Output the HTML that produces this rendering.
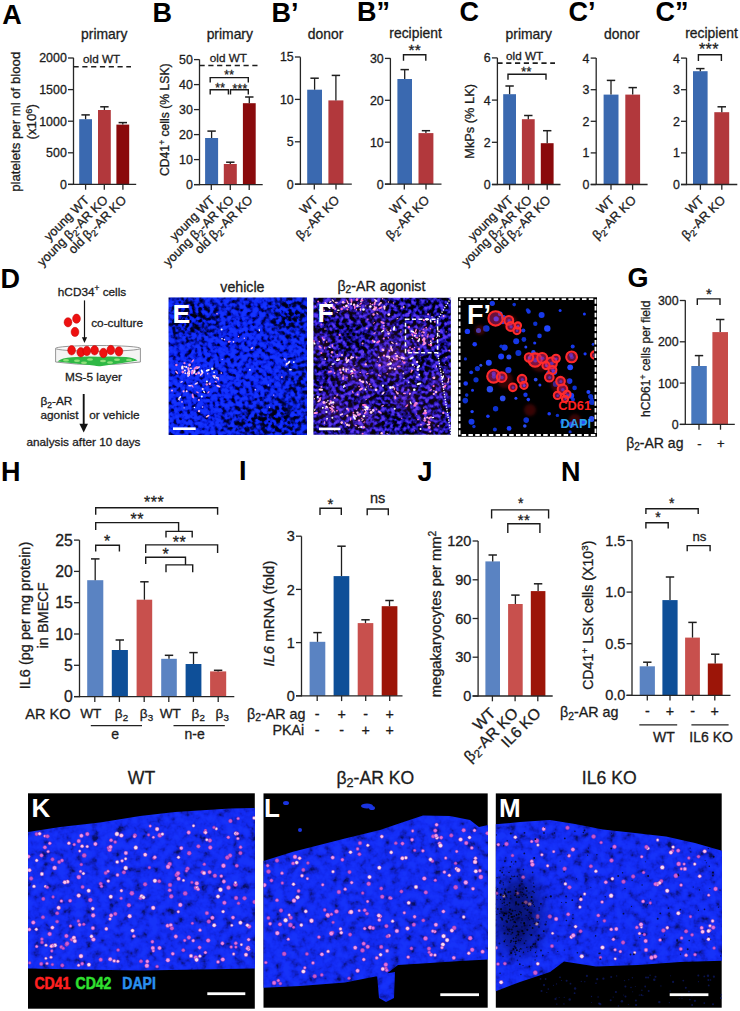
<!DOCTYPE html>
<html><head><meta charset="utf-8"><title>Figure</title>
<style>
html,body{margin:0;padding:0;background:#fff;}
body{width:740px;height:1011px;overflow:hidden;}
svg{display:block;font-family:"Liberation Sans", Arial, sans-serif;}
</style></head><body>
<svg width="740" height="1011" viewBox="0 0 740 1011">
<defs><clipPath id="cE"><rect x="168.6" y="297.4" width="138.4" height="137.7"/></clipPath><clipPath id="cF"><rect x="313.4" y="297.7" width="137.5" height="137.0"/></clipPath><filter id="glow" x="-50%" y="-50%" width="200%" height="200%"><feGaussianBlur stdDeviation="0.5"/></filter><filter id="soft" x="-50%" y="-50%" width="200%" height="200%"><feGaussianBlur stdDeviation="9"/></filter><filter id="fE" x="0" y="0" width="1" height="1" color-interpolation-filters="sRGB"><feTurbulence type="fractalNoise" baseFrequency="0.24" numOctaves="2" seed="11"/><feColorMatrix type="matrix" values="2.40 0 0 0 -0.48  2.40 0 0 0 -0.48  2.40 0 0 0 -0.48  0 0 0 0 1"/><feComponentTransfer><feFuncR type="table" tableValues="0 0 0.02 0.06 0.08"/><feFuncG type="table" tableValues="0 0.02 0.08 0.17 0.2"/><feFuncB type="table" tableValues="0.14 0.35 0.8 0.97 1"/></feComponentTransfer></filter><filter id="fE2" x="0" y="0" width="1" height="1" color-interpolation-filters="sRGB"><feTurbulence type="fractalNoise" baseFrequency="0.24" numOctaves="2" seed="11"/><feColorMatrix type="matrix" values="2.80 0 0 0 -1.02  2.80 0 0 0 -1.02  2.80 0 0 0 -1.02  0 0 0 0 1"/><feComponentTransfer><feFuncR type="table" tableValues="0 0 0.02 0.06 0.08"/><feFuncG type="table" tableValues="0 0.02 0.08 0.17 0.2"/><feFuncB type="table" tableValues="0.05 0.2 0.8 0.97 1"/></feComponentTransfer></filter><mask id="mE" maskUnits="userSpaceOnUse" x="160" y="290" width="155" height="155"><g filter="url(#soft)"><ellipse cx="190" cy="318" rx="26" ry="20" fill="#fff"/><ellipse cx="290" cy="315" rx="22" ry="18" fill="#fff"/><ellipse cx="275" cy="420" rx="32" ry="16" fill="#fff"/><ellipse cx="240" cy="425" rx="16" ry="10" fill="#fff"/><ellipse cx="300" cy="380" rx="10" ry="20" fill="#fff"/><ellipse cx="235" cy="300" rx="12" ry="6" fill="#fff"/></g></mask><filter id="fF" x="0" y="0" width="1" height="1" color-interpolation-filters="sRGB"><feTurbulence type="fractalNoise" baseFrequency="0.26" numOctaves="2" seed="23"/><feColorMatrix type="matrix" values="2.40 0 0 0 -0.72  2.40 0 0 0 -0.72  2.40 0 0 0 -0.72  0 0 0 0 1"/><feComponentTransfer><feFuncR type="table" tableValues="0 0.01 0.08 0.2 0.36"/><feFuncG type="table" tableValues="0 0 0.05 0.14 0.22"/><feFuncB type="table" tableValues="0 0.12 0.55 0.85 0.95"/></feComponentTransfer></filter><filter id="blur1" x="-50%" y="-50%" width="200%" height="200%"><feGaussianBlur stdDeviation="0.7"/></filter><filter id="blur2" x="-50%" y="-50%" width="200%" height="200%"><feGaussianBlur stdDeviation="1.6"/></filter><clipPath id="cFp"><rect x="458.1" y="297.5" width="138.9" height="138.9"/></clipPath><filter id="fT" x="0" y="0" width="1" height="1" color-interpolation-filters="sRGB"><feTurbulence type="fractalNoise" baseFrequency="0.12" numOctaves="3" seed="31"/><feColorMatrix type="matrix" values="1.80 0 0 0 -0.28  1.80 0 0 0 -0.28  1.80 0 0 0 -0.28  0 0 0 0 1"/><feComponentTransfer><feFuncR type="table" tableValues="0.03 0.06 0.07 0.08 0.09"/><feFuncG type="table" tableValues="0.06 0.12 0.16 0.18 0.2"/><feFuncB type="table" tableValues="0.4 0.76 0.92 0.97 0.98"/></feComponentTransfer></filter><clipPath id="cK"><path d="M28.0,832.0 L60.0,827.0 L100.0,822.6 L140.0,816.0 L175.0,812.0 L230.0,808.5 L255.0,808.0 L255.0,968.4 L200.0,969.5 L140.0,970.5 L80.0,969.5 L28.0,968.4 Z"/></clipPath><clipPath id="cL"><path d="M263.5,861.0 L293.0,851.7 L345.0,838.4 L380.0,830.0 L402.0,822.6 L423.0,815.5 L450.0,816.0 L470.0,820.0 L479.0,827.0 L488.0,825.0 L488.0,959.6 L460.0,961.0 L430.0,963.0 L398.0,965.0 L385.0,975.0 L373.0,977.0 L345.0,982.4 L300.0,986.0 L263.5,987.7 Z M377,975 L395,972 L394,998 L386,1002 L379,998 Z"/></clipPath><clipPath id="cM"><path d="M495.8,824.3 L520.0,822.0 L550.0,820.1 L575.0,824.0 L603.0,829.6 L635.0,833.0 L666.0,836.6 L695.0,843.0 L722.0,850.7 L722.0,960.7 L680.0,962.0 L638.0,964.9 L596.0,966.6 L580.0,964.0 L564.0,961.4 L550.0,971.9 L520.0,982.0 L495.8,991.2 Z"/></clipPath></defs>
<rect width="740" height="1011" fill="#fff"/>
<text x="2.2" y="24.0" font-size="27.00" font-weight="bold" fill="#000">A</text>
<text x="152.5" y="21.6" font-size="27.00" font-weight="bold" fill="#000">B</text>
<text x="271.5" y="21.6" font-size="27.00" font-weight="bold" fill="#000">B’</text>
<text x="357.0" y="20.5" font-size="27.00" font-weight="bold" fill="#000">B”</text>
<text x="459.6" y="21.2" font-size="27.00" font-weight="bold" fill="#000">C</text>
<text x="568.5" y="21.2" font-size="27.00" font-weight="bold" fill="#000">C’</text>
<text x="655.5" y="21.2" font-size="27.00" font-weight="bold" fill="#000">C”</text>
<text x="104.2" y="38.5" font-size="13.90" text-anchor="middle" fill="#1c1c1c" stroke="#1c1c1c" stroke-width="0.30">primary</text>
<text x="229.8" y="38.5" font-size="13.90" text-anchor="middle" fill="#1c1c1c" stroke="#1c1c1c" stroke-width="0.30">primary</text>
<text x="325.6" y="38.5" font-size="13.90" text-anchor="middle" fill="#1c1c1c" stroke="#1c1c1c" stroke-width="0.30">donor</text>
<text x="415.6" y="37.8" font-size="13.90" text-anchor="middle" fill="#1c1c1c" stroke="#1c1c1c" stroke-width="0.30">recipient</text>
<text x="528.7" y="39.0" font-size="13.90" text-anchor="middle" fill="#1c1c1c" stroke="#1c1c1c" stroke-width="0.30">primary</text>
<text x="621.8" y="38.5" font-size="13.90" text-anchor="middle" fill="#1c1c1c" stroke="#1c1c1c" stroke-width="0.30">donor</text>
<text x="711.5" y="38.1" font-size="13.90" text-anchor="middle" fill="#1c1c1c" stroke="#1c1c1c" stroke-width="0.30">recipient</text>
<line x1="73.5" y1="57.8" x2="73.5" y2="185.0" stroke="#262626" stroke-width="1.30"/>
<line x1="68.0" y1="184.4" x2="73.5" y2="184.4" stroke="#262626" stroke-width="1.30"/>
<text x="66.8" y="188.8" font-size="12.40" text-anchor="end" fill="#1c1c1c" stroke="#1c1c1c" stroke-width="0.30">0</text>
<line x1="68.0" y1="152.8" x2="73.5" y2="152.8" stroke="#262626" stroke-width="1.30"/>
<text x="66.8" y="157.2" font-size="12.40" text-anchor="end" fill="#1c1c1c" stroke="#1c1c1c" stroke-width="0.30">500</text>
<line x1="68.0" y1="121.2" x2="73.5" y2="121.2" stroke="#262626" stroke-width="1.30"/>
<text x="66.8" y="125.6" font-size="12.40" text-anchor="end" fill="#1c1c1c" stroke="#1c1c1c" stroke-width="0.30">1000</text>
<line x1="68.0" y1="89.6" x2="73.5" y2="89.6" stroke="#262626" stroke-width="1.30"/>
<text x="66.8" y="94.0" font-size="12.40" text-anchor="end" fill="#1c1c1c" stroke="#1c1c1c" stroke-width="0.30">1500</text>
<line x1="68.0" y1="58.0" x2="73.5" y2="58.0" stroke="#262626" stroke-width="1.30"/>
<text x="66.8" y="62.4" font-size="12.40" text-anchor="end" fill="#1c1c1c" stroke="#1c1c1c" stroke-width="0.30">2000</text>
<rect x="79.2" y="119.2" width="12.8" height="65.2" fill="#3a69b0"/>
<line x1="85.6" y1="119.2" x2="85.6" y2="114.9" stroke="#1e1e1e" stroke-width="1.30"/>
<line x1="81.4" y1="114.9" x2="89.8" y2="114.9" stroke="#1e1e1e" stroke-width="1.50"/>
<rect x="98.0" y="110.0" width="12.8" height="74.4" fill="#b2383c"/>
<line x1="104.4" y1="110.0" x2="104.4" y2="106.8" stroke="#1e1e1e" stroke-width="1.30"/>
<line x1="100.2" y1="106.8" x2="108.6" y2="106.8" stroke="#1e1e1e" stroke-width="1.50"/>
<rect x="116.4" y="124.6" width="12.8" height="59.8" fill="#8a0a0c"/>
<line x1="122.8" y1="124.6" x2="122.8" y2="122.6" stroke="#1e1e1e" stroke-width="1.30"/>
<line x1="118.6" y1="122.6" x2="127.0" y2="122.6" stroke="#1e1e1e" stroke-width="1.50"/>
<line x1="68.0" y1="184.4" x2="136.2" y2="184.4" stroke="#262626" stroke-width="1.30"/>
<line x1="85.6" y1="184.4" x2="85.6" y2="189.7" stroke="#262626" stroke-width="1.30"/>
<line x1="104.3" y1="184.4" x2="104.3" y2="189.7" stroke="#262626" stroke-width="1.30"/>
<line x1="122.9" y1="184.4" x2="122.9" y2="189.7" stroke="#262626" stroke-width="1.30"/>
<line x1="73.5" y1="66.8" x2="131.0" y2="66.8" stroke="#1e1e1e" stroke-width="1.60" stroke-dasharray="5.2 3.6"/>
<text x="101.6" y="62.8" font-size="11.70" text-anchor="middle" fill="#1c1c1c" stroke="#1c1c1c" stroke-width="0.30">old WT</text>
<text transform="translate(19.6 121.8) rotate(-90)" font-size="13.20" text-anchor="middle" fill="#1c1c1c" stroke="#1c1c1c" stroke-width="0.30">platelets per ml of blood</text>
<text transform="translate(36.2 121.8) rotate(-90)" font-size="13.20" text-anchor="middle" fill="#1c1c1c" stroke="#1c1c1c" stroke-width="0.30">(x10<tspan font-size="70%" dy="-4.5">6</tspan><tspan dy="4.5">)</tspan></text>
<line x1="199.5" y1="59.4" x2="199.5" y2="185.2" stroke="#262626" stroke-width="1.30"/>
<line x1="194.0" y1="184.6" x2="199.5" y2="184.6" stroke="#262626" stroke-width="1.30"/>
<text x="192.8" y="189.0" font-size="12.40" text-anchor="end" fill="#1c1c1c" stroke="#1c1c1c" stroke-width="0.30">0</text>
<line x1="194.0" y1="159.6" x2="199.5" y2="159.6" stroke="#262626" stroke-width="1.30"/>
<text x="192.8" y="164.0" font-size="12.40" text-anchor="end" fill="#1c1c1c" stroke="#1c1c1c" stroke-width="0.30">10</text>
<line x1="194.0" y1="134.6" x2="199.5" y2="134.6" stroke="#262626" stroke-width="1.30"/>
<text x="192.8" y="139.0" font-size="12.40" text-anchor="end" fill="#1c1c1c" stroke="#1c1c1c" stroke-width="0.30">20</text>
<line x1="194.0" y1="109.6" x2="199.5" y2="109.6" stroke="#262626" stroke-width="1.30"/>
<text x="192.8" y="114.0" font-size="12.40" text-anchor="end" fill="#1c1c1c" stroke="#1c1c1c" stroke-width="0.30">30</text>
<line x1="194.0" y1="84.6" x2="199.5" y2="84.6" stroke="#262626" stroke-width="1.30"/>
<text x="192.8" y="89.0" font-size="12.40" text-anchor="end" fill="#1c1c1c" stroke="#1c1c1c" stroke-width="0.30">40</text>
<line x1="194.0" y1="59.6" x2="199.5" y2="59.6" stroke="#262626" stroke-width="1.30"/>
<text x="192.8" y="64.0" font-size="12.40" text-anchor="end" fill="#1c1c1c" stroke="#1c1c1c" stroke-width="0.30">50</text>
<rect x="205.1" y="138.0" width="13.0" height="46.6" fill="#3a69b0"/>
<line x1="211.6" y1="138.0" x2="211.6" y2="131.1" stroke="#1e1e1e" stroke-width="1.30"/>
<line x1="207.4" y1="131.1" x2="215.8" y2="131.1" stroke="#1e1e1e" stroke-width="1.50"/>
<rect x="223.8" y="164.0" width="13.0" height="20.6" fill="#b2383c"/>
<line x1="230.3" y1="164.0" x2="230.3" y2="162.2" stroke="#1e1e1e" stroke-width="1.30"/>
<line x1="226.1" y1="162.2" x2="234.5" y2="162.2" stroke="#1e1e1e" stroke-width="1.50"/>
<rect x="242.9" y="103.2" width="12.8" height="81.4" fill="#8a0a0c"/>
<line x1="249.3" y1="103.2" x2="249.3" y2="97.0" stroke="#1e1e1e" stroke-width="1.30"/>
<line x1="245.1" y1="97.0" x2="253.5" y2="97.0" stroke="#1e1e1e" stroke-width="1.50"/>
<line x1="194.0" y1="184.6" x2="262.7" y2="184.6" stroke="#262626" stroke-width="1.30"/>
<line x1="211.3" y1="184.6" x2="211.3" y2="189.9" stroke="#262626" stroke-width="1.30"/>
<line x1="230.3" y1="184.6" x2="230.3" y2="189.9" stroke="#262626" stroke-width="1.30"/>
<line x1="249.2" y1="184.6" x2="249.2" y2="189.9" stroke="#262626" stroke-width="1.30"/>
<line x1="199.5" y1="65.5" x2="258.0" y2="65.5" stroke="#1e1e1e" stroke-width="1.60" stroke-dasharray="5.2 3.6"/>
<text x="228.3" y="61.9" font-size="11.70" text-anchor="middle" fill="#1c1c1c" stroke="#1c1c1c" stroke-width="0.30">old WT</text>
<polyline points="210.2,82.5 210.2,77.6 248.3,77.6 248.3,82.5" fill="none" stroke="#1a1a1a" stroke-width="1.40"/>
<text x="229.2" y="78.7" font-size="12.00" text-anchor="middle" fill="#1c1c1c" letter-spacing="0.30" stroke="#1c1c1c" stroke-width="0.30">**</text>
<polyline points="210.2,94.4 210.2,89.8 228.4,89.8 228.4,94.4" fill="none" stroke="#1a1a1a" stroke-width="1.40"/>
<polyline points="230.5,94.4 230.5,89.8 248.3,89.8 248.3,94.4" fill="none" stroke="#1a1a1a" stroke-width="1.40"/>
<text x="220.3" y="91.9" font-size="12.00" text-anchor="middle" fill="#1c1c1c" letter-spacing="0.30" stroke="#1c1c1c" stroke-width="0.30">**</text>
<text x="240.0" y="92.6" font-size="12.00" text-anchor="middle" fill="#1c1c1c" letter-spacing="0.30" stroke="#1c1c1c" stroke-width="0.30">***</text>
<text transform="translate(169.0 119.7) rotate(-90)" font-size="12.20" text-anchor="middle" fill="#1c1c1c" stroke="#1c1c1c" stroke-width="0.30">CD41<tspan font-size="70%" dy="-4.5">+</tspan><tspan dy="4.5"> cells (% LSK)</tspan></text>
<line x1="300.4" y1="57.2" x2="300.4" y2="184.8" stroke="#262626" stroke-width="1.30"/>
<line x1="294.9" y1="184.2" x2="300.4" y2="184.2" stroke="#262626" stroke-width="1.30"/>
<text x="293.7" y="188.6" font-size="12.40" text-anchor="end" fill="#1c1c1c" stroke="#1c1c1c" stroke-width="0.30">0</text>
<line x1="294.9" y1="141.8" x2="300.4" y2="141.8" stroke="#262626" stroke-width="1.30"/>
<text x="293.7" y="146.2" font-size="12.40" text-anchor="end" fill="#1c1c1c" stroke="#1c1c1c" stroke-width="0.30">5</text>
<line x1="294.9" y1="99.4" x2="300.4" y2="99.4" stroke="#262626" stroke-width="1.30"/>
<text x="293.7" y="103.8" font-size="12.40" text-anchor="end" fill="#1c1c1c" stroke="#1c1c1c" stroke-width="0.30">10</text>
<line x1="294.9" y1="57.0" x2="300.4" y2="57.0" stroke="#262626" stroke-width="1.30"/>
<text x="293.7" y="61.4" font-size="12.40" text-anchor="end" fill="#1c1c1c" stroke="#1c1c1c" stroke-width="0.30">15</text>
<rect x="307.2" y="89.7" width="14.8" height="94.5" fill="#3a69b0"/>
<line x1="314.6" y1="89.7" x2="314.6" y2="78.2" stroke="#1e1e1e" stroke-width="1.30"/>
<line x1="310.4" y1="78.2" x2="318.8" y2="78.2" stroke="#1e1e1e" stroke-width="1.50"/>
<rect x="328.4" y="100.4" width="15.0" height="83.8" fill="#b2383c"/>
<line x1="335.9" y1="100.4" x2="335.9" y2="75.4" stroke="#1e1e1e" stroke-width="1.30"/>
<line x1="331.7" y1="75.4" x2="340.1" y2="75.4" stroke="#1e1e1e" stroke-width="1.50"/>
<line x1="294.9" y1="184.2" x2="351.8" y2="184.2" stroke="#262626" stroke-width="1.30"/>
<line x1="314.3" y1="184.2" x2="314.3" y2="189.5" stroke="#262626" stroke-width="1.30"/>
<line x1="336.0" y1="184.2" x2="336.0" y2="189.5" stroke="#262626" stroke-width="1.30"/>
<line x1="390.4" y1="58.2" x2="390.4" y2="184.7" stroke="#262626" stroke-width="1.30"/>
<line x1="384.9" y1="184.1" x2="390.4" y2="184.1" stroke="#262626" stroke-width="1.30"/>
<text x="383.7" y="188.5" font-size="12.40" text-anchor="end" fill="#1c1c1c" stroke="#1c1c1c" stroke-width="0.30">0</text>
<line x1="384.9" y1="142.2" x2="390.4" y2="142.2" stroke="#262626" stroke-width="1.30"/>
<text x="383.7" y="146.6" font-size="12.40" text-anchor="end" fill="#1c1c1c" stroke="#1c1c1c" stroke-width="0.30">10</text>
<line x1="384.9" y1="100.3" x2="390.4" y2="100.3" stroke="#262626" stroke-width="1.30"/>
<text x="383.7" y="104.7" font-size="12.40" text-anchor="end" fill="#1c1c1c" stroke="#1c1c1c" stroke-width="0.30">20</text>
<line x1="384.9" y1="58.4" x2="390.4" y2="58.4" stroke="#262626" stroke-width="1.30"/>
<text x="383.7" y="62.8" font-size="12.40" text-anchor="end" fill="#1c1c1c" stroke="#1c1c1c" stroke-width="0.30">30</text>
<rect x="397.4" y="79.0" width="14.6" height="105.1" fill="#3a69b0"/>
<line x1="404.7" y1="79.0" x2="404.7" y2="69.6" stroke="#1e1e1e" stroke-width="1.30"/>
<line x1="400.5" y1="69.6" x2="408.9" y2="69.6" stroke="#1e1e1e" stroke-width="1.50"/>
<rect x="418.5" y="133.1" width="14.9" height="51.0" fill="#b2383c"/>
<line x1="425.9" y1="133.1" x2="425.9" y2="130.7" stroke="#1e1e1e" stroke-width="1.30"/>
<line x1="421.8" y1="130.7" x2="430.1" y2="130.7" stroke="#1e1e1e" stroke-width="1.50"/>
<line x1="384.9" y1="184.1" x2="441.5" y2="184.1" stroke="#262626" stroke-width="1.30"/>
<line x1="404.3" y1="184.1" x2="404.3" y2="189.4" stroke="#262626" stroke-width="1.30"/>
<line x1="426.0" y1="184.1" x2="426.0" y2="189.4" stroke="#262626" stroke-width="1.30"/>
<polyline points="403.5,60.8 403.5,54.7 425.8,54.7 425.8,60.8" fill="none" stroke="#1a1a1a" stroke-width="1.40"/>
<text x="414.8" y="54.6" font-size="15.50" text-anchor="middle" fill="#1c1c1c" letter-spacing="0.30" stroke="#1c1c1c" stroke-width="0.30">**</text>
<line x1="497.4" y1="57.9" x2="497.4" y2="185.1" stroke="#262626" stroke-width="1.30"/>
<line x1="491.9" y1="184.5" x2="497.4" y2="184.5" stroke="#262626" stroke-width="1.30"/>
<text x="490.7" y="188.9" font-size="12.40" text-anchor="end" fill="#1c1c1c" stroke="#1c1c1c" stroke-width="0.30">0</text>
<line x1="491.9" y1="142.3" x2="497.4" y2="142.3" stroke="#262626" stroke-width="1.30"/>
<text x="490.7" y="146.7" font-size="12.40" text-anchor="end" fill="#1c1c1c" stroke="#1c1c1c" stroke-width="0.30">2</text>
<line x1="491.9" y1="100.1" x2="497.4" y2="100.1" stroke="#262626" stroke-width="1.30"/>
<text x="490.7" y="104.5" font-size="12.40" text-anchor="end" fill="#1c1c1c" stroke="#1c1c1c" stroke-width="0.30">4</text>
<line x1="491.9" y1="57.9" x2="497.4" y2="57.9" stroke="#262626" stroke-width="1.30"/>
<text x="490.7" y="62.3" font-size="12.40" text-anchor="end" fill="#1c1c1c" stroke="#1c1c1c" stroke-width="0.30">6</text>
<rect x="503.2" y="94.2" width="12.8" height="90.3" fill="#3a69b0"/>
<line x1="509.6" y1="94.2" x2="509.6" y2="86.0" stroke="#1e1e1e" stroke-width="1.30"/>
<line x1="505.4" y1="86.0" x2="513.8" y2="86.0" stroke="#1e1e1e" stroke-width="1.50"/>
<rect x="521.9" y="119.2" width="12.8" height="65.3" fill="#b2383c"/>
<line x1="528.3" y1="119.2" x2="528.3" y2="115.5" stroke="#1e1e1e" stroke-width="1.30"/>
<line x1="524.1" y1="115.5" x2="532.5" y2="115.5" stroke="#1e1e1e" stroke-width="1.50"/>
<rect x="540.8" y="143.2" width="12.8" height="41.3" fill="#8a0a0c"/>
<line x1="547.2" y1="143.2" x2="547.2" y2="130.7" stroke="#1e1e1e" stroke-width="1.30"/>
<line x1="543.0" y1="130.7" x2="551.4" y2="130.7" stroke="#1e1e1e" stroke-width="1.50"/>
<line x1="491.9" y1="184.5" x2="560.5" y2="184.5" stroke="#262626" stroke-width="1.30"/>
<line x1="509.6" y1="184.5" x2="509.6" y2="189.8" stroke="#262626" stroke-width="1.30"/>
<line x1="528.5" y1="184.5" x2="528.5" y2="189.8" stroke="#262626" stroke-width="1.30"/>
<line x1="547.2" y1="184.5" x2="547.2" y2="189.8" stroke="#262626" stroke-width="1.30"/>
<line x1="497.4" y1="63.1" x2="555.0" y2="63.1" stroke="#1e1e1e" stroke-width="1.60" stroke-dasharray="5.2 3.6"/>
<text x="524.6" y="59.7" font-size="11.70" text-anchor="middle" fill="#1c1c1c" stroke="#1c1c1c" stroke-width="0.30">old WT</text>
<polyline points="508.0,79.7 508.0,74.3 546.0,74.3 546.0,79.7" fill="none" stroke="#1a1a1a" stroke-width="1.40"/>
<text x="526.4" y="76.4" font-size="12.50" text-anchor="middle" fill="#1c1c1c" letter-spacing="0.30" stroke="#1c1c1c" stroke-width="0.30">**</text>
<text transform="translate(474.0 121.4) rotate(-90)" font-size="12.80" text-anchor="middle" fill="#1c1c1c" stroke="#1c1c1c" stroke-width="0.30">MkPs (% LK)</text>
<line x1="596.2" y1="57.9" x2="596.2" y2="185.1" stroke="#262626" stroke-width="1.30"/>
<line x1="590.7" y1="184.5" x2="596.2" y2="184.5" stroke="#262626" stroke-width="1.30"/>
<text x="589.5" y="188.9" font-size="12.40" text-anchor="end" fill="#1c1c1c" stroke="#1c1c1c" stroke-width="0.30">0</text>
<line x1="590.7" y1="152.9" x2="596.2" y2="152.9" stroke="#262626" stroke-width="1.30"/>
<text x="589.5" y="157.3" font-size="12.40" text-anchor="end" fill="#1c1c1c" stroke="#1c1c1c" stroke-width="0.30">1</text>
<line x1="590.7" y1="121.3" x2="596.2" y2="121.3" stroke="#262626" stroke-width="1.30"/>
<text x="589.5" y="125.7" font-size="12.40" text-anchor="end" fill="#1c1c1c" stroke="#1c1c1c" stroke-width="0.30">2</text>
<line x1="590.7" y1="89.7" x2="596.2" y2="89.7" stroke="#262626" stroke-width="1.30"/>
<text x="589.5" y="94.1" font-size="12.40" text-anchor="end" fill="#1c1c1c" stroke="#1c1c1c" stroke-width="0.30">3</text>
<line x1="590.7" y1="58.1" x2="596.2" y2="58.1" stroke="#262626" stroke-width="1.30"/>
<text x="589.5" y="62.5" font-size="12.40" text-anchor="end" fill="#1c1c1c" stroke="#1c1c1c" stroke-width="0.30">4</text>
<rect x="603.6" y="94.6" width="14.9" height="89.9" fill="#3a69b0"/>
<line x1="611.0" y1="94.6" x2="611.0" y2="80.4" stroke="#1e1e1e" stroke-width="1.30"/>
<line x1="606.8" y1="80.4" x2="615.2" y2="80.4" stroke="#1e1e1e" stroke-width="1.50"/>
<rect x="625.3" y="94.6" width="14.8" height="89.9" fill="#b2383c"/>
<line x1="632.7" y1="94.6" x2="632.7" y2="87.6" stroke="#1e1e1e" stroke-width="1.30"/>
<line x1="628.5" y1="87.6" x2="636.9" y2="87.6" stroke="#1e1e1e" stroke-width="1.50"/>
<line x1="590.7" y1="184.5" x2="647.6" y2="184.5" stroke="#262626" stroke-width="1.30"/>
<line x1="611.0" y1="184.5" x2="611.0" y2="189.8" stroke="#262626" stroke-width="1.30"/>
<line x1="632.6" y1="184.5" x2="632.6" y2="189.8" stroke="#262626" stroke-width="1.30"/>
<line x1="686.5" y1="57.9" x2="686.5" y2="185.1" stroke="#262626" stroke-width="1.30"/>
<line x1="681.0" y1="184.5" x2="686.5" y2="184.5" stroke="#262626" stroke-width="1.30"/>
<text x="679.8" y="188.9" font-size="12.40" text-anchor="end" fill="#1c1c1c" stroke="#1c1c1c" stroke-width="0.30">0</text>
<line x1="681.0" y1="152.9" x2="686.5" y2="152.9" stroke="#262626" stroke-width="1.30"/>
<text x="679.8" y="157.3" font-size="12.40" text-anchor="end" fill="#1c1c1c" stroke="#1c1c1c" stroke-width="0.30">1</text>
<line x1="681.0" y1="121.3" x2="686.5" y2="121.3" stroke="#262626" stroke-width="1.30"/>
<text x="679.8" y="125.7" font-size="12.40" text-anchor="end" fill="#1c1c1c" stroke="#1c1c1c" stroke-width="0.30">2</text>
<line x1="681.0" y1="89.7" x2="686.5" y2="89.7" stroke="#262626" stroke-width="1.30"/>
<text x="679.8" y="94.1" font-size="12.40" text-anchor="end" fill="#1c1c1c" stroke="#1c1c1c" stroke-width="0.30">3</text>
<line x1="681.0" y1="58.1" x2="686.5" y2="58.1" stroke="#262626" stroke-width="1.30"/>
<text x="679.8" y="62.5" font-size="12.40" text-anchor="end" fill="#1c1c1c" stroke="#1c1c1c" stroke-width="0.30">4</text>
<rect x="693.0" y="71.2" width="14.6" height="113.3" fill="#3a69b0"/>
<line x1="700.3" y1="71.2" x2="700.3" y2="68.6" stroke="#1e1e1e" stroke-width="1.30"/>
<line x1="696.1" y1="68.6" x2="704.5" y2="68.6" stroke="#1e1e1e" stroke-width="1.50"/>
<rect x="714.3" y="112.2" width="14.9" height="72.3" fill="#b2383c"/>
<line x1="721.8" y1="112.2" x2="721.8" y2="106.8" stroke="#1e1e1e" stroke-width="1.30"/>
<line x1="717.5" y1="106.8" x2="726.0" y2="106.8" stroke="#1e1e1e" stroke-width="1.50"/>
<line x1="681.0" y1="184.5" x2="737.3" y2="184.5" stroke="#262626" stroke-width="1.30"/>
<line x1="700.4" y1="184.5" x2="700.4" y2="189.8" stroke="#262626" stroke-width="1.30"/>
<line x1="721.8" y1="184.5" x2="721.8" y2="189.8" stroke="#262626" stroke-width="1.30"/>
<polyline points="698.4,61.0 698.4,54.7 721.4,54.7 721.4,61.0" fill="none" stroke="#1a1a1a" stroke-width="1.40"/>
<text x="708.9" y="55.0" font-size="16.00" text-anchor="middle" fill="#1c1c1c" letter-spacing="0.30" stroke="#1c1c1c" stroke-width="0.30">***</text>
<text transform="translate(89.9 200.8) rotate(-45)" font-size="12.60" text-anchor="end" fill="#1c1c1c" stroke="#1c1c1c" stroke-width="0.30">young WT</text>
<text transform="translate(108.6 200.8) rotate(-45)" font-size="12.60" text-anchor="end" fill="#1c1c1c" stroke="#1c1c1c" stroke-width="0.30">young β<tspan font-size="72%" dy="2.6">2</tspan><tspan dy="-2.6">-AR KO</tspan></text>
<text transform="translate(127.2 200.8) rotate(-45)" font-size="12.60" text-anchor="end" fill="#1c1c1c" stroke="#1c1c1c" stroke-width="0.30">old β<tspan font-size="72%" dy="2.6">2</tspan><tspan dy="-2.6">-AR KO</tspan></text>
<text transform="translate(215.6 200.8) rotate(-45)" font-size="12.60" text-anchor="end" fill="#1c1c1c" stroke="#1c1c1c" stroke-width="0.30">young WT</text>
<text transform="translate(234.6 200.8) rotate(-45)" font-size="12.60" text-anchor="end" fill="#1c1c1c" stroke="#1c1c1c" stroke-width="0.30">young β<tspan font-size="72%" dy="2.6">2</tspan><tspan dy="-2.6">-AR KO</tspan></text>
<text transform="translate(253.5 200.8) rotate(-45)" font-size="12.60" text-anchor="end" fill="#1c1c1c" stroke="#1c1c1c" stroke-width="0.30">old β<tspan font-size="72%" dy="2.6">2</tspan><tspan dy="-2.6">-AR KO</tspan></text>
<text transform="translate(318.6 200.8) rotate(-45)" font-size="12.60" text-anchor="end" fill="#1c1c1c" stroke="#1c1c1c" stroke-width="0.30">WT</text>
<text transform="translate(340.3 200.8) rotate(-45)" font-size="12.60" text-anchor="end" fill="#1c1c1c" stroke="#1c1c1c" stroke-width="0.30">β<tspan font-size="72%" dy="2.6">2</tspan><tspan dy="-2.6">-AR KO</tspan></text>
<text transform="translate(408.6 200.8) rotate(-45)" font-size="12.60" text-anchor="end" fill="#1c1c1c" stroke="#1c1c1c" stroke-width="0.30">WT</text>
<text transform="translate(430.3 200.8) rotate(-45)" font-size="12.60" text-anchor="end" fill="#1c1c1c" stroke="#1c1c1c" stroke-width="0.30">β<tspan font-size="72%" dy="2.6">2</tspan><tspan dy="-2.6">-AR KO</tspan></text>
<text transform="translate(513.9 200.8) rotate(-45)" font-size="12.60" text-anchor="end" fill="#1c1c1c" stroke="#1c1c1c" stroke-width="0.30">young WT</text>
<text transform="translate(532.8 200.8) rotate(-45)" font-size="12.60" text-anchor="end" fill="#1c1c1c" stroke="#1c1c1c" stroke-width="0.30">young β<tspan font-size="72%" dy="2.6">2</tspan><tspan dy="-2.6">-AR KO</tspan></text>
<text transform="translate(551.5 200.8) rotate(-45)" font-size="12.60" text-anchor="end" fill="#1c1c1c" stroke="#1c1c1c" stroke-width="0.30">old β<tspan font-size="72%" dy="2.6">2</tspan><tspan dy="-2.6">-AR KO</tspan></text>
<text transform="translate(615.3 200.8) rotate(-45)" font-size="12.60" text-anchor="end" fill="#1c1c1c" stroke="#1c1c1c" stroke-width="0.30">WT</text>
<text transform="translate(636.9 200.8) rotate(-45)" font-size="12.60" text-anchor="end" fill="#1c1c1c" stroke="#1c1c1c" stroke-width="0.30">β<tspan font-size="72%" dy="2.6">2</tspan><tspan dy="-2.6">-AR KO</tspan></text>
<text transform="translate(704.7 200.8) rotate(-45)" font-size="12.60" text-anchor="end" fill="#1c1c1c" stroke="#1c1c1c" stroke-width="0.30">WT</text>
<text transform="translate(726.1 200.8) rotate(-45)" font-size="12.60" text-anchor="end" fill="#1c1c1c" stroke="#1c1c1c" stroke-width="0.30">β<tspan font-size="72%" dy="2.6">2</tspan><tspan dy="-2.6">-AR KO</tspan></text>
<text x="0.5" y="287.8" font-size="27.00" font-weight="bold" fill="#000">D</text>
<text x="627.5" y="287.0" font-size="27.00" font-weight="bold" fill="#000">G</text>
<text x="57.8" y="295.7" font-size="11.80" fill="#1c1c1c" stroke="#1c1c1c" stroke-width="0.30">hCD34<tspan font-size="70%" dy="-4.5">+</tspan><tspan dy="4.5"> cells</tspan></text>
<text x="91.2" y="327.2" font-size="11.80" fill="#1c1c1c" stroke="#1c1c1c" stroke-width="0.30">co-culture</text>
<text x="64.9" y="380.9" font-size="11.80" fill="#1c1c1c" stroke="#1c1c1c" stroke-width="0.30">MS-5 layer</text>
<text x="40.5" y="405.0" font-size="11.80" fill="#1c1c1c" stroke="#1c1c1c" stroke-width="0.30">β<tspan font-size="72%" dy="2.6">2</tspan><tspan dy="-2.6">-AR</tspan></text>
<text x="40.5" y="418.8" font-size="11.80" fill="#1c1c1c" stroke="#1c1c1c" stroke-width="0.30">agonist</text>
<text x="89.2" y="418.8" font-size="11.80" fill="#1c1c1c" stroke="#1c1c1c" stroke-width="0.30">or vehicle</text>
<text x="26.4" y="446.2" font-size="11.80" fill="#1c1c1c" stroke="#1c1c1c" stroke-width="0.30">analysis after 10 days</text>
<text x="242.4" y="291.9" font-size="14.20" text-anchor="middle" fill="#1c1c1c" stroke="#1c1c1c" stroke-width="0.30">vehicle</text>
<text x="381.4" y="290.5" font-size="14.20" text-anchor="middle" fill="#1c1c1c" stroke="#1c1c1c" stroke-width="0.30">β<tspan font-size="72%" dy="2.6">2</tspan><tspan dy="-2.6">-AR agonist</tspan></text>
<line x1="685.3" y1="300.2" x2="685.3" y2="425.0" stroke="#262626" stroke-width="1.30"/>
<line x1="679.8" y1="424.4" x2="685.3" y2="424.4" stroke="#262626" stroke-width="1.30"/>
<text x="678.6" y="428.8" font-size="12.40" text-anchor="end" fill="#1c1c1c" stroke="#1c1c1c" stroke-width="0.30">0</text>
<line x1="679.8" y1="383.1" x2="685.3" y2="383.1" stroke="#262626" stroke-width="1.30"/>
<text x="678.6" y="387.5" font-size="12.40" text-anchor="end" fill="#1c1c1c" stroke="#1c1c1c" stroke-width="0.30">100</text>
<line x1="679.8" y1="341.8" x2="685.3" y2="341.8" stroke="#262626" stroke-width="1.30"/>
<text x="678.6" y="346.2" font-size="12.40" text-anchor="end" fill="#1c1c1c" stroke="#1c1c1c" stroke-width="0.30">200</text>
<line x1="679.8" y1="300.5" x2="685.3" y2="300.5" stroke="#262626" stroke-width="1.30"/>
<text x="678.6" y="304.9" font-size="12.40" text-anchor="end" fill="#1c1c1c" stroke="#1c1c1c" stroke-width="0.30">300</text>
<rect x="691.3" y="366.0" width="15.5" height="58.4" fill="#4777bd"/>
<line x1="699.0" y1="366.0" x2="699.0" y2="355.6" stroke="#1e1e1e" stroke-width="1.30"/>
<line x1="694.8" y1="355.6" x2="703.2" y2="355.6" stroke="#1e1e1e" stroke-width="1.50"/>
<rect x="712.4" y="332.1" width="15.6" height="92.3" fill="#c64b48"/>
<line x1="720.2" y1="332.1" x2="720.2" y2="319.5" stroke="#1e1e1e" stroke-width="1.30"/>
<line x1="716.0" y1="319.5" x2="724.4" y2="319.5" stroke="#1e1e1e" stroke-width="1.50"/>
<line x1="679.8" y1="424.4" x2="734.8" y2="424.4" stroke="#262626" stroke-width="1.30"/>
<line x1="699.0" y1="424.4" x2="699.0" y2="429.7" stroke="#262626" stroke-width="1.30"/>
<line x1="720.5" y1="424.4" x2="720.5" y2="429.7" stroke="#262626" stroke-width="1.30"/>
<polyline points="697.3,304.9 697.3,298.9 720.0,298.9 720.0,304.9" fill="none" stroke="#1a1a1a" stroke-width="1.40"/>
<text x="708.8" y="299.2" font-size="15.00" text-anchor="middle" fill="#1c1c1c" stroke="#1c1c1c" stroke-width="0.30">*</text>
<text transform="translate(650.0 358.8) rotate(-90)" font-size="12.10" text-anchor="middle" fill="#1c1c1c" stroke="#1c1c1c" stroke-width="0.30">hCD61<tspan font-size="70%" dy="-4.5">+</tspan><tspan dy="4.5"> cells per field</tspan></text>
<text x="626.2" y="447.8" font-size="14.00" fill="#1c1c1c" stroke="#1c1c1c" stroke-width="0.30">β<tspan font-size="72%" dy="2.6">2</tspan><tspan dy="-2.6">-AR ag</tspan></text>
<text x="699.5" y="447.8" font-size="13.00" text-anchor="middle" fill="#1c1c1c" stroke="#1c1c1c" stroke-width="0.30">-</text>
<text x="720.9" y="447.8" font-size="13.00" text-anchor="middle" fill="#1c1c1c" stroke="#1c1c1c" stroke-width="0.30">+</text>
<text x="1.0" y="481.1" font-size="27.00" font-weight="bold" fill="#000">H</text>
<text x="239.0" y="480.3" font-size="27.00" font-weight="bold" fill="#000">I</text>
<text x="417.5" y="481.1" font-size="27.00" font-weight="bold" fill="#000">J</text>
<text x="561.0" y="480.7" font-size="27.00" font-weight="bold" fill="#000">N</text>
<line x1="79.5" y1="540.1" x2="79.5" y2="697.2" stroke="#262626" stroke-width="1.30"/>
<line x1="74.0" y1="696.6" x2="79.5" y2="696.6" stroke="#262626" stroke-width="1.30"/>
<text x="72.8" y="702.2" font-size="15.80" text-anchor="end" fill="#1c1c1c" stroke="#1c1c1c" stroke-width="0.30">0</text>
<line x1="74.0" y1="665.3" x2="79.5" y2="665.3" stroke="#262626" stroke-width="1.30"/>
<text x="72.8" y="670.9" font-size="15.80" text-anchor="end" fill="#1c1c1c" stroke="#1c1c1c" stroke-width="0.30">5</text>
<line x1="74.0" y1="634.0" x2="79.5" y2="634.0" stroke="#262626" stroke-width="1.30"/>
<text x="72.8" y="639.6" font-size="15.80" text-anchor="end" fill="#1c1c1c" stroke="#1c1c1c" stroke-width="0.30">10</text>
<line x1="74.0" y1="602.7" x2="79.5" y2="602.7" stroke="#262626" stroke-width="1.30"/>
<text x="72.8" y="608.3" font-size="15.80" text-anchor="end" fill="#1c1c1c" stroke="#1c1c1c" stroke-width="0.30">15</text>
<line x1="74.0" y1="571.4" x2="79.5" y2="571.4" stroke="#262626" stroke-width="1.30"/>
<text x="72.8" y="577.0" font-size="15.80" text-anchor="end" fill="#1c1c1c" stroke="#1c1c1c" stroke-width="0.30">20</text>
<line x1="74.0" y1="540.1" x2="79.5" y2="540.1" stroke="#262626" stroke-width="1.30"/>
<text x="72.8" y="545.7" font-size="15.80" text-anchor="end" fill="#1c1c1c" stroke="#1c1c1c" stroke-width="0.30">25</text>
<rect x="87.2" y="580.2" width="16.1" height="116.4" fill="#5a83c2"/>
<line x1="95.2" y1="580.2" x2="95.2" y2="558.9" stroke="#1e1e1e" stroke-width="1.30"/>
<line x1="91.0" y1="558.9" x2="99.5" y2="558.9" stroke="#1e1e1e" stroke-width="1.50"/>
<rect x="111.8" y="650.0" width="16.1" height="46.6" fill="#0e4f98"/>
<line x1="119.8" y1="650.0" x2="119.8" y2="640.0" stroke="#1e1e1e" stroke-width="1.30"/>
<line x1="115.6" y1="640.0" x2="124.0" y2="640.0" stroke="#1e1e1e" stroke-width="1.50"/>
<rect x="136.6" y="599.7" width="15.6" height="96.9" fill="#c8504d"/>
<line x1="144.4" y1="599.7" x2="144.4" y2="581.8" stroke="#1e1e1e" stroke-width="1.30"/>
<line x1="140.2" y1="581.8" x2="148.6" y2="581.8" stroke="#1e1e1e" stroke-width="1.50"/>
<rect x="161.2" y="658.8" width="15.6" height="37.8" fill="#5a83c2"/>
<line x1="169.0" y1="658.8" x2="169.0" y2="655.3" stroke="#1e1e1e" stroke-width="1.30"/>
<line x1="164.8" y1="655.3" x2="173.2" y2="655.3" stroke="#1e1e1e" stroke-width="1.50"/>
<rect x="185.6" y="664.0" width="15.8" height="32.6" fill="#0e4f98"/>
<line x1="193.5" y1="664.0" x2="193.5" y2="652.6" stroke="#1e1e1e" stroke-width="1.30"/>
<line x1="189.3" y1="652.6" x2="197.7" y2="652.6" stroke="#1e1e1e" stroke-width="1.50"/>
<rect x="210.1" y="671.4" width="16.1" height="25.2" fill="#c8504d"/>
<line x1="218.1" y1="671.4" x2="218.1" y2="670.3" stroke="#1e1e1e" stroke-width="1.30"/>
<line x1="213.9" y1="670.3" x2="222.3" y2="670.3" stroke="#1e1e1e" stroke-width="1.50"/>
<line x1="74.0" y1="696.6" x2="234.3" y2="696.6" stroke="#262626" stroke-width="1.30"/>
<line x1="94.8" y1="696.6" x2="94.8" y2="701.9" stroke="#262626" stroke-width="1.30"/>
<line x1="119.4" y1="696.6" x2="119.4" y2="701.9" stroke="#262626" stroke-width="1.30"/>
<line x1="144.2" y1="696.6" x2="144.2" y2="701.9" stroke="#262626" stroke-width="1.30"/>
<line x1="168.8" y1="696.6" x2="168.8" y2="701.9" stroke="#262626" stroke-width="1.30"/>
<line x1="193.4" y1="696.6" x2="193.4" y2="701.9" stroke="#262626" stroke-width="1.30"/>
<line x1="218.2" y1="696.6" x2="218.2" y2="701.9" stroke="#262626" stroke-width="1.30"/>
<polyline points="95.7,514.7 95.7,507.8 217.6,507.8 217.6,514.7" fill="none" stroke="#1a1a1a" stroke-width="1.40"/>
<text x="154.2" y="507.7" font-size="16.00" text-anchor="middle" fill="#1c1c1c" letter-spacing="0.60" stroke="#1c1c1c" stroke-width="0.30">***</text>
<polyline points="95.7,530.1 95.7,522.6 178.6,522.6 178.6,531.4" fill="none" stroke="#1a1a1a" stroke-width="1.40"/>
<polyline points="166.0,537.6 166.0,531.4 192.2,531.4 192.2,537.6" fill="none" stroke="#1a1a1a" stroke-width="1.40"/>
<text x="137.3" y="524.6" font-size="16.00" text-anchor="middle" fill="#1c1c1c" letter-spacing="0.60" stroke="#1c1c1c" stroke-width="0.30">**</text>
<polyline points="95.7,551.4 95.7,545.3 119.4,545.3 119.4,551.4" fill="none" stroke="#1a1a1a" stroke-width="1.40"/>
<text x="107.0" y="547.4" font-size="16.00" text-anchor="middle" fill="#1c1c1c" stroke="#1c1c1c" stroke-width="0.30">*</text>
<polyline points="145.7,553.1 145.7,544.9 217.6,544.9 217.6,553.1" fill="none" stroke="#1a1a1a" stroke-width="1.40"/>
<text x="179.5" y="547.7" font-size="16.00" text-anchor="middle" fill="#1c1c1c" letter-spacing="0.60" stroke="#1c1c1c" stroke-width="0.30">**</text>
<polyline points="145.7,564.0 145.7,557.3 185.5,557.3 185.5,564.9" fill="none" stroke="#1a1a1a" stroke-width="1.40"/>
<polyline points="166.0,572.2 166.0,564.9 192.7,564.9 192.7,572.2" fill="none" stroke="#1a1a1a" stroke-width="1.40"/>
<text x="165.6" y="559.7" font-size="16.00" text-anchor="middle" fill="#1c1c1c" stroke="#1c1c1c" stroke-width="0.30">*</text>
<text transform="translate(29.8 615.5) rotate(-90)" font-size="14.50" text-anchor="middle" fill="#1c1c1c" stroke="#1c1c1c" stroke-width="0.30">IL6 (pg per mg protein)</text>
<text transform="translate(48.2 615.4) rotate(-90)" font-size="14.50" text-anchor="middle" fill="#1c1c1c" stroke="#1c1c1c" stroke-width="0.30">in BMECF</text>
<text x="25.3" y="718.5" font-size="14.60" fill="#1c1c1c" stroke="#1c1c1c" stroke-width="0.30">AR KO</text>
<text x="90.8" y="718.0" font-size="13.60" text-anchor="middle" fill="#1c1c1c" stroke="#1c1c1c" stroke-width="0.30">WT</text>
<text x="121.5" y="718.0" font-size="13.60" text-anchor="middle" fill="#1c1c1c" stroke="#1c1c1c" stroke-width="0.30">β<tspan font-size="72%" dy="2.6">2</tspan></text>
<text x="146.5" y="718.0" font-size="13.60" text-anchor="middle" fill="#1c1c1c" stroke="#1c1c1c" stroke-width="0.30">β<tspan font-size="72%" dy="2.6">3</tspan></text>
<text x="170.3" y="718.0" font-size="13.60" text-anchor="middle" fill="#1c1c1c" stroke="#1c1c1c" stroke-width="0.30">WT</text>
<text x="198.2" y="718.0" font-size="13.60" text-anchor="middle" fill="#1c1c1c" stroke="#1c1c1c" stroke-width="0.30">β<tspan font-size="72%" dy="2.6">2</tspan></text>
<text x="222.2" y="718.0" font-size="13.60" text-anchor="middle" fill="#1c1c1c" stroke="#1c1c1c" stroke-width="0.30">β<tspan font-size="72%" dy="2.6">3</tspan></text>
<line x1="301.5" y1="536.3" x2="301.5" y2="696.4" stroke="#262626" stroke-width="1.30"/>
<line x1="296.0" y1="695.8" x2="301.5" y2="695.8" stroke="#262626" stroke-width="1.30"/>
<text x="294.8" y="700.9" font-size="14.50" text-anchor="end" fill="#1c1c1c" stroke="#1c1c1c" stroke-width="0.30">0</text>
<line x1="296.0" y1="642.6" x2="301.5" y2="642.6" stroke="#262626" stroke-width="1.30"/>
<text x="294.8" y="647.7" font-size="14.50" text-anchor="end" fill="#1c1c1c" stroke="#1c1c1c" stroke-width="0.30">1</text>
<line x1="296.0" y1="589.4" x2="301.5" y2="589.4" stroke="#262626" stroke-width="1.30"/>
<text x="294.8" y="594.5" font-size="14.50" text-anchor="end" fill="#1c1c1c" stroke="#1c1c1c" stroke-width="0.30">2</text>
<line x1="296.0" y1="536.2" x2="301.5" y2="536.2" stroke="#262626" stroke-width="1.30"/>
<text x="294.8" y="541.3" font-size="14.50" text-anchor="end" fill="#1c1c1c" stroke="#1c1c1c" stroke-width="0.30">3</text>
<rect x="309.6" y="641.8" width="15.7" height="54.0" fill="#5a83c2"/>
<line x1="317.5" y1="641.8" x2="317.5" y2="632.6" stroke="#1e1e1e" stroke-width="1.30"/>
<line x1="313.3" y1="632.6" x2="321.7" y2="632.6" stroke="#1e1e1e" stroke-width="1.50"/>
<rect x="333.6" y="576.1" width="15.7" height="119.7" fill="#0e4f98"/>
<line x1="341.5" y1="576.1" x2="341.5" y2="546.2" stroke="#1e1e1e" stroke-width="1.30"/>
<line x1="337.3" y1="546.2" x2="345.7" y2="546.2" stroke="#1e1e1e" stroke-width="1.50"/>
<rect x="357.7" y="623.1" width="15.6" height="72.7" fill="#c8504d"/>
<line x1="365.5" y1="623.1" x2="365.5" y2="619.8" stroke="#1e1e1e" stroke-width="1.30"/>
<line x1="361.3" y1="619.8" x2="369.7" y2="619.8" stroke="#1e1e1e" stroke-width="1.50"/>
<rect x="381.7" y="606.2" width="15.7" height="89.6" fill="#9c1508"/>
<line x1="389.5" y1="606.2" x2="389.5" y2="600.5" stroke="#1e1e1e" stroke-width="1.30"/>
<line x1="385.3" y1="600.5" x2="393.7" y2="600.5" stroke="#1e1e1e" stroke-width="1.50"/>
<line x1="296.0" y1="695.8" x2="402.5" y2="695.8" stroke="#262626" stroke-width="1.30"/>
<line x1="317.2" y1="695.8" x2="317.2" y2="701.1" stroke="#262626" stroke-width="1.30"/>
<line x1="341.6" y1="695.8" x2="341.6" y2="701.1" stroke="#262626" stroke-width="1.30"/>
<line x1="365.7" y1="695.8" x2="365.7" y2="701.1" stroke="#262626" stroke-width="1.30"/>
<line x1="389.7" y1="695.8" x2="389.7" y2="701.1" stroke="#262626" stroke-width="1.30"/>
<polyline points="320.0,515.1 320.0,508.2 341.3,508.2 341.3,515.1" fill="none" stroke="#1a1a1a" stroke-width="1.40"/>
<text x="330.4" y="508.5" font-size="15.00" text-anchor="middle" fill="#1c1c1c" stroke="#1c1c1c" stroke-width="0.30">*</text>
<polyline points="367.2,515.3 367.2,509.0 388.3,509.0 388.3,515.3" fill="none" stroke="#1a1a1a" stroke-width="1.40"/>
<text x="377.7" y="502.9" font-size="14.50" text-anchor="middle" fill="#1c1c1c" stroke="#1c1c1c" stroke-width="0.30">ns</text>
<line x1="478.1" y1="541.0" x2="478.1" y2="696.6" stroke="#262626" stroke-width="1.30"/>
<line x1="472.6" y1="696.0" x2="478.1" y2="696.0" stroke="#262626" stroke-width="1.30"/>
<text x="471.4" y="701.1" font-size="14.50" text-anchor="end" fill="#1c1c1c" stroke="#1c1c1c" stroke-width="0.30">0</text>
<line x1="472.6" y1="657.2" x2="478.1" y2="657.2" stroke="#262626" stroke-width="1.30"/>
<text x="471.4" y="662.4" font-size="14.50" text-anchor="end" fill="#1c1c1c" stroke="#1c1c1c" stroke-width="0.30">30</text>
<line x1="472.6" y1="618.5" x2="478.1" y2="618.5" stroke="#262626" stroke-width="1.30"/>
<text x="471.4" y="623.6" font-size="14.50" text-anchor="end" fill="#1c1c1c" stroke="#1c1c1c" stroke-width="0.30">60</text>
<line x1="472.6" y1="579.8" x2="478.1" y2="579.8" stroke="#262626" stroke-width="1.30"/>
<text x="471.4" y="584.9" font-size="14.50" text-anchor="end" fill="#1c1c1c" stroke="#1c1c1c" stroke-width="0.30">90</text>
<line x1="472.6" y1="541.0" x2="478.1" y2="541.0" stroke="#262626" stroke-width="1.30"/>
<text x="471.4" y="546.1" font-size="14.50" text-anchor="end" fill="#1c1c1c" stroke="#1c1c1c" stroke-width="0.30">120</text>
<rect x="485.4" y="561.4" width="14.6" height="134.6" fill="#5a83c2"/>
<line x1="492.7" y1="561.4" x2="492.7" y2="555.0" stroke="#1e1e1e" stroke-width="1.30"/>
<line x1="488.5" y1="555.0" x2="496.9" y2="555.0" stroke="#1e1e1e" stroke-width="1.50"/>
<rect x="508.1" y="604.0" width="14.6" height="92.0" fill="#c8504d"/>
<line x1="515.4" y1="604.0" x2="515.4" y2="595.1" stroke="#1e1e1e" stroke-width="1.30"/>
<line x1="511.2" y1="595.1" x2="519.6" y2="595.1" stroke="#1e1e1e" stroke-width="1.50"/>
<rect x="530.8" y="591.1" width="14.6" height="104.9" fill="#9c1508"/>
<line x1="538.1" y1="591.1" x2="538.1" y2="583.8" stroke="#1e1e1e" stroke-width="1.30"/>
<line x1="533.9" y1="583.8" x2="542.3" y2="583.8" stroke="#1e1e1e" stroke-width="1.50"/>
<line x1="472.6" y1="696.0" x2="552.7" y2="696.0" stroke="#262626" stroke-width="1.30"/>
<line x1="492.4" y1="696.0" x2="492.4" y2="701.3" stroke="#262626" stroke-width="1.30"/>
<line x1="515.1" y1="696.0" x2="515.1" y2="701.3" stroke="#262626" stroke-width="1.30"/>
<line x1="537.8" y1="696.0" x2="537.8" y2="701.3" stroke="#262626" stroke-width="1.30"/>
<polyline points="491.6,518.4 491.6,509.9 548.6,509.9 548.6,518.4" fill="none" stroke="#1a1a1a" stroke-width="1.40"/>
<text x="520.8" y="507.5" font-size="14.00" text-anchor="middle" fill="#1c1c1c" stroke="#1c1c1c" stroke-width="0.30">*</text>
<polyline points="507.8,533.0 507.8,523.8 539.9,523.8 539.9,533.0" fill="none" stroke="#1a1a1a" stroke-width="1.40"/>
<text x="524.0" y="525.4" font-size="15.00" text-anchor="middle" fill="#1c1c1c" letter-spacing="0.30" stroke="#1c1c1c" stroke-width="0.30">**</text>
<line x1="632.0" y1="540.5" x2="632.0" y2="695.9" stroke="#262626" stroke-width="1.30"/>
<line x1="626.5" y1="695.3" x2="632.0" y2="695.3" stroke="#262626" stroke-width="1.30"/>
<text x="625.3" y="700.4" font-size="14.50" text-anchor="end" fill="#1c1c1c" stroke="#1c1c1c" stroke-width="0.30">0.0</text>
<line x1="626.5" y1="643.7" x2="632.0" y2="643.7" stroke="#262626" stroke-width="1.30"/>
<text x="625.3" y="648.8" font-size="14.50" text-anchor="end" fill="#1c1c1c" stroke="#1c1c1c" stroke-width="0.30">0.5</text>
<line x1="626.5" y1="592.1" x2="632.0" y2="592.1" stroke="#262626" stroke-width="1.30"/>
<text x="625.3" y="597.2" font-size="14.50" text-anchor="end" fill="#1c1c1c" stroke="#1c1c1c" stroke-width="0.30">1.0</text>
<line x1="626.5" y1="540.5" x2="632.0" y2="540.5" stroke="#262626" stroke-width="1.30"/>
<text x="625.3" y="545.6" font-size="14.50" text-anchor="end" fill="#1c1c1c" stroke="#1c1c1c" stroke-width="0.30">1.5</text>
<rect x="639.7" y="666.3" width="15.2" height="29.0" fill="#5a83c2"/>
<line x1="647.3" y1="666.3" x2="647.3" y2="662.2" stroke="#1e1e1e" stroke-width="1.30"/>
<line x1="643.1" y1="662.2" x2="651.5" y2="662.2" stroke="#1e1e1e" stroke-width="1.50"/>
<rect x="662.4" y="600.1" width="15.2" height="95.2" fill="#0e4f98"/>
<line x1="670.0" y1="600.1" x2="670.0" y2="577.0" stroke="#1e1e1e" stroke-width="1.30"/>
<line x1="665.8" y1="577.0" x2="674.2" y2="577.0" stroke="#1e1e1e" stroke-width="1.50"/>
<rect x="685.1" y="637.6" width="14.8" height="57.7" fill="#c8504d"/>
<line x1="692.5" y1="637.6" x2="692.5" y2="622.4" stroke="#1e1e1e" stroke-width="1.30"/>
<line x1="688.3" y1="622.4" x2="696.7" y2="622.4" stroke="#1e1e1e" stroke-width="1.50"/>
<rect x="707.8" y="663.5" width="14.8" height="31.8" fill="#9c1508"/>
<line x1="715.2" y1="663.5" x2="715.2" y2="654.2" stroke="#1e1e1e" stroke-width="1.30"/>
<line x1="711.0" y1="654.2" x2="719.4" y2="654.2" stroke="#1e1e1e" stroke-width="1.50"/>
<line x1="626.5" y1="695.3" x2="730.5" y2="695.3" stroke="#262626" stroke-width="1.30"/>
<line x1="647.3" y1="695.3" x2="647.3" y2="700.6" stroke="#262626" stroke-width="1.30"/>
<line x1="670.0" y1="695.3" x2="670.0" y2="700.6" stroke="#262626" stroke-width="1.30"/>
<line x1="692.7" y1="695.3" x2="692.7" y2="700.6" stroke="#262626" stroke-width="1.30"/>
<line x1="714.8" y1="695.3" x2="714.8" y2="700.6" stroke="#262626" stroke-width="1.30"/>
<polyline points="645.9,514.0 645.9,508.7 698.2,508.7 698.2,514.0" fill="none" stroke="#1a1a1a" stroke-width="1.40"/>
<text x="671.7" y="507.9" font-size="14.00" text-anchor="middle" fill="#1c1c1c" stroke="#1c1c1c" stroke-width="0.30">*</text>
<polyline points="645.9,528.6 645.9,522.8 668.2,522.8 668.2,528.6" fill="none" stroke="#1a1a1a" stroke-width="1.40"/>
<text x="658.0" y="521.8" font-size="14.00" text-anchor="middle" fill="#1c1c1c" stroke="#1c1c1c" stroke-width="0.30">*</text>
<polyline points="687.2,551.2 687.2,545.6 710.1,545.6 710.1,551.2" fill="none" stroke="#1a1a1a" stroke-width="1.40"/>
<text x="699.4" y="541.0" font-size="13.20" text-anchor="middle" fill="#1c1c1c" stroke="#1c1c1c" stroke-width="0.30">ns</text>
<line x1="90.8" y1="725.7" x2="142.0" y2="725.7" stroke="#222" stroke-width="1.20"/>
<line x1="173.5" y1="725.7" x2="224.8" y2="725.7" stroke="#222" stroke-width="1.20"/>
<text x="115.1" y="738.7" font-size="14.00" text-anchor="middle" fill="#1c1c1c" stroke="#1c1c1c" stroke-width="0.30">e</text>
<text x="194.6" y="738.7" font-size="14.00" text-anchor="middle" fill="#1c1c1c" stroke="#1c1c1c" stroke-width="0.30">n-e</text>
<text transform="translate(273.7 613.6) rotate(-90)" font-size="14.90" text-anchor="middle" fill="#1c1c1c" stroke="#1c1c1c" stroke-width="0.30"><tspan font-style="italic">IL6</tspan> mRNA (fold)</text>
<text x="305.5" y="718.8" font-size="14.30" text-anchor="end" fill="#1c1c1c" stroke="#1c1c1c" stroke-width="0.30">β<tspan font-size="72%" dy="2.6">2</tspan><tspan dy="-2.6">-AR ag</tspan></text>
<text x="304.3" y="734.7" font-size="14.30" text-anchor="end" fill="#1c1c1c" stroke="#1c1c1c" stroke-width="0.30">PKAi</text>
<text x="317.2" y="719.0" font-size="14.30" text-anchor="middle" fill="#1c1c1c" stroke="#1c1c1c" stroke-width="0.30">-</text>
<text x="317.2" y="734.6" font-size="14.30" text-anchor="middle" fill="#1c1c1c" stroke="#1c1c1c" stroke-width="0.30">-</text>
<text x="341.6" y="719.0" font-size="14.30" text-anchor="middle" fill="#1c1c1c" stroke="#1c1c1c" stroke-width="0.30">+</text>
<text x="341.6" y="734.6" font-size="14.30" text-anchor="middle" fill="#1c1c1c" stroke="#1c1c1c" stroke-width="0.30">-</text>
<text x="365.7" y="719.0" font-size="14.30" text-anchor="middle" fill="#1c1c1c" stroke="#1c1c1c" stroke-width="0.30">-</text>
<text x="365.7" y="734.6" font-size="14.30" text-anchor="middle" fill="#1c1c1c" stroke="#1c1c1c" stroke-width="0.30">+</text>
<text x="389.7" y="719.0" font-size="14.30" text-anchor="middle" fill="#1c1c1c" stroke="#1c1c1c" stroke-width="0.30">+</text>
<text x="389.7" y="734.6" font-size="14.30" text-anchor="middle" fill="#1c1c1c" stroke="#1c1c1c" stroke-width="0.30">+</text>
<text transform="translate(440.6 614.0) rotate(-90)" font-size="14.70" text-anchor="middle" fill="#1c1c1c" stroke="#1c1c1c" stroke-width="0.30">megakaryocytes per mm<tspan font-size="70%" dy="-5">2</tspan></text>
<text transform="translate(496.4 714.2) rotate(-45)" font-size="15.60" text-anchor="end" fill="#1c1c1c" stroke="#1c1c1c" stroke-width="0.30">WT</text>
<text transform="translate(519.1 714.2) rotate(-45)" font-size="15.60" text-anchor="end" fill="#1c1c1c" stroke="#1c1c1c" stroke-width="0.30">β<tspan font-size="72%" dy="2.6">2</tspan><tspan dy="-2.6">-AR KO</tspan></text>
<text transform="translate(541.8 714.2) rotate(-45)" font-size="15.60" text-anchor="end" fill="#1c1c1c" stroke="#1c1c1c" stroke-width="0.30">IL6 KO</text>
<text transform="translate(593.3 615.2) rotate(-90)" font-size="14.20" text-anchor="middle" fill="#1c1c1c" stroke="#1c1c1c" stroke-width="0.30">CD41<tspan font-size="70%" dy="-5">+</tspan><tspan dy="5"> LSK cells (X10</tspan><tspan font-size="70%" dy="-5">3</tspan><tspan dy="5">)</tspan></text>
<text x="618.4" y="717.2" font-size="14.30" text-anchor="end" fill="#1c1c1c" stroke="#1c1c1c" stroke-width="0.30">β<tspan font-size="72%" dy="2.6">2</tspan><tspan dy="-2.6">-AR ag</tspan></text>
<text x="647.3" y="716.0" font-size="14.30" text-anchor="middle" fill="#1c1c1c" stroke="#1c1c1c" stroke-width="0.30">-</text>
<text x="670.0" y="716.0" font-size="14.30" text-anchor="middle" fill="#1c1c1c" stroke="#1c1c1c" stroke-width="0.30">+</text>
<text x="692.7" y="716.0" font-size="14.30" text-anchor="middle" fill="#1c1c1c" stroke="#1c1c1c" stroke-width="0.30">-</text>
<text x="714.8" y="716.0" font-size="14.30" text-anchor="middle" fill="#1c1c1c" stroke="#1c1c1c" stroke-width="0.30">+</text>
<line x1="639.3" y1="724.9" x2="677.2" y2="724.9" stroke="#222" stroke-width="1.20"/>
<line x1="691.4" y1="724.9" x2="728.6" y2="724.9" stroke="#222" stroke-width="1.20"/>
<text x="664.0" y="742.3" font-size="14.00" text-anchor="middle" fill="#1c1c1c" stroke="#1c1c1c" stroke-width="0.30">WT</text>
<text x="711.1" y="742.3" font-size="14.00" text-anchor="middle" fill="#1c1c1c" stroke="#1c1c1c" stroke-width="0.30">IL6 KO</text>
<line x1="84.5" y1="300.4" x2="84.5" y2="338.5" stroke="#111" stroke-width="1.20"/>
<polygon points="81.9,337.2 87.1,337.2 84.5,343.0" fill="#111"/>
<ellipse cx="68.0" cy="322.3" rx="3.9" ry="4.6" fill="#ee1010" stroke="#c00000" stroke-width="0.5"/>
<ellipse cx="76.5" cy="318.7" rx="3.9" ry="4.6" fill="#ee1010" stroke="#c00000" stroke-width="0.5"/>
<ellipse cx="75.0" cy="331.9" rx="3.9" ry="4.6" fill="#ee1010" stroke="#c00000" stroke-width="0.5"/>
<path d="M55.6,348.4 L55.6,362.0 Q97.5,367.5 140.4,362.0 L140.4,348.4" fill="#f4f4f4" stroke="#8a8a8a" stroke-width="0.9"/>
<ellipse cx="98" cy="348.4" rx="42.4" ry="2.9" fill="#fafafa" stroke="#8a8a8a" stroke-width="0.9"/>
<path d="M57.5,361.5 Q62,357.5 72,357.2 Q85,356.3 98,356.8 Q112,356.0 126,357.0 Q134,357.8 137.5,360.5 Q120,363.6 102,366.0 Q98,366.8 94,365.5 Q75,363.5 57.5,361.5 Z" fill="#2fb845"/>
<ellipse cx="66.0" cy="360.3" rx="3.0" ry="1.2" fill="#8ee07a"/>
<ellipse cx="77.0" cy="360.8" rx="3.0" ry="1.2" fill="#8ee07a"/>
<ellipse cx="90.0" cy="359.5" rx="3.0" ry="1.2" fill="#8ee07a"/>
<ellipse cx="103.0" cy="361.0" rx="3.0" ry="1.2" fill="#8ee07a"/>
<ellipse cx="117.0" cy="359.8" rx="3.0" ry="1.2" fill="#8ee07a"/>
<ellipse cx="129.0" cy="360.0" rx="3.0" ry="1.2" fill="#8ee07a"/>
<ellipse cx="84.0" cy="362.8" rx="3.0" ry="1.2" fill="#8ee07a"/>
<ellipse cx="110.0" cy="362.5" rx="3.0" ry="1.2" fill="#8ee07a"/>
<ellipse cx="71.6" cy="350.3" rx="3.9" ry="4.7" fill="#ee1010" stroke="#c40000" stroke-width="0.5"/>
<ellipse cx="80.8" cy="352.3" rx="3.9" ry="4.7" fill="#ee1010" stroke="#c40000" stroke-width="0.5"/>
<ellipse cx="86.8" cy="351.0" rx="3.9" ry="4.7" fill="#ee1010" stroke="#c40000" stroke-width="0.5"/>
<ellipse cx="94.6" cy="350.3" rx="3.9" ry="4.7" fill="#ee1010" stroke="#c40000" stroke-width="0.5"/>
<ellipse cx="103.4" cy="353.0" rx="3.9" ry="4.7" fill="#ee1010" stroke="#c40000" stroke-width="0.5"/>
<ellipse cx="110.8" cy="350.0" rx="3.9" ry="4.7" fill="#ee1010" stroke="#c40000" stroke-width="0.5"/>
<ellipse cx="118.9" cy="351.4" rx="3.9" ry="4.7" fill="#ee1010" stroke="#c40000" stroke-width="0.5"/>
<line x1="83.7" y1="394.0" x2="83.7" y2="426.0" stroke="#111" stroke-width="1.90"/>
<polygon points="79.4,423.8 88.0,423.8 83.7,432.6" fill="#111"/>
<g clip-path="url(#cE)">
<rect x="137.8" y="266.2" width="200.0" height="200.0" fill="#000" filter="url(#fE)" transform="rotate(33 237.8 366.2)"/>
<g mask="url(#mE)">
<rect x="137.8" y="266.2" width="200.0" height="200.0" fill="#000" filter="url(#fE2)" transform="rotate(33 237.8 366.2)"/>
</g>
<g filter="url(#glow)">
<ellipse cx="188.5" cy="372.6" rx="2.3" ry="1.0" transform="rotate(137 188.5 372.6)" fill="#ffd0f0"/>
<ellipse cx="188.6" cy="371.3" rx="2.1" ry="0.9" transform="rotate(111 188.6 371.3)" fill="#ffb8e0"/>
<circle cx="192.4" cy="370.9" r="1.1" fill="#ffd0f0"/>
<ellipse cx="198.0" cy="367.7" rx="2.2" ry="1.0" transform="rotate(149 198.0 367.7)" fill="#ffb8e0"/>
<ellipse cx="194.0" cy="371.1" rx="2.1" ry="1.0" transform="rotate(107 194.0 371.1)" fill="#ff9ee0"/>
<circle cx="182.4" cy="368.4" r="1.2" fill="#ffd0f0"/>
<circle cx="182.5" cy="366.5" r="1.1" fill="#ffd0f0"/>
<circle cx="182.3" cy="367.3" r="1.1" fill="#ffffff"/>
<ellipse cx="176.7" cy="372.4" rx="1.9" ry="0.8" transform="rotate(46 176.7 372.4)" fill="#ff9ee0"/>
<ellipse cx="194.4" cy="372.1" rx="2.1" ry="0.9" transform="rotate(114 194.4 372.1)" fill="#ffffff"/>
<ellipse cx="188.2" cy="368.8" rx="2.1" ry="0.9" transform="rotate(87 188.2 368.8)" fill="#ff9ee0"/>
<ellipse cx="195.7" cy="367.9" rx="2.7" ry="1.2" transform="rotate(142 195.7 367.9)" fill="#f080d8"/>
<ellipse cx="192.7" cy="361.0" rx="1.9" ry="0.8" transform="rotate(127 192.7 361.0)" fill="#f080d8"/>
<ellipse cx="190.7" cy="368.2" rx="1.6" ry="0.7" transform="rotate(178 190.7 368.2)" fill="#ffd0f0"/>
<circle cx="198.7" cy="372.9" r="1.3" fill="#ffb8e0"/>
<ellipse cx="188.7" cy="374.8" rx="2.3" ry="1.0" transform="rotate(118 188.7 374.8)" fill="#ffffff"/>
<circle cx="191.5" cy="372.2" r="0.8" fill="#ff9ee0"/>
<circle cx="189.6" cy="365.0" r="1.4" fill="#ff9ee0"/>
<circle cx="182.8" cy="372.0" r="1.4" fill="#f080d8"/>
<circle cx="188.9" cy="375.1" r="1.1" fill="#ff9ee0"/>
<ellipse cx="192.2" cy="372.5" rx="1.7" ry="0.8" transform="rotate(124 192.2 372.5)" fill="#f080d8"/>
<circle cx="192.0" cy="373.7" r="0.9" fill="#f080d8"/>
<circle cx="176.4" cy="365.0" r="1.3" fill="#f080d8"/>
<circle cx="184.5" cy="363.2" r="1.1" fill="#f080d8"/>
<circle cx="185.3" cy="373.2" r="0.9" fill="#ffd0f0"/>
<ellipse cx="196.3" cy="383.5" rx="2.0" ry="0.9" transform="rotate(153 196.3 383.5)" fill="#ffd0f0"/>
<circle cx="196.2" cy="373.9" r="1.2" fill="#f080d8"/>
<ellipse cx="202.1" cy="371.6" rx="2.2" ry="1.0" transform="rotate(64 202.1 371.6)" fill="#ffffff"/>
<circle cx="184.6" cy="366.6" r="0.9" fill="#ffb8e0"/>
<circle cx="184.9" cy="370.5" r="0.9" fill="#ffffff"/>
<ellipse cx="179.8" cy="397.5" rx="1.8" ry="0.8" transform="rotate(135 179.8 397.5)" fill="#ffffff"/>
<circle cx="202.6" cy="407.0" r="0.7" fill="#ffd0f0"/>
<ellipse cx="192.4" cy="386.2" rx="1.7" ry="0.7" transform="rotate(57 192.4 386.2)" fill="#f080d8"/>
<circle cx="183.6" cy="391.3" r="1.1" fill="#ff9ee0"/>
<ellipse cx="201.4" cy="374.2" rx="2.1" ry="0.9" transform="rotate(132 201.4 374.2)" fill="#ffb8e0"/>
<ellipse cx="193.5" cy="397.3" rx="1.3" ry="0.6" transform="rotate(66 193.5 397.3)" fill="#ff9ee0"/>
<circle cx="186.2" cy="366.9" r="1.0" fill="#ffffff"/>
<ellipse cx="204.1" cy="391.8" rx="1.5" ry="0.7" transform="rotate(50 204.1 391.8)" fill="#ffffff"/>
<circle cx="199.0" cy="411.1" r="1.2" fill="#ffb8e0"/>
<circle cx="202.7" cy="389.0" r="1.1" fill="#ffd0f0"/>
<circle cx="209.7" cy="383.7" r="1.2" fill="#ff9ee0"/>
<circle cx="182.0" cy="401.9" r="0.8" fill="#ffb8e0"/>
<ellipse cx="178.9" cy="399.5" rx="1.4" ry="0.6" transform="rotate(32 178.9 399.5)" fill="#ffd0f0"/>
<ellipse cx="207.6" cy="416.2" rx="2.1" ry="0.9" transform="rotate(152 207.6 416.2)" fill="#ffb8e0"/>
<ellipse cx="189.9" cy="385.7" rx="1.9" ry="0.8" transform="rotate(3 189.9 385.7)" fill="#ffd0f0"/>
<circle cx="172.0" cy="390.4" r="1.0" fill="#ff9ee0"/>
<circle cx="201.8" cy="396.5" r="1.0" fill="#ffffff"/>
<circle cx="194.4" cy="407.5" r="0.8" fill="#ffffff"/>
<circle cx="206.8" cy="384.4" r="1.2" fill="#f080d8"/>
<circle cx="198.9" cy="400.0" r="1.0" fill="#ff9ee0"/>
<ellipse cx="181.6" cy="381.9" rx="1.4" ry="0.6" transform="rotate(158 181.6 381.9)" fill="#ffd0f0"/>
<circle cx="186.7" cy="391.3" r="1.0" fill="#ffd0f0"/>
<ellipse cx="197.5" cy="392.3" rx="1.5" ry="0.7" transform="rotate(25 197.5 392.3)" fill="#f080d8"/>
<ellipse cx="192.7" cy="395.8" rx="2.2" ry="1.0" transform="rotate(83 192.7 395.8)" fill="#f080d8"/>
<ellipse cx="208.5" cy="392.3" rx="1.5" ry="0.7" transform="rotate(130 208.5 392.3)" fill="#f080d8"/>
<circle cx="214.1" cy="372.4" r="0.8" fill="#ffffff"/>
<circle cx="221.3" cy="373.1" r="0.8" fill="#ffb8e0"/>
<ellipse cx="215.9" cy="381.7" rx="1.3" ry="0.6" transform="rotate(18 215.9 381.7)" fill="#ff9ee0"/>
<ellipse cx="207.8" cy="370.3" rx="2.2" ry="1.0" transform="rotate(164 207.8 370.3)" fill="#ffffff"/>
<ellipse cx="218.4" cy="386.1" rx="2.3" ry="1.0" transform="rotate(24 218.4 386.1)" fill="#ffb8e0"/>
<ellipse cx="214.2" cy="376.0" rx="2.0" ry="0.9" transform="rotate(180 214.2 376.0)" fill="#ffb8e0"/>
<ellipse cx="217.1" cy="377.8" rx="1.7" ry="0.8" transform="rotate(23 217.1 377.8)" fill="#ffffff"/>
<ellipse cx="218.3" cy="378.8" rx="1.7" ry="0.8" transform="rotate(84 218.3 378.8)" fill="#f080d8"/>
<circle cx="207.7" cy="373.8" r="0.7" fill="#ff9ee0"/>
<ellipse cx="214.3" cy="377.6" rx="1.5" ry="0.7" transform="rotate(46 214.3 377.6)" fill="#ffffff"/>
<circle cx="212.3" cy="368.7" r="1.2" fill="#ffffff"/>
<circle cx="206.9" cy="381.5" r="1.0" fill="#ffffff"/>
<circle cx="233.5" cy="341.8" r="0.9" fill="#ffd0f0"/>
<ellipse cx="229.7" cy="341.8" rx="1.2" ry="0.5" transform="rotate(155 229.7 341.8)" fill="#ff9ee0"/>
<ellipse cx="251.9" cy="348.1" rx="1.5" ry="0.7" transform="rotate(141 251.9 348.1)" fill="#ffb8e0"/>
<circle cx="238.5" cy="336.5" r="0.7" fill="#ff9ee0"/>
<ellipse cx="259.3" cy="330.0" rx="1.3" ry="0.6" transform="rotate(79 259.3 330.0)" fill="#ffffff"/>
<circle cx="222.0" cy="338.7" r="0.8" fill="#ffffff"/>
<ellipse cx="228.7" cy="341.6" rx="1.3" ry="0.6" transform="rotate(129 228.7 341.6)" fill="#f080d8"/>
<circle cx="244.3" cy="338.3" r="0.7" fill="#ffb8e0"/>
<circle cx="221.6" cy="329.5" r="1.0" fill="#ffffff"/>
<circle cx="217.0" cy="313.7" r="0.8" fill="#ff9ee0"/>
<ellipse cx="286.9" cy="363.6" rx="1.3" ry="0.6" transform="rotate(18 286.9 363.6)" fill="#ffffff"/>
<ellipse cx="288.8" cy="362.4" rx="2.0" ry="0.9" transform="rotate(129 288.8 362.4)" fill="#ffffff"/>
<ellipse cx="285.0" cy="359.3" rx="1.3" ry="0.6" transform="rotate(68 285.0 359.3)" fill="#ffb8e0"/>
<circle cx="293.8" cy="362.1" r="0.9" fill="#ffffff"/>
<ellipse cx="290.4" cy="369.8" rx="1.6" ry="0.7" transform="rotate(0 290.4 369.8)" fill="#ffffff"/>
<ellipse cx="286.7" cy="364.3" rx="1.8" ry="0.8" transform="rotate(129 286.7 364.3)" fill="#ffd0f0"/>
<circle cx="184.1" cy="407.8" r="0.6" fill="#ffd0f0"/>
<circle cx="224.4" cy="339.6" r="0.8" fill="#ffd0f0"/>
<circle cx="249.9" cy="369.9" r="0.8" fill="#ffffff"/>
<circle cx="273.7" cy="395.1" r="0.7" fill="#f5b8ff"/>
<circle cx="268.3" cy="384.9" r="0.5" fill="#ffffff"/>
<circle cx="269.6" cy="407.2" r="0.6" fill="#ffd0f0"/>
<circle cx="281.9" cy="377.1" r="0.9" fill="#ff9ee0"/>
<circle cx="183.3" cy="305.5" r="0.8" fill="#ffd0f0"/>
<circle cx="222.1" cy="359.6" r="0.5" fill="#ffd0f0"/>
<circle cx="255.3" cy="389.8" r="0.7" fill="#ffd0f0"/>
</g>
</g>
<text x="172.6" y="322.6" font-size="26.50" font-weight="bold" fill="#fff">E</text>
<rect x="173.0" y="427.4" width="22.7" height="2.6" fill="#fff"/>
<g clip-path="url(#cF)">
<rect x="282.2" y="266.2" width="200.0" height="200.0" fill="#000" filter="url(#fF)" transform="rotate(-28 382.2 366.2)"/>
<g filter="url(#glow)">
<circle cx="376.1" cy="307.5" r="1.0" fill="#ff90d8"/>
<circle cx="403.7" cy="307.0" r="0.9" fill="#ffb0c8"/>
<circle cx="424.1" cy="413.1" r="0.6" fill="#e070e0"/>
<circle cx="345.4" cy="386.4" r="0.7" fill="#c060e0"/>
<circle cx="324.4" cy="421.8" r="0.6" fill="#ff90d8"/>
<circle cx="397.9" cy="385.4" r="0.5" fill="#e070e0"/>
<circle cx="359.1" cy="386.6" r="0.8" fill="#e070e0"/>
<circle cx="315.7" cy="306.2" r="0.6" fill="#ff90d8"/>
<circle cx="408.1" cy="389.9" r="0.6" fill="#ffb0c8"/>
<circle cx="377.2" cy="361.4" r="0.6" fill="#e070e0"/>
<circle cx="356.4" cy="309.7" r="0.7" fill="#ffb0c8"/>
<circle cx="376.4" cy="409.5" r="1.0" fill="#c060e0"/>
<circle cx="449.2" cy="350.6" r="1.0" fill="#e070e0"/>
<circle cx="324.1" cy="310.3" r="0.9" fill="#ffb0c8"/>
<circle cx="443.6" cy="316.0" r="0.9" fill="#ffb0c8"/>
<circle cx="434.6" cy="393.7" r="0.6" fill="#c060e0"/>
<circle cx="367.6" cy="319.6" r="1.0" fill="#c060e0"/>
<circle cx="369.1" cy="396.9" r="0.7" fill="#c060e0"/>
<circle cx="357.0" cy="412.3" r="0.5" fill="#ffb0c8"/>
<circle cx="428.1" cy="314.3" r="1.0" fill="#ff90d8"/>
<circle cx="436.6" cy="337.4" r="0.7" fill="#c060e0"/>
<circle cx="367.1" cy="416.3" r="0.5" fill="#c060e0"/>
<circle cx="416.8" cy="414.2" r="0.6" fill="#ff90d8"/>
<circle cx="427.5" cy="336.8" r="1.0" fill="#e070e0"/>
<circle cx="446.1" cy="357.3" r="0.7" fill="#ffb0c8"/>
<circle cx="420.8" cy="356.2" r="0.5" fill="#c060e0"/>
<circle cx="438.2" cy="425.9" r="0.8" fill="#ff90d8"/>
<circle cx="320.7" cy="397.6" r="0.7" fill="#e070e0"/>
<circle cx="401.7" cy="336.9" r="0.5" fill="#e070e0"/>
<circle cx="337.2" cy="354.4" r="0.6" fill="#ffb0c8"/>
<circle cx="414.5" cy="430.8" r="0.6" fill="#e070e0"/>
<circle cx="354.9" cy="373.8" r="0.7" fill="#e070e0"/>
<circle cx="401.5" cy="308.2" r="0.8" fill="#c060e0"/>
<circle cx="388.9" cy="359.6" r="0.7" fill="#c060e0"/>
<circle cx="372.1" cy="372.5" r="0.6" fill="#e070e0"/>
<circle cx="360.5" cy="310.4" r="0.6" fill="#ffb0c8"/>
<circle cx="424.1" cy="325.5" r="0.5" fill="#c060e0"/>
<circle cx="366.1" cy="399.4" r="0.6" fill="#ffb0c8"/>
<circle cx="360.0" cy="306.4" r="0.6" fill="#ffb0c8"/>
<circle cx="331.1" cy="366.5" r="0.8" fill="#e070e0"/>
<circle cx="326.6" cy="420.0" r="0.7" fill="#c060e0"/>
<circle cx="372.7" cy="340.4" r="0.9" fill="#ff90d8"/>
<circle cx="331.3" cy="355.8" r="0.9" fill="#c060e0"/>
<circle cx="445.7" cy="364.6" r="0.5" fill="#c060e0"/>
<circle cx="446.2" cy="331.8" r="0.6" fill="#e070e0"/>
<circle cx="334.7" cy="430.2" r="0.6" fill="#c060e0"/>
<circle cx="325.6" cy="403.7" r="0.5" fill="#e070e0"/>
<circle cx="345.6" cy="423.1" r="0.8" fill="#ffb0c8"/>
<circle cx="444.9" cy="383.2" r="0.8" fill="#c060e0"/>
<circle cx="409.0" cy="313.3" r="0.5" fill="#e070e0"/>
<circle cx="366.8" cy="328.4" r="0.8" fill="#ff90d8"/>
<circle cx="387.1" cy="433.5" r="0.6" fill="#ffb0c8"/>
<circle cx="401.7" cy="418.2" r="0.7" fill="#e070e0"/>
<circle cx="388.4" cy="302.0" r="0.7" fill="#ffb0c8"/>
<circle cx="321.5" cy="324.4" r="0.9" fill="#c060e0"/>
<circle cx="325.0" cy="329.0" r="0.7" fill="#ffb0c8"/>
<circle cx="344.8" cy="302.6" r="0.7" fill="#c060e0"/>
<circle cx="363.3" cy="351.9" r="0.5" fill="#ffb0c8"/>
<circle cx="414.5" cy="366.7" r="0.6" fill="#e070e0"/>
<circle cx="356.4" cy="409.5" r="0.6" fill="#e070e0"/>
</g>
<g filter="url(#soft)" opacity="0.4">
<ellipse cx="340" cy="304" rx="16" ry="4" fill="#c040c0"/>
<ellipse cx="372" cy="306" rx="12" ry="6" fill="#c040c0"/>
<ellipse cx="392" cy="360" rx="16" ry="14" fill="#c040c0"/>
<ellipse cx="348" cy="370" rx="12" ry="9" fill="#c040c0"/>
<ellipse cx="330" cy="408" rx="10" ry="12" fill="#c040c0"/>
<ellipse cx="362" cy="418" rx="14" ry="8" fill="#c040c0"/>
<ellipse cx="421" cy="336" rx="9" ry="9" fill="#c040c0"/>
<ellipse cx="405" cy="398" rx="12" ry="9" fill="#c040c0"/>
<ellipse cx="440" cy="385" rx="7" ry="14" fill="#c040c0"/>
<ellipse cx="385" cy="330" rx="9" ry="7" fill="#c040c0"/>
<ellipse cx="320" cy="345" rx="7" ry="9" fill="#c040c0"/>
<ellipse cx="430" cy="420" rx="9" ry="7" fill="#c040c0"/>
<ellipse cx="365" cy="385" rx="9" ry="7" fill="#c040c0"/>
</g>
<g filter="url(#glow)">
<circle cx="337.2" cy="312.4" r="0.7" fill="#f080d8"/>
<circle cx="343.8" cy="306.6" r="0.9" fill="#f080d8"/>
<circle cx="348.5" cy="307.2" r="0.8" fill="#ff90d8"/>
<circle cx="321.0" cy="307.2" r="0.7" fill="#ffffff"/>
<circle cx="356.9" cy="299.7" r="1.4" fill="#ff70c8"/>
<circle cx="347.4" cy="309.4" r="1.0" fill="#ff70c8"/>
<ellipse cx="333.0" cy="300.6" rx="1.6" ry="0.7" transform="rotate(43 333.0 300.6)" fill="#ffd0f0"/>
<circle cx="351.3" cy="304.1" r="0.9" fill="#ffd0f0"/>
<circle cx="318.1" cy="301.5" r="0.9" fill="#ff70c8"/>
<circle cx="346.5" cy="300.2" r="0.6" fill="#ff70c8"/>
<circle cx="325.3" cy="302.9" r="0.9" fill="#ffb8e0"/>
<circle cx="354.1" cy="304.8" r="1.2" fill="#ffd0f0"/>
<ellipse cx="328.9" cy="307.1" rx="2.2" ry="1.0" transform="rotate(49 328.9 307.1)" fill="#ffffff"/>
<ellipse cx="357.6" cy="306.1" rx="1.6" ry="0.7" transform="rotate(157 357.6 306.1)" fill="#ffd0f0"/>
<ellipse cx="338.3" cy="310.3" rx="1.5" ry="0.7" transform="rotate(0 338.3 310.3)" fill="#ffffff"/>
<circle cx="341.1" cy="295.1" r="1.1" fill="#ffd0f0"/>
<circle cx="343.1" cy="302.3" r="1.2" fill="#ffb8e0"/>
<ellipse cx="347.7" cy="295.4" rx="2.3" ry="1.0" transform="rotate(127 347.7 295.4)" fill="#ff90d8"/>
<circle cx="372.3" cy="304.5" r="0.8" fill="#ff90d8"/>
<ellipse cx="330.2" cy="301.8" rx="1.5" ry="0.7" transform="rotate(152 330.2 301.8)" fill="#ffd0f0"/>
<circle cx="326.1" cy="303.7" r="0.7" fill="#ffffff"/>
<circle cx="357.4" cy="305.1" r="0.9" fill="#ffd0f0"/>
<ellipse cx="351.0" cy="303.8" rx="1.2" ry="0.5" transform="rotate(127 351.0 303.8)" fill="#ffffff"/>
<circle cx="348.5" cy="303.6" r="0.7" fill="#ffffff"/>
<circle cx="341.6" cy="309.0" r="1.2" fill="#ff70c8"/>
<circle cx="335.1" cy="309.0" r="0.9" fill="#ff90d8"/>
<ellipse cx="331.7" cy="305.0" rx="1.4" ry="0.6" transform="rotate(148 331.7 305.0)" fill="#ff90d8"/>
<circle cx="333.5" cy="307.6" r="1.4" fill="#ff90d8"/>
<ellipse cx="336.2" cy="302.5" rx="1.7" ry="0.8" transform="rotate(1 336.2 302.5)" fill="#ffb8e0"/>
<ellipse cx="347.5" cy="302.1" rx="1.7" ry="0.8" transform="rotate(75 347.5 302.1)" fill="#ff90d8"/>
<circle cx="346.6" cy="305.8" r="1.4" fill="#ffd0f0"/>
<ellipse cx="320.5" cy="309.8" rx="1.7" ry="0.8" transform="rotate(170 320.5 309.8)" fill="#ffd0f0"/>
<ellipse cx="354.8" cy="307.3" rx="2.0" ry="0.9" transform="rotate(94 354.8 307.3)" fill="#ff70c8"/>
<circle cx="346.0" cy="306.1" r="0.8" fill="#ffffff"/>
<circle cx="362.0" cy="300.2" r="1.3" fill="#ff70c8"/>
<circle cx="344.8" cy="307.2" r="0.8" fill="#f080d8"/>
<circle cx="325.7" cy="304.4" r="1.2" fill="#ff90d8"/>
<circle cx="336.1" cy="302.7" r="0.7" fill="#ffb8e0"/>
<ellipse cx="360.7" cy="303.6" rx="1.7" ry="0.7" transform="rotate(145 360.7 303.6)" fill="#ff70c8"/>
<circle cx="370.4" cy="306.5" r="1.2" fill="#ffffff"/>
<ellipse cx="377.3" cy="313.6" rx="1.4" ry="0.6" transform="rotate(40 377.3 313.6)" fill="#ffb8e0"/>
<ellipse cx="375.3" cy="307.4" rx="1.9" ry="0.8" transform="rotate(41 375.3 307.4)" fill="#ff90d8"/>
<circle cx="384.6" cy="306.6" r="1.1" fill="#ffd0f0"/>
<ellipse cx="351.5" cy="300.9" rx="2.1" ry="1.0" transform="rotate(89 351.5 300.9)" fill="#ff70c8"/>
<ellipse cx="375.2" cy="308.6" rx="1.2" ry="0.5" transform="rotate(50 375.2 308.6)" fill="#ff70c8"/>
<circle cx="388.8" cy="314.6" r="1.4" fill="#ffd0f0"/>
<circle cx="360.9" cy="301.5" r="0.7" fill="#ffffff"/>
<ellipse cx="374.7" cy="303.4" rx="2.2" ry="1.0" transform="rotate(103 374.7 303.4)" fill="#f080d8"/>
<ellipse cx="382.7" cy="298.3" rx="1.3" ry="0.6" transform="rotate(102 382.7 298.3)" fill="#f080d8"/>
<circle cx="377.2" cy="309.9" r="0.7" fill="#ff90d8"/>
<ellipse cx="384.4" cy="307.6" rx="2.2" ry="1.0" transform="rotate(82 384.4 307.6)" fill="#ffd0f0"/>
<circle cx="363.5" cy="309.5" r="1.3" fill="#ffffff"/>
<circle cx="360.4" cy="309.2" r="0.9" fill="#ffb8e0"/>
<circle cx="365.7" cy="305.9" r="0.6" fill="#ffb8e0"/>
<circle cx="373.6" cy="314.5" r="1.2" fill="#ff90d8"/>
<ellipse cx="375.8" cy="301.3" rx="1.2" ry="0.5" transform="rotate(93 375.8 301.3)" fill="#ffd0f0"/>
<ellipse cx="375.8" cy="300.4" rx="2.0" ry="0.9" transform="rotate(33 375.8 300.4)" fill="#ffd0f0"/>
<ellipse cx="379.7" cy="304.0" rx="2.1" ry="0.9" transform="rotate(129 379.7 304.0)" fill="#ffb8e0"/>
<ellipse cx="362.0" cy="298.8" rx="1.1" ry="0.5" transform="rotate(157 362.0 298.8)" fill="#ffffff"/>
<circle cx="370.3" cy="303.7" r="0.7" fill="#ff70c8"/>
<circle cx="393.4" cy="303.0" r="0.7" fill="#ff90d8"/>
<ellipse cx="380.5" cy="307.9" rx="2.2" ry="1.0" transform="rotate(157 380.5 307.9)" fill="#ff70c8"/>
<circle cx="381.1" cy="302.9" r="0.8" fill="#ffb8e0"/>
<ellipse cx="374.0" cy="309.8" rx="1.8" ry="0.8" transform="rotate(9 374.0 309.8)" fill="#ff90d8"/>
<circle cx="374.5" cy="308.7" r="1.3" fill="#ffb8e0"/>
<circle cx="404.0" cy="378.4" r="0.7" fill="#ffffff"/>
<circle cx="414.9" cy="335.7" r="1.0" fill="#ffffff"/>
<circle cx="396.9" cy="356.2" r="1.4" fill="#ffb8e0"/>
<ellipse cx="391.0" cy="348.5" rx="1.6" ry="0.7" transform="rotate(37 391.0 348.5)" fill="#ff70c8"/>
<circle cx="389.2" cy="364.3" r="0.8" fill="#ffd0f0"/>
<circle cx="387.2" cy="373.8" r="0.8" fill="#f080d8"/>
<circle cx="418.8" cy="348.9" r="1.2" fill="#ff90d8"/>
<circle cx="403.4" cy="373.4" r="0.9" fill="#ffd0f0"/>
<ellipse cx="398.8" cy="366.4" rx="2.0" ry="0.9" transform="rotate(0 398.8 366.4)" fill="#f080d8"/>
<ellipse cx="387.9" cy="364.5" rx="1.6" ry="0.7" transform="rotate(149 387.9 364.5)" fill="#ff70c8"/>
<circle cx="384.0" cy="355.7" r="1.1" fill="#ff90d8"/>
<circle cx="417.1" cy="361.9" r="1.2" fill="#ffd0f0"/>
<circle cx="373.7" cy="341.5" r="1.2" fill="#ff70c8"/>
<circle cx="396.7" cy="359.2" r="1.3" fill="#f080d8"/>
<circle cx="382.8" cy="349.7" r="1.3" fill="#ff90d8"/>
<ellipse cx="392.2" cy="360.3" rx="1.2" ry="0.5" transform="rotate(47 392.2 360.3)" fill="#ff90d8"/>
<circle cx="408.7" cy="382.3" r="0.7" fill="#ffffff"/>
<circle cx="399.2" cy="357.6" r="0.8" fill="#f080d8"/>
<circle cx="383.3" cy="350.1" r="1.1" fill="#ffd0f0"/>
<circle cx="390.6" cy="363.6" r="1.3" fill="#ffffff"/>
<circle cx="378.8" cy="357.2" r="0.9" fill="#ffd0f0"/>
<ellipse cx="391.2" cy="346.8" rx="1.4" ry="0.6" transform="rotate(59 391.2 346.8)" fill="#ffffff"/>
<circle cx="404.3" cy="362.6" r="1.2" fill="#ff70c8"/>
<circle cx="389.4" cy="350.8" r="1.0" fill="#f080d8"/>
<circle cx="403.5" cy="358.2" r="1.3" fill="#ffd0f0"/>
<ellipse cx="393.8" cy="358.6" rx="1.5" ry="0.6" transform="rotate(51 393.8 358.6)" fill="#ff90d8"/>
<ellipse cx="391.7" cy="349.3" rx="2.3" ry="1.0" transform="rotate(61 391.7 349.3)" fill="#ffb8e0"/>
<circle cx="408.5" cy="350.7" r="1.2" fill="#f080d8"/>
<circle cx="365.7" cy="364.4" r="1.2" fill="#ffb8e0"/>
<circle cx="401.8" cy="357.6" r="1.3" fill="#ffb8e0"/>
<ellipse cx="388.0" cy="356.6" rx="2.4" ry="1.1" transform="rotate(6 388.0 356.6)" fill="#ffd0f0"/>
<ellipse cx="417.2" cy="377.1" rx="1.6" ry="0.7" transform="rotate(7 417.2 377.1)" fill="#ffd0f0"/>
<circle cx="412.8" cy="364.8" r="1.1" fill="#ffffff"/>
<ellipse cx="418.4" cy="366.8" rx="2.2" ry="1.0" transform="rotate(136 418.4 366.8)" fill="#ffffff"/>
<circle cx="417.8" cy="369.7" r="1.3" fill="#ffd0f0"/>
<circle cx="392.2" cy="368.1" r="0.6" fill="#ffffff"/>
<circle cx="411.9" cy="370.5" r="1.1" fill="#ff90d8"/>
<ellipse cx="411.2" cy="371.7" rx="1.4" ry="0.6" transform="rotate(108 411.2 371.7)" fill="#ff70c8"/>
<circle cx="402.7" cy="361.2" r="0.8" fill="#ff70c8"/>
<circle cx="412.3" cy="349.0" r="1.1" fill="#ff70c8"/>
<circle cx="389.4" cy="358.0" r="0.9" fill="#ffd0f0"/>
<ellipse cx="379.5" cy="375.4" rx="1.9" ry="0.8" transform="rotate(23 379.5 375.4)" fill="#f080d8"/>
<ellipse cx="395.6" cy="353.4" rx="1.1" ry="0.5" transform="rotate(13 395.6 353.4)" fill="#ffd0f0"/>
<circle cx="388.4" cy="364.4" r="1.2" fill="#ffb8e0"/>
<circle cx="362.6" cy="343.5" r="1.0" fill="#ff90d8"/>
<circle cx="390.0" cy="368.2" r="1.2" fill="#ffd0f0"/>
<circle cx="414.1" cy="352.3" r="1.0" fill="#f080d8"/>
<circle cx="396.5" cy="343.6" r="0.9" fill="#ffb8e0"/>
<circle cx="410.0" cy="347.5" r="0.9" fill="#ff70c8"/>
<circle cx="395.0" cy="369.0" r="1.3" fill="#ffb8e0"/>
<ellipse cx="411.6" cy="358.1" rx="2.4" ry="1.1" transform="rotate(152 411.6 358.1)" fill="#ffffff"/>
<ellipse cx="392.4" cy="342.7" rx="1.6" ry="0.7" transform="rotate(39 392.4 342.7)" fill="#ffb8e0"/>
<circle cx="339.4" cy="358.8" r="0.7" fill="#ff70c8"/>
<circle cx="343.4" cy="368.0" r="1.0" fill="#ff90d8"/>
<circle cx="340.1" cy="369.7" r="1.2" fill="#f080d8"/>
<ellipse cx="351.3" cy="373.8" rx="1.4" ry="0.6" transform="rotate(133 351.3 373.8)" fill="#ff70c8"/>
<circle cx="352.7" cy="376.0" r="0.8" fill="#ffffff"/>
<ellipse cx="354.0" cy="369.8" rx="2.0" ry="0.9" transform="rotate(38 354.0 369.8)" fill="#ff90d8"/>
<ellipse cx="352.5" cy="357.5" rx="1.7" ry="0.8" transform="rotate(163 352.5 357.5)" fill="#ffd0f0"/>
<ellipse cx="344.0" cy="386.3" rx="1.7" ry="0.8" transform="rotate(111 344.0 386.3)" fill="#ffffff"/>
<ellipse cx="352.8" cy="392.2" rx="1.5" ry="0.7" transform="rotate(65 352.8 392.2)" fill="#f080d8"/>
<circle cx="347.9" cy="369.2" r="0.8" fill="#ffffff"/>
<ellipse cx="333.1" cy="364.0" rx="1.7" ry="0.7" transform="rotate(167 333.1 364.0)" fill="#ffffff"/>
<circle cx="342.0" cy="355.1" r="1.1" fill="#ffb8e0"/>
<circle cx="340.9" cy="372.6" r="1.2" fill="#ff90d8"/>
<ellipse cx="351.2" cy="357.6" rx="2.0" ry="0.9" transform="rotate(108 351.2 357.6)" fill="#ffb8e0"/>
<circle cx="334.6" cy="373.1" r="0.9" fill="#ff90d8"/>
<circle cx="355.0" cy="365.6" r="0.6" fill="#ffd0f0"/>
<circle cx="360.2" cy="372.4" r="0.7" fill="#ff90d8"/>
<circle cx="343.4" cy="369.6" r="1.1" fill="#ffffff"/>
<ellipse cx="346.2" cy="370.2" rx="2.2" ry="1.0" transform="rotate(87 346.2 370.2)" fill="#ffb8e0"/>
<ellipse cx="347.5" cy="361.2" rx="2.5" ry="1.1" transform="rotate(131 347.5 361.2)" fill="#ffd0f0"/>
<ellipse cx="346.2" cy="359.1" rx="2.0" ry="0.9" transform="rotate(97 346.2 359.1)" fill="#ffb8e0"/>
<circle cx="351.7" cy="371.2" r="1.3" fill="#ffffff"/>
<circle cx="343.3" cy="375.0" r="0.8" fill="#f080d8"/>
<circle cx="379.6" cy="365.4" r="1.4" fill="#ff90d8"/>
<circle cx="359.9" cy="380.1" r="1.2" fill="#ffb8e0"/>
<ellipse cx="338.0" cy="360.0" rx="2.3" ry="1.0" transform="rotate(170 338.0 360.0)" fill="#ffffff"/>
<circle cx="356.6" cy="357.5" r="0.9" fill="#f080d8"/>
<circle cx="337.7" cy="358.8" r="1.0" fill="#ff90d8"/>
<circle cx="346.9" cy="377.7" r="0.8" fill="#ff90d8"/>
<ellipse cx="330.0" cy="371.7" rx="2.2" ry="1.0" transform="rotate(167 330.0 371.7)" fill="#ff70c8"/>
<ellipse cx="343.1" cy="378.3" rx="2.0" ry="0.9" transform="rotate(92 343.1 378.3)" fill="#ff90d8"/>
<circle cx="365.7" cy="363.2" r="0.6" fill="#ff70c8"/>
<circle cx="331.1" cy="402.6" r="1.3" fill="#ffd0f0"/>
<ellipse cx="326.6" cy="402.3" rx="1.2" ry="0.5" transform="rotate(155 326.6 402.3)" fill="#ffd0f0"/>
<circle cx="314.4" cy="398.7" r="0.7" fill="#ff90d8"/>
<circle cx="332.4" cy="417.8" r="1.0" fill="#ffffff"/>
<circle cx="317.8" cy="397.0" r="1.1" fill="#ffffff"/>
<circle cx="333.2" cy="402.4" r="1.2" fill="#ffffff"/>
<ellipse cx="337.1" cy="395.4" rx="1.2" ry="0.6" transform="rotate(107 337.1 395.4)" fill="#ff90d8"/>
<circle cx="334.7" cy="398.0" r="1.0" fill="#ff90d8"/>
<circle cx="327.9" cy="400.8" r="0.7" fill="#ffffff"/>
<circle cx="347.2" cy="408.8" r="1.0" fill="#ffffff"/>
<circle cx="327.1" cy="418.7" r="0.9" fill="#ffffff"/>
<ellipse cx="341.4" cy="414.5" rx="2.0" ry="0.9" transform="rotate(156 341.4 414.5)" fill="#ffd0f0"/>
<circle cx="321.4" cy="386.9" r="0.9" fill="#f080d8"/>
<ellipse cx="314.9" cy="409.7" rx="1.3" ry="0.6" transform="rotate(106 314.9 409.7)" fill="#ffffff"/>
<ellipse cx="332.8" cy="411.2" rx="2.0" ry="0.9" transform="rotate(134 332.8 411.2)" fill="#f080d8"/>
<circle cx="330.8" cy="401.2" r="0.9" fill="#f080d8"/>
<circle cx="337.0" cy="410.7" r="0.9" fill="#ff70c8"/>
<circle cx="322.8" cy="407.8" r="1.0" fill="#ffffff"/>
<circle cx="325.5" cy="408.2" r="0.8" fill="#ff90d8"/>
<ellipse cx="319.1" cy="400.7" rx="2.2" ry="1.0" transform="rotate(141 319.1 400.7)" fill="#ffb8e0"/>
<ellipse cx="327.2" cy="407.1" rx="1.5" ry="0.7" transform="rotate(48 327.2 407.1)" fill="#ffb8e0"/>
<circle cx="319.8" cy="398.8" r="1.2" fill="#f080d8"/>
<circle cx="326.4" cy="412.0" r="1.1" fill="#ffffff"/>
<circle cx="332.2" cy="409.4" r="1.1" fill="#ff90d8"/>
<circle cx="334.6" cy="411.8" r="0.6" fill="#ffffff"/>
<ellipse cx="348.2" cy="409.7" rx="1.3" ry="0.6" transform="rotate(66 348.2 409.7)" fill="#ff70c8"/>
<circle cx="330.9" cy="410.4" r="0.6" fill="#f080d8"/>
<ellipse cx="332.8" cy="406.6" rx="1.9" ry="0.8" transform="rotate(30 332.8 406.6)" fill="#ffb8e0"/>
<ellipse cx="312.1" cy="397.8" rx="1.7" ry="0.8" transform="rotate(99 312.1 397.8)" fill="#f080d8"/>
<circle cx="312.2" cy="395.1" r="1.4" fill="#ffb8e0"/>
<circle cx="326.4" cy="406.7" r="1.0" fill="#ffffff"/>
<ellipse cx="330.9" cy="408.1" rx="2.1" ry="0.9" transform="rotate(22 330.9 408.1)" fill="#ff90d8"/>
<circle cx="333.2" cy="404.2" r="0.6" fill="#ff90d8"/>
<ellipse cx="315.8" cy="413.0" rx="2.4" ry="1.1" transform="rotate(177 315.8 413.0)" fill="#ff90d8"/>
<circle cx="329.5" cy="403.8" r="1.1" fill="#ffb8e0"/>
<ellipse cx="320.8" cy="389.6" rx="2.4" ry="1.1" transform="rotate(8 320.8 389.6)" fill="#ffd0f0"/>
<circle cx="347.3" cy="415.7" r="1.1" fill="#ffb8e0"/>
<circle cx="324.6" cy="423.0" r="0.7" fill="#ffb8e0"/>
<circle cx="323.9" cy="402.5" r="1.4" fill="#ffb8e0"/>
<ellipse cx="359.0" cy="414.5" rx="2.2" ry="1.0" transform="rotate(165 359.0 414.5)" fill="#ff90d8"/>
<circle cx="353.4" cy="412.7" r="0.9" fill="#ff70c8"/>
<ellipse cx="365.4" cy="409.2" rx="1.5" ry="0.7" transform="rotate(166 365.4 409.2)" fill="#ffffff"/>
<circle cx="367.2" cy="409.0" r="1.3" fill="#ffd0f0"/>
<circle cx="370.0" cy="409.7" r="0.8" fill="#ff90d8"/>
<circle cx="349.0" cy="425.4" r="1.1" fill="#ffb8e0"/>
<circle cx="361.9" cy="418.4" r="0.8" fill="#f080d8"/>
<ellipse cx="379.9" cy="412.3" rx="2.2" ry="1.0" transform="rotate(36 379.9 412.3)" fill="#f080d8"/>
<circle cx="381.7" cy="433.2" r="1.2" fill="#ffb8e0"/>
<circle cx="359.1" cy="420.4" r="1.0" fill="#ff90d8"/>
<ellipse cx="366.5" cy="407.1" rx="2.5" ry="1.1" transform="rotate(14 366.5 407.1)" fill="#ffffff"/>
<circle cx="347.1" cy="424.7" r="1.3" fill="#ffd0f0"/>
<circle cx="365.4" cy="410.5" r="0.7" fill="#ffd0f0"/>
<circle cx="363.7" cy="427.2" r="1.3" fill="#f080d8"/>
<ellipse cx="355.9" cy="425.5" rx="1.4" ry="0.6" transform="rotate(23 355.9 425.5)" fill="#ff90d8"/>
<ellipse cx="365.4" cy="412.6" rx="1.9" ry="0.8" transform="rotate(132 365.4 412.6)" fill="#ff90d8"/>
<circle cx="362.6" cy="433.8" r="1.0" fill="#ff70c8"/>
<circle cx="347.8" cy="408.9" r="0.7" fill="#ff70c8"/>
<ellipse cx="358.9" cy="427.4" rx="1.2" ry="0.5" transform="rotate(144 358.9 427.4)" fill="#ffb8e0"/>
<ellipse cx="354.9" cy="415.5" rx="2.4" ry="1.1" transform="rotate(24 354.9 415.5)" fill="#ffb8e0"/>
<ellipse cx="364.4" cy="405.1" rx="2.5" ry="1.1" transform="rotate(9 364.4 405.1)" fill="#ff70c8"/>
<ellipse cx="364.3" cy="422.2" rx="1.2" ry="0.5" transform="rotate(142 364.3 422.2)" fill="#ff70c8"/>
<circle cx="371.1" cy="412.4" r="1.4" fill="#ffd0f0"/>
<circle cx="373.2" cy="410.4" r="1.3" fill="#ffd0f0"/>
<circle cx="361.3" cy="427.0" r="1.1" fill="#ffffff"/>
<ellipse cx="354.4" cy="417.8" rx="2.3" ry="1.0" transform="rotate(60 354.4 417.8)" fill="#ffffff"/>
<ellipse cx="362.6" cy="419.9" rx="1.4" ry="0.6" transform="rotate(141 362.6 419.9)" fill="#ffd0f0"/>
<circle cx="363.9" cy="416.1" r="1.2" fill="#ffffff"/>
<ellipse cx="363.0" cy="410.0" rx="1.2" ry="0.5" transform="rotate(1 363.0 410.0)" fill="#ff90d8"/>
<circle cx="357.5" cy="412.7" r="1.1" fill="#ffd0f0"/>
<ellipse cx="350.6" cy="419.2" rx="1.6" ry="0.7" transform="rotate(97 350.6 419.2)" fill="#ff90d8"/>
<circle cx="341.7" cy="422.6" r="1.3" fill="#ffb8e0"/>
<circle cx="419.9" cy="330.8" r="0.6" fill="#ff90d8"/>
<circle cx="430.8" cy="341.2" r="0.9" fill="#ffb8e0"/>
<ellipse cx="438.6" cy="331.2" rx="1.6" ry="0.7" transform="rotate(19 438.6 331.2)" fill="#ffb8e0"/>
<ellipse cx="428.0" cy="334.8" rx="1.4" ry="0.6" transform="rotate(93 428.0 334.8)" fill="#ff90d8"/>
<circle cx="414.6" cy="347.4" r="0.7" fill="#ff90d8"/>
<ellipse cx="416.8" cy="337.7" rx="1.7" ry="0.7" transform="rotate(6 416.8 337.7)" fill="#ff70c8"/>
<ellipse cx="414.9" cy="333.1" rx="2.2" ry="1.0" transform="rotate(27 414.9 333.1)" fill="#ff70c8"/>
<circle cx="412.2" cy="338.5" r="0.7" fill="#ffffff"/>
<circle cx="430.4" cy="328.7" r="0.8" fill="#ff70c8"/>
<circle cx="430.8" cy="345.1" r="1.4" fill="#ff70c8"/>
<ellipse cx="439.2" cy="335.8" rx="1.2" ry="0.5" transform="rotate(41 439.2 335.8)" fill="#ffd0f0"/>
<circle cx="432.0" cy="316.7" r="0.7" fill="#ffb8e0"/>
<ellipse cx="423.6" cy="329.2" rx="1.3" ry="0.6" transform="rotate(134 423.6 329.2)" fill="#ff70c8"/>
<ellipse cx="424.4" cy="343.9" rx="2.4" ry="1.1" transform="rotate(146 424.4 343.9)" fill="#ff90d8"/>
<circle cx="424.3" cy="339.8" r="1.2" fill="#ff90d8"/>
<circle cx="408.9" cy="327.1" r="1.3" fill="#ff70c8"/>
<circle cx="423.0" cy="339.9" r="1.1" fill="#ff90d8"/>
<circle cx="416.3" cy="333.3" r="0.7" fill="#ffb8e0"/>
<ellipse cx="430.6" cy="321.0" rx="1.8" ry="0.8" transform="rotate(72 430.6 321.0)" fill="#ffffff"/>
<circle cx="427.1" cy="329.0" r="0.6" fill="#ffb8e0"/>
<circle cx="428.9" cy="344.8" r="0.8" fill="#ff70c8"/>
<circle cx="433.1" cy="338.8" r="1.1" fill="#ff70c8"/>
<ellipse cx="412.4" cy="334.9" rx="1.8" ry="0.8" transform="rotate(62 412.4 334.9)" fill="#ff70c8"/>
<circle cx="423.9" cy="320.2" r="1.1" fill="#ff70c8"/>
<circle cx="434.8" cy="321.8" r="1.0" fill="#f080d8"/>
<ellipse cx="422.4" cy="332.0" rx="1.4" ry="0.6" transform="rotate(158 422.4 332.0)" fill="#ff90d8"/>
<circle cx="424.4" cy="342.0" r="1.0" fill="#ffd0f0"/>
<ellipse cx="431.2" cy="343.1" rx="1.4" ry="0.6" transform="rotate(153 431.2 343.1)" fill="#ffffff"/>
<ellipse cx="412.4" cy="331.5" rx="2.1" ry="0.9" transform="rotate(24 412.4 331.5)" fill="#ffffff"/>
<circle cx="423.8" cy="341.8" r="1.0" fill="#ff70c8"/>
<circle cx="424.1" cy="338.6" r="1.3" fill="#ff90d8"/>
<circle cx="423.9" cy="332.5" r="1.1" fill="#ff90d8"/>
<circle cx="422.5" cy="335.5" r="1.1" fill="#f080d8"/>
<circle cx="426.2" cy="327.7" r="0.9" fill="#ff70c8"/>
<circle cx="417.9" cy="341.0" r="0.9" fill="#f080d8"/>
<circle cx="426.9" cy="319.4" r="1.3" fill="#ffd0f0"/>
<ellipse cx="419.0" cy="340.0" rx="2.1" ry="0.9" transform="rotate(108 419.0 340.0)" fill="#ffffff"/>
<ellipse cx="415.9" cy="330.4" rx="1.8" ry="0.8" transform="rotate(110 415.9 330.4)" fill="#ff90d8"/>
<circle cx="419.4" cy="336.0" r="0.7" fill="#ffb8e0"/>
<circle cx="392.8" cy="387.2" r="1.3" fill="#ffd0f0"/>
<circle cx="414.3" cy="389.7" r="1.3" fill="#ffffff"/>
<ellipse cx="383.1" cy="393.2" rx="2.0" ry="0.9" transform="rotate(133 383.1 393.2)" fill="#ffd0f0"/>
<ellipse cx="382.6" cy="405.9" rx="1.5" ry="0.7" transform="rotate(165 382.6 405.9)" fill="#ff90d8"/>
<circle cx="414.8" cy="405.4" r="1.4" fill="#ff70c8"/>
<circle cx="416.5" cy="403.4" r="1.3" fill="#f080d8"/>
<ellipse cx="410.7" cy="402.9" rx="1.7" ry="0.7" transform="rotate(62 410.7 402.9)" fill="#ffffff"/>
<circle cx="415.7" cy="403.3" r="1.3" fill="#f080d8"/>
<ellipse cx="406.8" cy="405.8" rx="1.9" ry="0.8" transform="rotate(140 406.8 405.8)" fill="#ff70c8"/>
<ellipse cx="396.5" cy="392.1" rx="1.5" ry="0.7" transform="rotate(56 396.5 392.1)" fill="#ff90d8"/>
<ellipse cx="395.2" cy="397.4" rx="1.9" ry="0.9" transform="rotate(90 395.2 397.4)" fill="#ff90d8"/>
<circle cx="409.8" cy="393.5" r="1.0" fill="#ff70c8"/>
<ellipse cx="410.0" cy="394.1" rx="1.2" ry="0.5" transform="rotate(141 410.0 394.1)" fill="#ffd0f0"/>
<circle cx="397.7" cy="393.4" r="1.1" fill="#ffb8e0"/>
<circle cx="394.7" cy="408.8" r="1.0" fill="#ffffff"/>
<ellipse cx="404.6" cy="393.4" rx="1.6" ry="0.7" transform="rotate(172 404.6 393.4)" fill="#ff90d8"/>
<circle cx="390.5" cy="387.6" r="1.3" fill="#ffffff"/>
<ellipse cx="419.0" cy="383.8" rx="2.5" ry="1.1" transform="rotate(161 419.0 383.8)" fill="#ffffff"/>
<ellipse cx="394.5" cy="388.8" rx="1.7" ry="0.7" transform="rotate(105 394.5 388.8)" fill="#f080d8"/>
<circle cx="434.0" cy="377.8" r="1.4" fill="#ffb8e0"/>
<ellipse cx="442.9" cy="377.1" rx="2.0" ry="0.9" transform="rotate(115 442.9 377.1)" fill="#ffffff"/>
<ellipse cx="430.7" cy="390.0" rx="1.5" ry="0.7" transform="rotate(142 430.7 390.0)" fill="#f080d8"/>
<circle cx="436.0" cy="392.0" r="1.2" fill="#ffb8e0"/>
<circle cx="436.3" cy="391.9" r="1.0" fill="#ffb8e0"/>
<circle cx="433.0" cy="377.8" r="0.7" fill="#ff70c8"/>
<ellipse cx="448.1" cy="381.8" rx="1.4" ry="0.6" transform="rotate(109 448.1 381.8)" fill="#ffd0f0"/>
<ellipse cx="444.6" cy="386.5" rx="2.4" ry="1.1" transform="rotate(137 444.6 386.5)" fill="#ff70c8"/>
<circle cx="419.2" cy="374.7" r="1.0" fill="#ffffff"/>
<circle cx="433.9" cy="390.7" r="0.6" fill="#ffb8e0"/>
<ellipse cx="448.5" cy="379.2" rx="1.8" ry="0.8" transform="rotate(95 448.5 379.2)" fill="#f080d8"/>
<circle cx="433.7" cy="394.0" r="1.1" fill="#ffb8e0"/>
<circle cx="433.6" cy="386.1" r="1.1" fill="#ff70c8"/>
<ellipse cx="436.4" cy="366.4" rx="1.2" ry="0.5" transform="rotate(93 436.4 366.4)" fill="#ffd0f0"/>
<circle cx="443.3" cy="372.2" r="0.7" fill="#ffffff"/>
<circle cx="374.6" cy="341.7" r="1.0" fill="#ffffff"/>
<circle cx="388.7" cy="334.1" r="1.0" fill="#ff90d8"/>
<ellipse cx="382.6" cy="331.1" rx="1.9" ry="0.8" transform="rotate(145 382.6 331.1)" fill="#ffffff"/>
<circle cx="383.5" cy="328.7" r="0.9" fill="#ff70c8"/>
<ellipse cx="382.5" cy="322.6" rx="2.4" ry="1.1" transform="rotate(25 382.5 322.6)" fill="#f080d8"/>
<circle cx="386.9" cy="330.1" r="0.7" fill="#f080d8"/>
<circle cx="383.8" cy="338.6" r="1.0" fill="#f080d8"/>
<circle cx="388.4" cy="337.7" r="0.7" fill="#f080d8"/>
<circle cx="387.9" cy="331.7" r="0.7" fill="#ffb8e0"/>
<ellipse cx="374.0" cy="322.9" rx="1.2" ry="0.5" transform="rotate(148 374.0 322.9)" fill="#ff70c8"/>
<ellipse cx="388.6" cy="333.5" rx="1.5" ry="0.7" transform="rotate(160 388.6 333.5)" fill="#ffd0f0"/>
<ellipse cx="397.3" cy="318.7" rx="1.2" ry="0.5" transform="rotate(159 397.3 318.7)" fill="#ffb8e0"/>
<circle cx="390.6" cy="330.5" r="0.9" fill="#ffd0f0"/>
<ellipse cx="374.7" cy="333.1" rx="1.4" ry="0.6" transform="rotate(150 374.7 333.1)" fill="#ff90d8"/>
<ellipse cx="378.2" cy="341.8" rx="2.3" ry="1.0" transform="rotate(154 378.2 341.8)" fill="#ff70c8"/>
<ellipse cx="394.1" cy="328.3" rx="2.4" ry="1.1" transform="rotate(99 394.1 328.3)" fill="#ffffff"/>
<circle cx="383.9" cy="325.8" r="0.8" fill="#ffb8e0"/>
<ellipse cx="400.9" cy="331.7" rx="1.2" ry="0.5" transform="rotate(97 400.9 331.7)" fill="#ff90d8"/>
<ellipse cx="332.4" cy="345.8" rx="1.7" ry="0.7" transform="rotate(85 332.4 345.8)" fill="#f080d8"/>
<circle cx="323.8" cy="339.8" r="1.1" fill="#ffb8e0"/>
<ellipse cx="322.6" cy="338.4" rx="1.4" ry="0.6" transform="rotate(72 322.6 338.4)" fill="#ff70c8"/>
<ellipse cx="320.1" cy="347.1" rx="2.0" ry="0.9" transform="rotate(39 320.1 347.1)" fill="#ff90d8"/>
<circle cx="319.3" cy="341.6" r="0.8" fill="#ff90d8"/>
<ellipse cx="313.7" cy="342.0" rx="2.2" ry="1.0" transform="rotate(94 313.7 342.0)" fill="#ff70c8"/>
<circle cx="321.3" cy="353.0" r="1.1" fill="#ff70c8"/>
<circle cx="326.8" cy="342.1" r="0.8" fill="#ff90d8"/>
<circle cx="339.7" cy="335.0" r="1.1" fill="#ff70c8"/>
<ellipse cx="314.0" cy="343.2" rx="1.8" ry="0.8" transform="rotate(31 314.0 343.2)" fill="#ffffff"/>
<circle cx="312.5" cy="344.2" r="0.8" fill="#ffb8e0"/>
<ellipse cx="329.4" cy="347.3" rx="1.3" ry="0.6" transform="rotate(22 329.4 347.3)" fill="#ffffff"/>
<circle cx="325.2" cy="359.0" r="0.9" fill="#ffd0f0"/>
<circle cx="332.1" cy="352.3" r="1.2" fill="#ff90d8"/>
<ellipse cx="324.7" cy="347.8" rx="1.4" ry="0.6" transform="rotate(102 324.7 347.8)" fill="#ff70c8"/>
<circle cx="420.5" cy="429.1" r="1.0" fill="#ffffff"/>
<ellipse cx="432.7" cy="417.6" rx="1.5" ry="0.7" transform="rotate(173 432.7 417.6)" fill="#ffffff"/>
<circle cx="423.8" cy="408.1" r="0.6" fill="#ffb8e0"/>
<circle cx="430.2" cy="431.6" r="0.9" fill="#ff90d8"/>
<ellipse cx="428.4" cy="424.6" rx="2.0" ry="0.9" transform="rotate(173 428.4 424.6)" fill="#ffd0f0"/>
<circle cx="421.0" cy="424.6" r="0.9" fill="#ff90d8"/>
<circle cx="428.3" cy="421.2" r="0.8" fill="#ff90d8"/>
<circle cx="424.7" cy="418.3" r="1.0" fill="#ffb8e0"/>
<ellipse cx="425.0" cy="413.1" rx="2.4" ry="1.1" transform="rotate(167 425.0 413.1)" fill="#ff70c8"/>
<circle cx="443.3" cy="412.9" r="1.1" fill="#ff90d8"/>
<circle cx="429.1" cy="418.5" r="0.9" fill="#ff70c8"/>
<ellipse cx="430.0" cy="417.5" rx="2.1" ry="0.9" transform="rotate(157 430.0 417.5)" fill="#ff90d8"/>
<circle cx="429.3" cy="422.6" r="1.4" fill="#ff70c8"/>
<circle cx="425.3" cy="410.8" r="1.3" fill="#ffb8e0"/>
<circle cx="418.0" cy="419.5" r="0.8" fill="#ff90d8"/>
<circle cx="424.8" cy="420.3" r="1.4" fill="#f080d8"/>
<circle cx="429.3" cy="427.5" r="1.4" fill="#f080d8"/>
<ellipse cx="428.7" cy="435.4" rx="1.3" ry="0.6" transform="rotate(23 428.7 435.4)" fill="#ff90d8"/>
<circle cx="427.2" cy="417.5" r="1.1" fill="#ffb8e0"/>
<circle cx="365.5" cy="389.5" r="1.0" fill="#ffffff"/>
<ellipse cx="361.0" cy="389.1" rx="2.4" ry="1.0" transform="rotate(144 361.0 389.1)" fill="#ff90d8"/>
<circle cx="357.6" cy="394.5" r="1.0" fill="#ff90d8"/>
<circle cx="362.9" cy="381.9" r="1.4" fill="#ffb8e0"/>
<ellipse cx="366.9" cy="382.4" rx="1.5" ry="0.7" transform="rotate(52 366.9 382.4)" fill="#ffd0f0"/>
<circle cx="371.0" cy="386.8" r="0.8" fill="#ffb8e0"/>
<circle cx="369.6" cy="384.2" r="1.0" fill="#ff70c8"/>
<circle cx="366.5" cy="387.0" r="0.6" fill="#ffb8e0"/>
<circle cx="376.0" cy="389.8" r="1.4" fill="#ffd0f0"/>
<circle cx="352.7" cy="373.1" r="1.0" fill="#ff70c8"/>
<circle cx="382.9" cy="385.7" r="1.1" fill="#ffffff"/>
<ellipse cx="361.5" cy="381.3" rx="1.4" ry="0.6" transform="rotate(7 361.5 381.3)" fill="#ffd0f0"/>
<ellipse cx="367.3" cy="373.7" rx="1.5" ry="0.7" transform="rotate(163 367.3 373.7)" fill="#f080d8"/>
</g>
</g>
<text x="317.6" y="322.0" font-size="26.50" font-weight="bold" fill="#fff">F</text>
<rect x="319.0" y="427.6" width="21.5" height="2.6" fill="#fff"/>
<rect x="405.5" y="319.3" width="32.1" height="33.4" fill="none" stroke="#fff" stroke-width="1.5" stroke-dasharray="4 2.5"/>
<line x1="437.6" y1="319.3" x2="451.0" y2="297.8" stroke="#fff" stroke-width="1.30" stroke-dasharray="1.3 1.3"/>
<line x1="437.6" y1="352.7" x2="451.0" y2="434.6" stroke="#fff" stroke-width="1.30" stroke-dasharray="1.3 1.3"/>
<rect x="458.1" y="297.5" width="138.9" height="138.9" fill="#000"/>
<g clip-path="url(#cFp)">
<g filter="url(#blur1)">
<circle cx="473.9" cy="426.5" r="1.7" fill="#1030d0"/>
<circle cx="573.0" cy="399.6" r="2.0" fill="#1030d0"/>
<circle cx="582.9" cy="422.7" r="3.0" fill="#2a4cf0"/>
<circle cx="533.4" cy="352.2" r="2.2" fill="#2a4cf0"/>
<circle cx="592.6" cy="403.0" r="1.5" fill="#1030d0"/>
<circle cx="467.4" cy="331.4" r="2.7" fill="#1a3af8"/>
<circle cx="523.3" cy="330.5" r="2.1" fill="#1838e8"/>
<circle cx="528.3" cy="399.6" r="1.8" fill="#2244ff"/>
<circle cx="516.2" cy="341.3" r="3.0" fill="#1838e8"/>
<circle cx="571.0" cy="355.1" r="2.0" fill="#1a3af8"/>
<circle cx="488.8" cy="362.8" r="3.0" fill="#2244ff"/>
<circle cx="502.8" cy="322.4" r="1.8" fill="#2244ff"/>
<circle cx="571.2" cy="395.8" r="3.0" fill="#1a3af8"/>
<circle cx="541.6" cy="315.1" r="3.0" fill="#1838e8"/>
<circle cx="495.6" cy="408.7" r="2.7" fill="#1030d0"/>
<circle cx="503.5" cy="317.6" r="2.5" fill="#2a4cf0"/>
<circle cx="527.6" cy="310.1" r="1.9" fill="#1030d0"/>
<circle cx="478.5" cy="330.6" r="2.5" fill="#2a4cf0"/>
<circle cx="539.9" cy="384.9" r="1.5" fill="#2244ff"/>
<circle cx="567.5" cy="397.0" r="2.1" fill="#2a4cf0"/>
<circle cx="504.6" cy="347.6" r="3.1" fill="#1838e8"/>
<circle cx="466.7" cy="395.1" r="1.8" fill="#1030d0"/>
<circle cx="523.9" cy="339.5" r="2.4" fill="#1030d0"/>
<circle cx="547.3" cy="328.5" r="3.2" fill="#2244ff"/>
<circle cx="486.3" cy="328.5" r="3.3" fill="#1030d0"/>
<circle cx="520.8" cy="386.4" r="1.4" fill="#1838e8"/>
<circle cx="535.7" cy="379.6" r="1.9" fill="#2a4cf0"/>
<circle cx="489.9" cy="389.3" r="3.2" fill="#2a4cf0"/>
<circle cx="487.9" cy="416.3" r="1.8" fill="#1a3af8"/>
<circle cx="465.7" cy="383.5" r="2.3" fill="#1a3af8"/>
<circle cx="524.8" cy="426.0" r="1.8" fill="#2a4cf0"/>
<circle cx="465.4" cy="358.9" r="1.6" fill="#1030d0"/>
<circle cx="518.4" cy="353.0" r="3.0" fill="#1030d0"/>
<circle cx="472.1" cy="411.6" r="1.7" fill="#2244ff"/>
<circle cx="465.3" cy="400.6" r="2.8" fill="#1030d0"/>
<circle cx="560.0" cy="393.7" r="1.5" fill="#1a3af8"/>
<circle cx="471.2" cy="372.3" r="1.9" fill="#1838e8"/>
<circle cx="528.7" cy="311.7" r="2.1" fill="#1838e8"/>
<circle cx="570.2" cy="367.3" r="2.9" fill="#2244ff"/>
<circle cx="496.4" cy="318.9" r="2.5" fill="#1a3af8"/>
<circle cx="554.4" cy="372.2" r="2.7" fill="#1a3af8"/>
<circle cx="547.8" cy="372.6" r="1.5" fill="#2a4cf0"/>
<circle cx="534.7" cy="343.0" r="1.6" fill="#1a3af8"/>
<circle cx="476.0" cy="379.8" r="2.6" fill="#1030d0"/>
<circle cx="471.5" cy="421.7" r="3.0" fill="#1838e8"/>
<circle cx="525.5" cy="394.7" r="2.2" fill="#1838e8"/>
<circle cx="472.5" cy="390.3" r="1.5" fill="#1a3af8"/>
<circle cx="480.8" cy="365.3" r="1.5" fill="#2a4cf0"/>
<circle cx="560.1" cy="310.5" r="1.5" fill="#1a3af8"/>
<circle cx="570.1" cy="431.9" r="1.6" fill="#1030d0"/>
<circle cx="591.4" cy="398.3" r="1.8" fill="#1a3af8"/>
<circle cx="514.2" cy="304.6" r="1.8" fill="#1030d0"/>
<circle cx="525.8" cy="346.9" r="1.5" fill="#2244ff"/>
<circle cx="590.6" cy="396.6" r="2.5" fill="#1030d0"/>
<circle cx="584.4" cy="314.0" r="1.5" fill="#1a3af8"/>
<circle cx="574.6" cy="387.9" r="2.3" fill="#1030d0"/>
<circle cx="539.5" cy="335.9" r="2.3" fill="#1838e8"/>
<circle cx="549.2" cy="413.8" r="1.8" fill="#1a3af8"/>
<circle cx="474.7" cy="344.2" r="2.3" fill="#1a3af8"/>
<circle cx="535.3" cy="323.7" r="2.2" fill="#1030d0"/>
<circle cx="571.5" cy="424.4" r="2.9" fill="#1a3af8"/>
<circle cx="492.3" cy="303.3" r="2.6" fill="#1838e8"/>
<circle cx="515.9" cy="398.2" r="1.5" fill="#2244ff"/>
<circle cx="493.7" cy="373.7" r="2.1" fill="#1a3af8"/>
<circle cx="593.2" cy="344.3" r="1.5" fill="#1838e8"/>
<circle cx="509.1" cy="428.4" r="2.4" fill="#1a3af8"/>
<circle cx="494.9" cy="429.5" r="2.0" fill="#1030d0"/>
<circle cx="585.1" cy="353.8" r="1.6" fill="#1a3af8"/>
<circle cx="555.7" cy="383.9" r="2.9" fill="#1030d0"/>
<circle cx="572.7" cy="346.5" r="2.0" fill="#1838e8"/>
<circle cx="500.2" cy="313.8" r="2.4" fill="#2a4cf0"/>
<circle cx="502.7" cy="398.4" r="2.8" fill="#2a4cf0"/>
<circle cx="501.1" cy="356.4" r="3.0" fill="#1a3af8"/>
<circle cx="592.0" cy="402.0" r="3.0" fill="#1030d0"/>
<circle cx="524.1" cy="385.6" r="1.5" fill="#2a4cf0"/>
<circle cx="477.4" cy="368.6" r="2.6" fill="#1030d0"/>
<circle cx="588.4" cy="391.9" r="2.0" fill="#2244ff"/>
<circle cx="557.4" cy="415.4" r="1.7" fill="#1030d0"/>
<circle cx="501.2" cy="346.3" r="1.8" fill="#1030d0"/>
<circle cx="508.4" cy="370.1" r="3.1" fill="#1838e8"/>
<circle cx="562.2" cy="421.9" r="2.2" fill="#1030d0"/>
<circle cx="526.2" cy="420.1" r="2.8" fill="#1030d0"/>
<circle cx="591.6" cy="419.0" r="2.9" fill="#2a4cf0"/>
<circle cx="508.9" cy="357.1" r="2.5" fill="#2a4cf0"/>
<circle cx="569.6" cy="381.1" r="2.8" fill="#1838e8"/>
</g>
<g filter="url(#blur2)" opacity="0.35">
<circle cx="540.0" cy="362.0" r="10.0" fill="#a01010"/>
<circle cx="560.0" cy="385.0" r="9.0" fill="#a01010"/>
<circle cx="505.0" cy="380.0" r="8.0" fill="#a01010"/>
<circle cx="510.0" cy="322.0" r="7.0" fill="#a01010"/>
<circle cx="530.0" cy="410.0" r="6.0" fill="#a01010"/>
<circle cx="480.0" cy="330.0" r="5.0" fill="#a01010"/>
<circle cx="575.0" cy="420.0" r="6.0" fill="#a01010"/>
</g>
<g filter="url(#blur1)">
<circle cx="495.6" cy="318.4" r="7.2" fill="#c02070" fill-opacity="0.55" stroke="#ff2a2a" stroke-width="2.1"/>
<circle cx="495.9" cy="318.7" r="2.5" fill="#6040f0" fill-opacity="0.6"/>
<circle cx="508.8" cy="320.4" r="4.4" fill="#c02070" fill-opacity="0.55" stroke="#ff2a2a" stroke-width="2.1"/>
<circle cx="509.1" cy="320.7" r="1.6" fill="#6040f0" fill-opacity="0.6"/>
<circle cx="510.8" cy="326.5" r="4.4" fill="#c02070" fill-opacity="0.55" stroke="#ff2a2a" stroke-width="2.1"/>
<circle cx="511.1" cy="326.8" r="1.6" fill="#6040f0" fill-opacity="0.6"/>
<circle cx="516.9" cy="330.5" r="3.6" fill="#c02070" fill-opacity="0.55" stroke="#ff2a2a" stroke-width="2.1"/>
<circle cx="517.2" cy="330.8" r="1.3" fill="#6040f0" fill-opacity="0.6"/>
<circle cx="517.9" cy="325.5" r="3.1" fill="#c02070" fill-opacity="0.55" stroke="#ff2a2a" stroke-width="2.1"/>
<circle cx="518.2" cy="325.8" r="1.1" fill="#6040f0" fill-opacity="0.6"/>
<circle cx="535.1" cy="360.0" r="6.6" fill="#c02070" fill-opacity="0.55" stroke="#ff2a2a" stroke-width="2.1"/>
<circle cx="535.4" cy="360.3" r="2.3" fill="#6040f0" fill-opacity="0.6"/>
<circle cx="542.2" cy="358.0" r="5.0" fill="#c02070" fill-opacity="0.55" stroke="#ff2a2a" stroke-width="2.1"/>
<circle cx="542.5" cy="358.3" r="1.8" fill="#6040f0" fill-opacity="0.6"/>
<circle cx="551.4" cy="363.0" r="5.5" fill="#c02070" fill-opacity="0.55" stroke="#ff2a2a" stroke-width="2.1"/>
<circle cx="551.7" cy="363.3" r="1.9" fill="#6040f0" fill-opacity="0.6"/>
<circle cx="556.0" cy="358.5" r="3.8" fill="#c02070" fill-opacity="0.55" stroke="#ff2a2a" stroke-width="2.1"/>
<circle cx="556.3" cy="358.8" r="1.3" fill="#6040f0" fill-opacity="0.6"/>
<circle cx="552.4" cy="370.0" r="4.0" fill="#c02070" fill-opacity="0.55" stroke="#ff2a2a" stroke-width="2.1"/>
<circle cx="552.7" cy="370.3" r="1.4" fill="#6040f0" fill-opacity="0.6"/>
<circle cx="546.0" cy="365.5" r="3.6" fill="#c02070" fill-opacity="0.55" stroke="#ff2a2a" stroke-width="2.1"/>
<circle cx="546.3" cy="365.8" r="1.3" fill="#6040f0" fill-opacity="0.6"/>
<circle cx="571.6" cy="356.9" r="5.4" fill="#c02070" fill-opacity="0.55" stroke="#ff2a2a" stroke-width="2.1"/>
<circle cx="571.9" cy="357.2" r="1.9" fill="#6040f0" fill-opacity="0.6"/>
<circle cx="594.5" cy="355.0" r="3.6" fill="#c02070" fill-opacity="0.55" stroke="#ff2a2a" stroke-width="2.1"/>
<circle cx="594.8" cy="355.3" r="1.3" fill="#6040f0" fill-opacity="0.6"/>
<circle cx="529.0" cy="357.5" r="4.2" fill="#c02070" fill-opacity="0.55" stroke="#ff2a2a" stroke-width="2.1"/>
<circle cx="529.3" cy="357.8" r="1.5" fill="#6040f0" fill-opacity="0.6"/>
<circle cx="493.6" cy="376.2" r="6.4" fill="#c02070" fill-opacity="0.55" stroke="#ff2a2a" stroke-width="2.1"/>
<circle cx="493.9" cy="376.5" r="2.2" fill="#6040f0" fill-opacity="0.6"/>
<circle cx="501.7" cy="377.2" r="4.8" fill="#c02070" fill-opacity="0.55" stroke="#ff2a2a" stroke-width="2.1"/>
<circle cx="502.0" cy="377.5" r="1.7" fill="#6040f0" fill-opacity="0.6"/>
<circle cx="512.8" cy="387.3" r="3.8" fill="#c02070" fill-opacity="0.55" stroke="#ff2a2a" stroke-width="2.1"/>
<circle cx="513.1" cy="387.6" r="1.3" fill="#6040f0" fill-opacity="0.6"/>
<circle cx="522.0" cy="379.2" r="4.3" fill="#c02070" fill-opacity="0.55" stroke="#ff2a2a" stroke-width="2.1"/>
<circle cx="522.3" cy="379.5" r="1.5" fill="#6040f0" fill-opacity="0.6"/>
<circle cx="524.0" cy="385.3" r="3.6" fill="#c02070" fill-opacity="0.55" stroke="#ff2a2a" stroke-width="2.1"/>
<circle cx="524.3" cy="385.6" r="1.3" fill="#6040f0" fill-opacity="0.6"/>
<circle cx="549.3" cy="377.2" r="4.3" fill="#c02070" fill-opacity="0.55" stroke="#ff2a2a" stroke-width="2.1"/>
<circle cx="549.6" cy="377.5" r="1.5" fill="#6040f0" fill-opacity="0.6"/>
<circle cx="560.5" cy="381.2" r="4.3" fill="#c02070" fill-opacity="0.55" stroke="#ff2a2a" stroke-width="2.1"/>
<circle cx="560.8" cy="381.5" r="1.5" fill="#6040f0" fill-opacity="0.6"/>
<circle cx="562.5" cy="389.3" r="4.8" fill="#c02070" fill-opacity="0.55" stroke="#ff2a2a" stroke-width="2.1"/>
<circle cx="562.8" cy="389.6" r="1.7" fill="#6040f0" fill-opacity="0.6"/>
<circle cx="567.0" cy="394.4" r="3.6" fill="#c02070" fill-opacity="0.55" stroke="#ff2a2a" stroke-width="2.1"/>
<circle cx="567.3" cy="394.7" r="1.3" fill="#6040f0" fill-opacity="0.6"/>
<circle cx="557.4" cy="395.4" r="3.6" fill="#c02070" fill-opacity="0.55" stroke="#ff2a2a" stroke-width="2.1"/>
<circle cx="557.7" cy="395.7" r="1.3" fill="#6040f0" fill-opacity="0.6"/>
<circle cx="565.0" cy="399.0" r="3.0" fill="#c02070" fill-opacity="0.55" stroke="#ff2a2a" stroke-width="2.1"/>
<circle cx="565.3" cy="399.3" r="1.0" fill="#6040f0" fill-opacity="0.6"/>
</g>
</g>
<rect x="459.6" y="299.1" width="135.9" height="135.9" fill="none" stroke="#000" stroke-width="3.0"/>
<rect x="459.6" y="299.1" width="135.9" height="135.9" fill="none" stroke="#fff" stroke-width="1.8" stroke-dasharray="4.5 2.3"/>
<text x="466.9" y="324.1" font-size="27.00" font-weight="bold" fill="#fff">F’</text>
<text x="591.0" y="409.7" font-size="12.80" text-anchor="end" font-weight="bold" fill="#ff2020">CD61</text>
<text x="591.0" y="428.0" font-size="12.80" text-anchor="end" font-weight="bold" fill="#2aa0e8">DAPI</text>
<rect x="28.0" y="793.3" width="226.8" height="215.4" fill="#000"/>
<g clip-path="url(#cK)">
<rect x="28.0" y="793.3" width="226.8" height="215.4" fill="#000" filter="url(#fT)"/>
<circle cx="159.8" cy="835.3" r="2.2" fill="#d060d8" stroke="#9030a0" stroke-width="0.7" stroke-opacity="0.7"/>
<circle cx="133.9" cy="936.2" r="1.6" fill="#f090e8" stroke="#9030a0" stroke-width="0.7" stroke-opacity="0.7"/>
<circle cx="236.1" cy="897.9" r="2.0" fill="#d060d8" stroke="#9030a0" stroke-width="0.7" stroke-opacity="0.7"/>
<circle cx="202.6" cy="872.2" r="1.8" fill="#d060d8" stroke="#9030a0" stroke-width="0.7" stroke-opacity="0.7"/>
<circle cx="82.2" cy="963.7" r="1.7" fill="#e070e0" stroke="#9030a0" stroke-width="0.7" stroke-opacity="0.7"/>
<circle cx="125.6" cy="858.8" r="1.5" fill="#f8e0f8" stroke="#9030a0" stroke-width="0.7" stroke-opacity="0.7"/>
<circle cx="169.7" cy="864.1" r="2.1" fill="#d060d8" stroke="#9030a0" stroke-width="0.7" stroke-opacity="0.7"/>
<circle cx="117.5" cy="875.0" r="1.7" fill="#f0a0f0" stroke="#9030a0" stroke-width="0.7" stroke-opacity="0.7"/>
<circle cx="196.8" cy="883.4" r="2.1" fill="#f090e8" stroke="#9030a0" stroke-width="0.7" stroke-opacity="0.7"/>
<circle cx="149.4" cy="867.7" r="1.4" fill="#c858d0" stroke="#9030a0" stroke-width="0.7" stroke-opacity="0.7"/>
<circle cx="109.6" cy="849.7" r="2.1" fill="#e070e0" stroke="#9030a0" stroke-width="0.7" stroke-opacity="0.7"/>
<circle cx="125.9" cy="853.1" r="2.0" fill="#f0a0f0" stroke="#9030a0" stroke-width="0.7" stroke-opacity="0.7"/>
<circle cx="183.3" cy="950.2" r="1.7" fill="#c858d0" stroke="#9030a0" stroke-width="0.7" stroke-opacity="0.7"/>
<circle cx="157.1" cy="829.1" r="2.1" fill="#ffc8f0" stroke="#9030a0" stroke-width="0.7" stroke-opacity="0.7"/>
<circle cx="184.7" cy="940.5" r="1.4" fill="#e070e0" stroke="#9030a0" stroke-width="0.7" stroke-opacity="0.7"/>
<circle cx="43.0" cy="917.3" r="1.8" fill="#c858d0" stroke="#9030a0" stroke-width="0.7" stroke-opacity="0.7"/>
<circle cx="55.0" cy="945.3" r="2.0" fill="#f8e0f8" stroke="#9030a0" stroke-width="0.7" stroke-opacity="0.7"/>
<circle cx="132.5" cy="930.6" r="1.9" fill="#f8e0f8" stroke="#9030a0" stroke-width="0.7" stroke-opacity="0.7"/>
<circle cx="62.0" cy="860.5" r="1.7" fill="#e070e0" stroke="#9030a0" stroke-width="0.7" stroke-opacity="0.7"/>
<circle cx="152.4" cy="941.8" r="1.7" fill="#e070e0" stroke="#9030a0" stroke-width="0.7" stroke-opacity="0.7"/>
<circle cx="71.7" cy="939.6" r="1.7" fill="#d060d8" stroke="#9030a0" stroke-width="0.7" stroke-opacity="0.7"/>
<circle cx="240.6" cy="847.2" r="1.6" fill="#e070e0" stroke="#9030a0" stroke-width="0.7" stroke-opacity="0.7"/>
<circle cx="146.9" cy="965.7" r="2.2" fill="#f090e8" stroke="#9030a0" stroke-width="0.7" stroke-opacity="0.7"/>
<circle cx="49.7" cy="934.0" r="2.1" fill="#e070e0" stroke="#9030a0" stroke-width="0.7" stroke-opacity="0.7"/>
<circle cx="31.2" cy="878.5" r="1.9" fill="#c858d0" stroke="#9030a0" stroke-width="0.7" stroke-opacity="0.7"/>
<circle cx="157.1" cy="966.5" r="1.6" fill="#d060d8" stroke="#9030a0" stroke-width="0.7" stroke-opacity="0.7"/>
<circle cx="134.9" cy="835.5" r="1.9" fill="#d060d8" stroke="#9030a0" stroke-width="0.7" stroke-opacity="0.7"/>
<circle cx="93.4" cy="939.5" r="2.1" fill="#f0a0f0" stroke="#9030a0" stroke-width="0.7" stroke-opacity="0.7"/>
<circle cx="172.8" cy="953.8" r="1.8" fill="#f090e8" stroke="#9030a0" stroke-width="0.7" stroke-opacity="0.7"/>
<circle cx="105.7" cy="873.0" r="1.8" fill="#c858d0" stroke="#9030a0" stroke-width="0.7" stroke-opacity="0.7"/>
<circle cx="73.9" cy="937.9" r="2.1" fill="#ffc8f0" stroke="#9030a0" stroke-width="0.7" stroke-opacity="0.7"/>
<circle cx="178.3" cy="911.7" r="1.5" fill="#ffc8f0" stroke="#9030a0" stroke-width="0.7" stroke-opacity="0.7"/>
<circle cx="154.1" cy="858.0" r="1.6" fill="#d060d8" stroke="#9030a0" stroke-width="0.7" stroke-opacity="0.7"/>
<circle cx="82.6" cy="887.0" r="1.8" fill="#d060d8" stroke="#9030a0" stroke-width="0.7" stroke-opacity="0.7"/>
<circle cx="198.4" cy="846.3" r="1.9" fill="#d060d8" stroke="#9030a0" stroke-width="0.7" stroke-opacity="0.7"/>
<circle cx="195.8" cy="887.8" r="1.9" fill="#d060d8" stroke="#9030a0" stroke-width="0.7" stroke-opacity="0.7"/>
<circle cx="153.4" cy="837.3" r="1.4" fill="#f0a0f0" stroke="#9030a0" stroke-width="0.7" stroke-opacity="0.7"/>
<circle cx="249.1" cy="926.5" r="2.1" fill="#e070e0" stroke="#9030a0" stroke-width="0.7" stroke-opacity="0.7"/>
<circle cx="121.4" cy="890.7" r="1.6" fill="#ffc8f0" stroke="#9030a0" stroke-width="0.7" stroke-opacity="0.7"/>
<circle cx="244.5" cy="898.3" r="2.0" fill="#c858d0" stroke="#9030a0" stroke-width="0.7" stroke-opacity="0.7"/>
<circle cx="42.0" cy="942.4" r="1.6" fill="#c858d0" stroke="#9030a0" stroke-width="0.7" stroke-opacity="0.7"/>
<circle cx="169.7" cy="890.2" r="1.8" fill="#e070e0" stroke="#9030a0" stroke-width="0.7" stroke-opacity="0.7"/>
<circle cx="61.3" cy="947.0" r="1.7" fill="#d060d8" stroke="#9030a0" stroke-width="0.7" stroke-opacity="0.7"/>
<circle cx="29.5" cy="870.2" r="1.9" fill="#ffc8f0" stroke="#9030a0" stroke-width="0.7" stroke-opacity="0.7"/>
<circle cx="49.8" cy="843.3" r="1.6" fill="#f090e8" stroke="#9030a0" stroke-width="0.7" stroke-opacity="0.7"/>
<circle cx="205.4" cy="952.5" r="1.6" fill="#f090e8" stroke="#9030a0" stroke-width="0.7" stroke-opacity="0.7"/>
<circle cx="36.6" cy="834.1" r="1.8" fill="#c858d0" stroke="#9030a0" stroke-width="0.7" stroke-opacity="0.7"/>
<circle cx="208.2" cy="940.5" r="2.1" fill="#e070e0" stroke="#9030a0" stroke-width="0.7" stroke-opacity="0.7"/>
<circle cx="233.0" cy="917.6" r="1.8" fill="#f090e8" stroke="#9030a0" stroke-width="0.7" stroke-opacity="0.7"/>
<circle cx="129.7" cy="916.2" r="2.1" fill="#ffc8f0" stroke="#9030a0" stroke-width="0.7" stroke-opacity="0.7"/>
<circle cx="41.5" cy="855.4" r="1.8" fill="#e070e0" stroke="#9030a0" stroke-width="0.7" stroke-opacity="0.7"/>
<circle cx="95.4" cy="844.0" r="2.0" fill="#f0a0f0" stroke="#9030a0" stroke-width="0.7" stroke-opacity="0.7"/>
<circle cx="176.7" cy="874.9" r="2.0" fill="#c858d0" stroke="#9030a0" stroke-width="0.7" stroke-opacity="0.7"/>
<circle cx="134.5" cy="836.5" r="1.5" fill="#f090e8" stroke="#9030a0" stroke-width="0.7" stroke-opacity="0.7"/>
<circle cx="140.4" cy="898.2" r="1.6" fill="#d060d8" stroke="#9030a0" stroke-width="0.7" stroke-opacity="0.7"/>
<circle cx="199.9" cy="956.2" r="1.6" fill="#f8e0f8" stroke="#9030a0" stroke-width="0.7" stroke-opacity="0.7"/>
<circle cx="36.7" cy="860.4" r="1.6" fill="#f8e0f8" stroke="#9030a0" stroke-width="0.7" stroke-opacity="0.7"/>
<circle cx="230.4" cy="821.0" r="1.9" fill="#c858d0" stroke="#9030a0" stroke-width="0.7" stroke-opacity="0.7"/>
<circle cx="167.9" cy="960.2" r="2.1" fill="#f0a0f0" stroke="#9030a0" stroke-width="0.7" stroke-opacity="0.7"/>
<circle cx="178.0" cy="873.3" r="2.1" fill="#e070e0" stroke="#9030a0" stroke-width="0.7" stroke-opacity="0.7"/>
<circle cx="221.3" cy="876.1" r="1.7" fill="#f090e8" stroke="#9030a0" stroke-width="0.7" stroke-opacity="0.7"/>
<circle cx="235.9" cy="833.4" r="2.0" fill="#f8e0f8" stroke="#9030a0" stroke-width="0.7" stroke-opacity="0.7"/>
<circle cx="197.1" cy="887.7" r="1.7" fill="#f8e0f8" stroke="#9030a0" stroke-width="0.7" stroke-opacity="0.7"/>
<circle cx="193.2" cy="940.7" r="1.6" fill="#f0a0f0" stroke="#9030a0" stroke-width="0.7" stroke-opacity="0.7"/>
<circle cx="178.5" cy="857.3" r="1.6" fill="#f8e0f8" stroke="#9030a0" stroke-width="0.7" stroke-opacity="0.7"/>
<circle cx="52.3" cy="945.8" r="2.0" fill="#f0a0f0" stroke="#9030a0" stroke-width="0.7" stroke-opacity="0.7"/>
<circle cx="92.9" cy="928.1" r="1.9" fill="#f090e8" stroke="#9030a0" stroke-width="0.7" stroke-opacity="0.7"/>
<circle cx="110.8" cy="896.7" r="2.0" fill="#f8e0f8" stroke="#9030a0" stroke-width="0.7" stroke-opacity="0.7"/>
<circle cx="51.0" cy="957.3" r="1.5" fill="#ffc8f0" stroke="#9030a0" stroke-width="0.7" stroke-opacity="0.7"/>
<circle cx="41.9" cy="939.1" r="1.6" fill="#d060d8" stroke="#9030a0" stroke-width="0.7" stroke-opacity="0.7"/>
<circle cx="216.3" cy="828.7" r="1.5" fill="#f8e0f8" stroke="#9030a0" stroke-width="0.7" stroke-opacity="0.7"/>
<circle cx="81.0" cy="956.1" r="2.2" fill="#ffc8f0" stroke="#9030a0" stroke-width="0.7" stroke-opacity="0.7"/>
<circle cx="195.8" cy="957.6" r="2.1" fill="#e070e0" stroke="#9030a0" stroke-width="0.7" stroke-opacity="0.7"/>
<circle cx="214.0" cy="827.4" r="1.5" fill="#c858d0" stroke="#9030a0" stroke-width="0.7" stroke-opacity="0.7"/>
<circle cx="93.2" cy="915.4" r="2.1" fill="#f090e8" stroke="#9030a0" stroke-width="0.7" stroke-opacity="0.7"/>
<circle cx="153.3" cy="950.8" r="1.5" fill="#f090e8" stroke="#9030a0" stroke-width="0.7" stroke-opacity="0.7"/>
<circle cx="39.6" cy="833.7" r="1.8" fill="#ffc8f0" stroke="#9030a0" stroke-width="0.7" stroke-opacity="0.7"/>
<circle cx="61.4" cy="901.0" r="1.6" fill="#f090e8" stroke="#9030a0" stroke-width="0.7" stroke-opacity="0.7"/>
<circle cx="70.1" cy="900.8" r="1.8" fill="#e070e0" stroke="#9030a0" stroke-width="0.7" stroke-opacity="0.7"/>
<circle cx="44.9" cy="847.3" r="1.9" fill="#e070e0" stroke="#9030a0" stroke-width="0.7" stroke-opacity="0.7"/>
<circle cx="223.9" cy="881.5" r="1.9" fill="#f090e8" stroke="#9030a0" stroke-width="0.7" stroke-opacity="0.7"/>
<circle cx="100.7" cy="959.7" r="1.9" fill="#d060d8" stroke="#9030a0" stroke-width="0.7" stroke-opacity="0.7"/>
<circle cx="115.2" cy="842.0" r="1.6" fill="#d060d8" stroke="#9030a0" stroke-width="0.7" stroke-opacity="0.7"/>
<circle cx="145.1" cy="884.3" r="2.0" fill="#c858d0" stroke="#9030a0" stroke-width="0.7" stroke-opacity="0.7"/>
<circle cx="235.9" cy="947.1" r="1.4" fill="#e070e0" stroke="#9030a0" stroke-width="0.7" stroke-opacity="0.7"/>
<circle cx="204.9" cy="832.2" r="1.6" fill="#f0a0f0" stroke="#9030a0" stroke-width="0.7" stroke-opacity="0.7"/>
<circle cx="237.9" cy="838.5" r="1.5" fill="#f0a0f0" stroke="#9030a0" stroke-width="0.7" stroke-opacity="0.7"/>
<circle cx="117.9" cy="961.3" r="1.6" fill="#ffc8f0" stroke="#9030a0" stroke-width="0.7" stroke-opacity="0.7"/>
<circle cx="57.1" cy="921.6" r="1.7" fill="#c858d0" stroke="#9030a0" stroke-width="0.7" stroke-opacity="0.7"/>
<circle cx="167.6" cy="925.7" r="1.9" fill="#f090e8" stroke="#9030a0" stroke-width="0.7" stroke-opacity="0.7"/>
<circle cx="206.9" cy="913.1" r="1.9" fill="#d060d8" stroke="#9030a0" stroke-width="0.7" stroke-opacity="0.7"/>
<circle cx="205.5" cy="830.5" r="1.4" fill="#d060d8" stroke="#9030a0" stroke-width="0.7" stroke-opacity="0.7"/>
<circle cx="254.6" cy="901.9" r="2.0" fill="#c858d0" stroke="#9030a0" stroke-width="0.7" stroke-opacity="0.7"/>
<circle cx="222.4" cy="943.4" r="1.8" fill="#f090e8" stroke="#9030a0" stroke-width="0.7" stroke-opacity="0.7"/>
<circle cx="80.5" cy="871.4" r="1.4" fill="#f0a0f0" stroke="#9030a0" stroke-width="0.7" stroke-opacity="0.7"/>
<circle cx="200.0" cy="930.2" r="1.6" fill="#f0a0f0" stroke="#9030a0" stroke-width="0.7" stroke-opacity="0.7"/>
<circle cx="100.7" cy="883.8" r="1.8" fill="#c858d0" stroke="#9030a0" stroke-width="0.7" stroke-opacity="0.7"/>
<circle cx="235.8" cy="943.2" r="1.7" fill="#e070e0" stroke="#9030a0" stroke-width="0.7" stroke-opacity="0.7"/>
<circle cx="209.6" cy="872.1" r="1.9" fill="#e070e0" stroke="#9030a0" stroke-width="0.7" stroke-opacity="0.7"/>
<circle cx="41.2" cy="963.9" r="1.8" fill="#d060d8" stroke="#9030a0" stroke-width="0.7" stroke-opacity="0.7"/>
<circle cx="78.6" cy="965.3" r="1.5" fill="#ffc8f0" stroke="#9030a0" stroke-width="0.7" stroke-opacity="0.7"/>
<circle cx="145.2" cy="854.7" r="2.0" fill="#ffc8f0" stroke="#9030a0" stroke-width="0.7" stroke-opacity="0.7"/>
<circle cx="51.3" cy="946.3" r="1.7" fill="#ffc8f0" stroke="#9030a0" stroke-width="0.7" stroke-opacity="0.7"/>
<circle cx="122.1" cy="860.8" r="1.6" fill="#ffc8f0" stroke="#9030a0" stroke-width="0.7" stroke-opacity="0.7"/>
<circle cx="180.3" cy="904.9" r="2.1" fill="#f0a0f0" stroke="#9030a0" stroke-width="0.7" stroke-opacity="0.7"/>
<circle cx="81.3" cy="864.5" r="1.5" fill="#c858d0" stroke="#9030a0" stroke-width="0.7" stroke-opacity="0.7"/>
<circle cx="150.2" cy="826.1" r="1.4" fill="#f090e8" stroke="#9030a0" stroke-width="0.7" stroke-opacity="0.7"/>
<circle cx="29.4" cy="929.5" r="1.7" fill="#f0a0f0" stroke="#9030a0" stroke-width="0.7" stroke-opacity="0.7"/>
<circle cx="214.9" cy="875.7" r="2.0" fill="#d060d8" stroke="#9030a0" stroke-width="0.7" stroke-opacity="0.7"/>
<circle cx="52.5" cy="859.4" r="1.8" fill="#c858d0" stroke="#9030a0" stroke-width="0.7" stroke-opacity="0.7"/>
<circle cx="44.8" cy="836.1" r="1.4" fill="#f0a0f0" stroke="#9030a0" stroke-width="0.7" stroke-opacity="0.7"/>
<circle cx="162.4" cy="834.1" r="1.7" fill="#f8e0f8" stroke="#9030a0" stroke-width="0.7" stroke-opacity="0.7"/>
<circle cx="223.5" cy="865.7" r="2.2" fill="#f090e8" stroke="#9030a0" stroke-width="0.7" stroke-opacity="0.7"/>
<circle cx="47.5" cy="836.3" r="1.9" fill="#c858d0" stroke="#9030a0" stroke-width="0.7" stroke-opacity="0.7"/>
<circle cx="189.2" cy="853.2" r="2.1" fill="#c858d0" stroke="#9030a0" stroke-width="0.7" stroke-opacity="0.7"/>
<circle cx="187.6" cy="868.6" r="1.9" fill="#c858d0" stroke="#9030a0" stroke-width="0.7" stroke-opacity="0.7"/>
<circle cx="66.4" cy="935.9" r="2.0" fill="#e070e0" stroke="#9030a0" stroke-width="0.7" stroke-opacity="0.7"/>
<circle cx="228.3" cy="837.3" r="1.6" fill="#e070e0" stroke="#9030a0" stroke-width="0.7" stroke-opacity="0.7"/>
<circle cx="193.5" cy="825.8" r="1.5" fill="#f8e0f8" stroke="#9030a0" stroke-width="0.7" stroke-opacity="0.7"/>
<circle cx="214.2" cy="925.3" r="2.0" fill="#f8e0f8" stroke="#9030a0" stroke-width="0.7" stroke-opacity="0.7"/>
<circle cx="175.8" cy="936.5" r="1.9" fill="#f090e8" stroke="#9030a0" stroke-width="0.7" stroke-opacity="0.7"/>
<circle cx="181.3" cy="848.1" r="1.9" fill="#f0a0f0" stroke="#9030a0" stroke-width="0.7" stroke-opacity="0.7"/>
<circle cx="188.7" cy="832.5" r="1.9" fill="#f090e8" stroke="#9030a0" stroke-width="0.7" stroke-opacity="0.7"/>
<circle cx="241.4" cy="944.7" r="1.4" fill="#f8e0f8" stroke="#9030a0" stroke-width="0.7" stroke-opacity="0.7"/>
<circle cx="192.4" cy="923.3" r="1.4" fill="#d060d8" stroke="#9030a0" stroke-width="0.7" stroke-opacity="0.7"/>
<circle cx="74.2" cy="844.5" r="1.5" fill="#e070e0" stroke="#9030a0" stroke-width="0.7" stroke-opacity="0.7"/>
<circle cx="170.8" cy="925.1" r="1.9" fill="#f0a0f0" stroke="#9030a0" stroke-width="0.7" stroke-opacity="0.7"/>
<circle cx="220.5" cy="889.7" r="2.2" fill="#f8e0f8" stroke="#9030a0" stroke-width="0.7" stroke-opacity="0.7"/>
<circle cx="186.5" cy="870.8" r="1.5" fill="#d060d8" stroke="#9030a0" stroke-width="0.7" stroke-opacity="0.7"/>
<circle cx="240.4" cy="922.7" r="2.0" fill="#f8e0f8" stroke="#9030a0" stroke-width="0.7" stroke-opacity="0.7"/>
<circle cx="36.7" cy="946.4" r="1.5" fill="#f090e8" stroke="#9030a0" stroke-width="0.7" stroke-opacity="0.7"/>
<circle cx="248.1" cy="947.6" r="1.9" fill="#f0a0f0" stroke="#9030a0" stroke-width="0.7" stroke-opacity="0.7"/>
<circle cx="171.9" cy="928.3" r="2.0" fill="#c858d0" stroke="#9030a0" stroke-width="0.7" stroke-opacity="0.7"/>
<circle cx="57.2" cy="913.2" r="1.8" fill="#c858d0" stroke="#9030a0" stroke-width="0.7" stroke-opacity="0.7"/>
<circle cx="204.3" cy="864.2" r="1.5" fill="#d060d8" stroke="#9030a0" stroke-width="0.7" stroke-opacity="0.7"/>
<circle cx="212.4" cy="917.8" r="2.0" fill="#f090e8" stroke="#9030a0" stroke-width="0.7" stroke-opacity="0.7"/>
<circle cx="170.0" cy="884.9" r="2.0" fill="#c858d0" stroke="#9030a0" stroke-width="0.7" stroke-opacity="0.7"/>
<circle cx="36.3" cy="929.3" r="1.6" fill="#f8e0f8" stroke="#9030a0" stroke-width="0.7" stroke-opacity="0.7"/>
<circle cx="205.6" cy="832.6" r="1.8" fill="#ffc8f0" stroke="#9030a0" stroke-width="0.7" stroke-opacity="0.7"/>
<circle cx="230.1" cy="855.6" r="2.0" fill="#d060d8" stroke="#9030a0" stroke-width="0.7" stroke-opacity="0.7"/>
<circle cx="108.4" cy="847.8" r="1.6" fill="#d060d8" stroke="#9030a0" stroke-width="0.7" stroke-opacity="0.7"/>
<circle cx="74.8" cy="941.0" r="2.1" fill="#ffc8f0" stroke="#9030a0" stroke-width="0.7" stroke-opacity="0.7"/>
<circle cx="68.9" cy="843.2" r="1.7" fill="#ffc8f0" stroke="#9030a0" stroke-width="0.7" stroke-opacity="0.7"/>
<circle cx="147.3" cy="961.4" r="1.8" fill="#f090e8" stroke="#9030a0" stroke-width="0.7" stroke-opacity="0.7"/>
<circle cx="210.3" cy="847.6" r="2.0" fill="#e070e0" stroke="#9030a0" stroke-width="0.7" stroke-opacity="0.7"/>
<circle cx="111.1" cy="840.2" r="1.8" fill="#e070e0" stroke="#9030a0" stroke-width="0.7" stroke-opacity="0.7"/>
<circle cx="91.5" cy="936.4" r="1.8" fill="#f8e0f8" stroke="#9030a0" stroke-width="0.7" stroke-opacity="0.7"/>
<circle cx="92.8" cy="908.6" r="1.8" fill="#f8e0f8" stroke="#9030a0" stroke-width="0.7" stroke-opacity="0.7"/>
<circle cx="153.1" cy="948.3" r="1.5" fill="#f0a0f0" stroke="#9030a0" stroke-width="0.7" stroke-opacity="0.7"/>
<circle cx="110.2" cy="959.2" r="2.0" fill="#f0a0f0" stroke="#9030a0" stroke-width="0.7" stroke-opacity="0.7"/>
<circle cx="43.3" cy="898.9" r="1.8" fill="#c858d0" stroke="#9030a0" stroke-width="0.7" stroke-opacity="0.7"/>
<circle cx="121.4" cy="835.5" r="2.1" fill="#ffc8f0" stroke="#9030a0" stroke-width="0.7" stroke-opacity="0.7"/>
<circle cx="159.2" cy="881.2" r="1.8" fill="#c858d0" stroke="#9030a0" stroke-width="0.7" stroke-opacity="0.7"/>
<circle cx="168.1" cy="866.8" r="2.2" fill="#f090e8" stroke="#9030a0" stroke-width="0.7" stroke-opacity="0.7"/>
<circle cx="121.1" cy="898.3" r="1.5" fill="#d060d8" stroke="#9030a0" stroke-width="0.7" stroke-opacity="0.7"/>
<circle cx="224.4" cy="902.8" r="2.0" fill="#e070e0" stroke="#9030a0" stroke-width="0.7" stroke-opacity="0.7"/>
<circle cx="34.0" cy="886.4" r="1.7" fill="#f8e0f8" stroke="#9030a0" stroke-width="0.7" stroke-opacity="0.7"/>
<circle cx="159.5" cy="948.0" r="2.0" fill="#f090e8" stroke="#9030a0" stroke-width="0.7" stroke-opacity="0.7"/>
<circle cx="188.9" cy="937.6" r="2.0" fill="#d060d8" stroke="#9030a0" stroke-width="0.7" stroke-opacity="0.7"/>
<circle cx="62.3" cy="965.4" r="1.8" fill="#c858d0" stroke="#9030a0" stroke-width="0.7" stroke-opacity="0.7"/>
<circle cx="223.1" cy="911.6" r="1.7" fill="#f8e0f8" stroke="#9030a0" stroke-width="0.7" stroke-opacity="0.7"/>
<circle cx="135.8" cy="847.7" r="2.1" fill="#f8e0f8" stroke="#9030a0" stroke-width="0.7" stroke-opacity="0.7"/>
<circle cx="41.9" cy="874.0" r="1.9" fill="#f8e0f8" stroke="#9030a0" stroke-width="0.7" stroke-opacity="0.7"/>
<circle cx="88.7" cy="890.7" r="2.0" fill="#f8e0f8" stroke="#9030a0" stroke-width="0.7" stroke-opacity="0.7"/>
<circle cx="111.1" cy="915.5" r="1.9" fill="#f090e8" stroke="#9030a0" stroke-width="0.7" stroke-opacity="0.7"/>
<circle cx="123.9" cy="872.3" r="1.9" fill="#c858d0" stroke="#9030a0" stroke-width="0.7" stroke-opacity="0.7"/>
<circle cx="117.2" cy="862.0" r="1.8" fill="#f8e0f8" stroke="#9030a0" stroke-width="0.7" stroke-opacity="0.7"/>
<circle cx="199.6" cy="947.6" r="1.8" fill="#e070e0" stroke="#9030a0" stroke-width="0.7" stroke-opacity="0.7"/>
<circle cx="238.1" cy="818.5" r="1.5" fill="#e070e0" stroke="#9030a0" stroke-width="0.7" stroke-opacity="0.7"/>
<circle cx="78.8" cy="841.1" r="2.0" fill="#e070e0" stroke="#9030a0" stroke-width="0.7" stroke-opacity="0.7"/>
<circle cx="29.7" cy="962.9" r="1.4" fill="#c858d0" stroke="#9030a0" stroke-width="0.7" stroke-opacity="0.7"/>
<circle cx="90.3" cy="900.1" r="2.1" fill="#d060d8" stroke="#9030a0" stroke-width="0.7" stroke-opacity="0.7"/>
<circle cx="228.5" cy="887.7" r="2.1" fill="#e070e0" stroke="#9030a0" stroke-width="0.7" stroke-opacity="0.7"/>
<circle cx="58.9" cy="908.3" r="1.4" fill="#f090e8" stroke="#9030a0" stroke-width="0.7" stroke-opacity="0.7"/>
<circle cx="218.0" cy="896.4" r="2.0" fill="#f8e0f8" stroke="#9030a0" stroke-width="0.7" stroke-opacity="0.7"/>
<circle cx="58.6" cy="907.7" r="2.0" fill="#ffc8f0" stroke="#9030a0" stroke-width="0.7" stroke-opacity="0.7"/>
<circle cx="66.6" cy="944.6" r="1.8" fill="#d060d8" stroke="#9030a0" stroke-width="0.7" stroke-opacity="0.7"/>
<circle cx="218.0" cy="961.9" r="1.7" fill="#f090e8" stroke="#9030a0" stroke-width="0.7" stroke-opacity="0.7"/>
<circle cx="67.6" cy="881.7" r="1.9" fill="#ffc8f0" stroke="#9030a0" stroke-width="0.7" stroke-opacity="0.7"/>
<circle cx="171.3" cy="896.4" r="2.1" fill="#d060d8" stroke="#9030a0" stroke-width="0.7" stroke-opacity="0.7"/>
<circle cx="227.3" cy="857.6" r="2.1" fill="#c858d0" stroke="#9030a0" stroke-width="0.7" stroke-opacity="0.7"/>
<circle cx="106.3" cy="928.9" r="1.8" fill="#ffc8f0" stroke="#9030a0" stroke-width="0.7" stroke-opacity="0.7"/>
<circle cx="148.6" cy="834.9" r="1.4" fill="#c858d0" stroke="#9030a0" stroke-width="0.7" stroke-opacity="0.7"/>
<circle cx="198.1" cy="889.3" r="1.7" fill="#f090e8" stroke="#9030a0" stroke-width="0.7" stroke-opacity="0.7"/>
<circle cx="79.6" cy="924.7" r="1.7" fill="#f090e8" stroke="#9030a0" stroke-width="0.7" stroke-opacity="0.7"/>
<circle cx="208.8" cy="921.6" r="2.0" fill="#c858d0" stroke="#9030a0" stroke-width="0.7" stroke-opacity="0.7"/>
<circle cx="78.4" cy="921.1" r="1.5" fill="#d060d8" stroke="#9030a0" stroke-width="0.7" stroke-opacity="0.7"/>
<circle cx="141.7" cy="896.2" r="2.0" fill="#f8e0f8" stroke="#9030a0" stroke-width="0.7" stroke-opacity="0.7"/>
<circle cx="70.5" cy="926.1" r="1.5" fill="#e070e0" stroke="#9030a0" stroke-width="0.7" stroke-opacity="0.7"/>
<circle cx="108.0" cy="871.2" r="1.5" fill="#f090e8" stroke="#9030a0" stroke-width="0.7" stroke-opacity="0.7"/>
<circle cx="110.0" cy="918.9" r="1.5" fill="#ffc8f0" stroke="#9030a0" stroke-width="0.7" stroke-opacity="0.7"/>
<circle cx="191.9" cy="882.4" r="1.4" fill="#c858d0" stroke="#9030a0" stroke-width="0.7" stroke-opacity="0.7"/>
<circle cx="53.1" cy="897.0" r="1.4" fill="#d060d8" stroke="#9030a0" stroke-width="0.7" stroke-opacity="0.7"/>
<circle cx="246.0" cy="954.8" r="2.0" fill="#ffc8f0" stroke="#9030a0" stroke-width="0.7" stroke-opacity="0.7"/>
<circle cx="247.4" cy="925.3" r="1.8" fill="#f8e0f8" stroke="#9030a0" stroke-width="0.7" stroke-opacity="0.7"/>
<circle cx="233.6" cy="953.9" r="1.5" fill="#ffc8f0" stroke="#9030a0" stroke-width="0.7" stroke-opacity="0.7"/>
<circle cx="67.2" cy="943.6" r="2.0" fill="#d060d8" stroke="#9030a0" stroke-width="0.7" stroke-opacity="0.7"/>
<circle cx="237.3" cy="833.6" r="1.7" fill="#f0a0f0" stroke="#9030a0" stroke-width="0.7" stroke-opacity="0.7"/>
<circle cx="51.8" cy="951.0" r="1.4" fill="#e070e0" stroke="#9030a0" stroke-width="0.7" stroke-opacity="0.7"/>
<circle cx="196.6" cy="959.8" r="2.1" fill="#f8e0f8" stroke="#9030a0" stroke-width="0.7" stroke-opacity="0.7"/>
<circle cx="178.6" cy="878.7" r="2.0" fill="#f090e8" stroke="#9030a0" stroke-width="0.7" stroke-opacity="0.7"/>
<circle cx="46.0" cy="945.2" r="1.5" fill="#f8e0f8" stroke="#9030a0" stroke-width="0.7" stroke-opacity="0.7"/>
<circle cx="83.8" cy="924.3" r="1.5" fill="#d060d8" stroke="#9030a0" stroke-width="0.7" stroke-opacity="0.7"/>
<circle cx="152.8" cy="948.0" r="2.0" fill="#f090e8" stroke="#9030a0" stroke-width="0.7" stroke-opacity="0.7"/>
<circle cx="45.9" cy="958.4" r="1.4" fill="#f8e0f8" stroke="#9030a0" stroke-width="0.7" stroke-opacity="0.7"/>
<circle cx="191.0" cy="955.9" r="1.9" fill="#ffc8f0" stroke="#9030a0" stroke-width="0.7" stroke-opacity="0.7"/>
<circle cx="84.2" cy="855.4" r="2.2" fill="#c858d0" stroke="#9030a0" stroke-width="0.7" stroke-opacity="0.7"/>
<circle cx="52.4" cy="927.6" r="1.9" fill="#ffc8f0" stroke="#9030a0" stroke-width="0.7" stroke-opacity="0.7"/>
<circle cx="87.2" cy="846.5" r="1.6" fill="#ffc8f0" stroke="#9030a0" stroke-width="0.7" stroke-opacity="0.7"/>
<circle cx="115.3" cy="913.8" r="1.9" fill="#d060d8" stroke="#9030a0" stroke-width="0.7" stroke-opacity="0.7"/>
<circle cx="78.8" cy="877.1" r="2.2" fill="#e070e0" stroke="#9030a0" stroke-width="0.7" stroke-opacity="0.7"/>
<circle cx="118.1" cy="950.0" r="1.6" fill="#c858d0" stroke="#9030a0" stroke-width="0.7" stroke-opacity="0.7"/>
<circle cx="143.5" cy="897.4" r="1.8" fill="#f8e0f8" stroke="#9030a0" stroke-width="0.7" stroke-opacity="0.7"/>
<circle cx="47.0" cy="963.4" r="1.5" fill="#f090e8" stroke="#9030a0" stroke-width="0.7" stroke-opacity="0.7"/>
<circle cx="28.5" cy="856.6" r="1.8" fill="#f090e8" stroke="#9030a0" stroke-width="0.7" stroke-opacity="0.7"/>
<circle cx="114.2" cy="960.9" r="1.7" fill="#ffc8f0" stroke="#9030a0" stroke-width="0.7" stroke-opacity="0.7"/>
<circle cx="235.5" cy="884.6" r="2.1" fill="#d060d8" stroke="#9030a0" stroke-width="0.7" stroke-opacity="0.7"/>
<circle cx="185.2" cy="893.4" r="2.2" fill="#c858d0" stroke="#9030a0" stroke-width="0.7" stroke-opacity="0.7"/>
<circle cx="59.2" cy="862.1" r="1.8" fill="#d060d8" stroke="#9030a0" stroke-width="0.7" stroke-opacity="0.7"/>
<circle cx="154.8" cy="857.3" r="1.8" fill="#f0a0f0" stroke="#9030a0" stroke-width="0.7" stroke-opacity="0.7"/>
<circle cx="110.5" cy="846.9" r="2.0" fill="#f090e8" stroke="#9030a0" stroke-width="0.7" stroke-opacity="0.7"/>
<circle cx="63.2" cy="948.3" r="1.5" fill="#c858d0" stroke="#9030a0" stroke-width="0.7" stroke-opacity="0.7"/>
<circle cx="116.9" cy="834.0" r="2.2" fill="#f8e0f8" stroke="#9030a0" stroke-width="0.7" stroke-opacity="0.7"/>
<circle cx="82.1" cy="846.2" r="1.8" fill="#ffc8f0" stroke="#9030a0" stroke-width="0.7" stroke-opacity="0.7"/>
<circle cx="231.2" cy="946.9" r="1.5" fill="#e070e0" stroke="#9030a0" stroke-width="0.7" stroke-opacity="0.7"/>
<circle cx="154.9" cy="880.8" r="2.1" fill="#f8e0f8" stroke="#9030a0" stroke-width="0.7" stroke-opacity="0.7"/>
<circle cx="64.8" cy="882.3" r="2.0" fill="#ffc8f0" stroke="#9030a0" stroke-width="0.7" stroke-opacity="0.7"/>
<circle cx="240.4" cy="853.1" r="1.9" fill="#c858d0" stroke="#9030a0" stroke-width="0.7" stroke-opacity="0.7"/>
<circle cx="238.5" cy="903.3" r="1.5" fill="#c858d0" stroke="#9030a0" stroke-width="0.7" stroke-opacity="0.7"/>
<circle cx="209.9" cy="840.5" r="2.0" fill="#d060d8" stroke="#9030a0" stroke-width="0.7" stroke-opacity="0.7"/>
<circle cx="141.0" cy="961.3" r="1.8" fill="#c858d0" stroke="#9030a0" stroke-width="0.7" stroke-opacity="0.7"/>
<circle cx="125.7" cy="868.0" r="2.2" fill="#f8e0f8" stroke="#9030a0" stroke-width="0.7" stroke-opacity="0.7"/>
<circle cx="88.9" cy="964.7" r="2.0" fill="#f8e0f8" stroke="#9030a0" stroke-width="0.7" stroke-opacity="0.7"/>
<circle cx="83.4" cy="873.5" r="1.6" fill="#f8e0f8" stroke="#9030a0" stroke-width="0.7" stroke-opacity="0.7"/>
<circle cx="101.5" cy="886.3" r="1.5" fill="#e070e0" stroke="#9030a0" stroke-width="0.7" stroke-opacity="0.7"/>
<circle cx="45.4" cy="886.5" r="1.4" fill="#f8e0f8" stroke="#9030a0" stroke-width="0.7" stroke-opacity="0.7"/>
<circle cx="183.5" cy="880.4" r="1.4" fill="#f8e0f8" stroke="#9030a0" stroke-width="0.7" stroke-opacity="0.7"/>
<circle cx="48.1" cy="851.5" r="1.5" fill="#f0a0f0" stroke="#9030a0" stroke-width="0.7" stroke-opacity="0.7"/>
<circle cx="81.4" cy="835.8" r="2.0" fill="#f0a0f0" stroke="#9030a0" stroke-width="0.7" stroke-opacity="0.7"/>
<circle cx="128.9" cy="905.3" r="2.0" fill="#d060d8" stroke="#9030a0" stroke-width="0.7" stroke-opacity="0.7"/>
<circle cx="47.2" cy="887.3" r="1.5" fill="#d060d8" stroke="#9030a0" stroke-width="0.7" stroke-opacity="0.7"/>
<circle cx="33.3" cy="922.6" r="2.0" fill="#f090e8" stroke="#9030a0" stroke-width="0.7" stroke-opacity="0.7"/>
<circle cx="131.9" cy="893.3" r="2.2" fill="#d060d8" stroke="#9030a0" stroke-width="0.7" stroke-opacity="0.7"/>
<circle cx="235.5" cy="882.7" r="1.4" fill="#f8e0f8" stroke="#9030a0" stroke-width="0.7" stroke-opacity="0.7"/>
<circle cx="108.3" cy="881.1" r="1.7" fill="#ffc8f0" stroke="#9030a0" stroke-width="0.7" stroke-opacity="0.7"/>
<circle cx="248.5" cy="949.3" r="1.7" fill="#ffc8f0" stroke="#9030a0" stroke-width="0.7" stroke-opacity="0.7"/>
<circle cx="236.8" cy="865.7" r="1.8" fill="#d060d8" stroke="#9030a0" stroke-width="0.7" stroke-opacity="0.7"/>
<circle cx="54.6" cy="867.9" r="2.2" fill="#f0a0f0" stroke="#9030a0" stroke-width="0.7" stroke-opacity="0.7"/>
<circle cx="222.8" cy="959.5" r="2.1" fill="#f090e8" stroke="#9030a0" stroke-width="0.7" stroke-opacity="0.7"/>
<circle cx="78.7" cy="895.6" r="2.1" fill="#ffc8f0" stroke="#9030a0" stroke-width="0.7" stroke-opacity="0.7"/>
<circle cx="247.3" cy="948.5" r="1.7" fill="#f0a0f0" stroke="#9030a0" stroke-width="0.7" stroke-opacity="0.7"/>
<circle cx="254.1" cy="818.0" r="1.7" fill="#f8e0f8" stroke="#9030a0" stroke-width="0.7" stroke-opacity="0.7"/>
<circle cx="204.0" cy="873.1" r="2.0" fill="#ffc8f0" stroke="#9030a0" stroke-width="0.7" stroke-opacity="0.7"/>
<circle cx="52.4" cy="964.6" r="1.4" fill="#c858d0" stroke="#9030a0" stroke-width="0.7" stroke-opacity="0.7"/>
<circle cx="79.7" cy="851.1" r="1.4" fill="#ffc8f0" stroke="#9030a0" stroke-width="0.7" stroke-opacity="0.7"/>
<circle cx="87.3" cy="834.1" r="2.0" fill="#e070e0" stroke="#9030a0" stroke-width="0.7" stroke-opacity="0.7"/>
<circle cx="153.2" cy="907.9" r="2.1" fill="#ffc8f0" stroke="#9030a0" stroke-width="0.7" stroke-opacity="0.7"/>
<circle cx="206.8" cy="839.7" r="1.5" fill="#f8e0f8" stroke="#9030a0" stroke-width="0.7" stroke-opacity="0.7"/>
<circle cx="231.8" cy="925.4" r="1.4" fill="#f8e0f8" stroke="#9030a0" stroke-width="0.7" stroke-opacity="0.7"/>
<circle cx="248.6" cy="939.6" r="1.7" fill="#f0a0f0" stroke="#9030a0" stroke-width="0.7" stroke-opacity="0.7"/>
</g>
<rect x="263.5" y="793.4" width="224.2" height="214.3" fill="#000"/>
<g clip-path="url(#cL)">
<rect x="263.5" y="793.4" width="224.2" height="214.3" fill="#000" filter="url(#fT)"/>
<circle cx="434.8" cy="931.6" r="1.7" fill="#f090e8" stroke="#9030a0" stroke-width="0.7" stroke-opacity="0.7"/>
<circle cx="307.4" cy="878.7" r="1.4" fill="#f0a0f0" stroke="#9030a0" stroke-width="0.7" stroke-opacity="0.7"/>
<circle cx="381.8" cy="836.6" r="1.8" fill="#ffc8f0" stroke="#9030a0" stroke-width="0.7" stroke-opacity="0.7"/>
<circle cx="432.7" cy="931.1" r="1.6" fill="#f0a0f0" stroke="#9030a0" stroke-width="0.7" stroke-opacity="0.7"/>
<circle cx="367.7" cy="946.7" r="2.0" fill="#e070e0" stroke="#9030a0" stroke-width="0.7" stroke-opacity="0.7"/>
<circle cx="380.6" cy="954.7" r="1.8" fill="#f8e0f8" stroke="#9030a0" stroke-width="0.7" stroke-opacity="0.7"/>
<circle cx="456.7" cy="851.5" r="1.4" fill="#f090e8" stroke="#9030a0" stroke-width="0.7" stroke-opacity="0.7"/>
<circle cx="313.0" cy="962.9" r="1.6" fill="#f090e8" stroke="#9030a0" stroke-width="0.7" stroke-opacity="0.7"/>
<circle cx="332.6" cy="932.7" r="1.6" fill="#d060d8" stroke="#9030a0" stroke-width="0.7" stroke-opacity="0.7"/>
<circle cx="338.9" cy="892.0" r="2.0" fill="#d060d8" stroke="#9030a0" stroke-width="0.7" stroke-opacity="0.7"/>
<circle cx="435.9" cy="924.8" r="2.0" fill="#f0a0f0" stroke="#9030a0" stroke-width="0.7" stroke-opacity="0.7"/>
<circle cx="380.3" cy="916.2" r="1.7" fill="#f090e8" stroke="#9030a0" stroke-width="0.7" stroke-opacity="0.7"/>
<circle cx="307.9" cy="862.9" r="1.5" fill="#c858d0" stroke="#9030a0" stroke-width="0.7" stroke-opacity="0.7"/>
<circle cx="480.9" cy="877.0" r="2.2" fill="#e070e0" stroke="#9030a0" stroke-width="0.7" stroke-opacity="0.7"/>
<circle cx="328.1" cy="951.4" r="1.6" fill="#ffc8f0" stroke="#9030a0" stroke-width="0.7" stroke-opacity="0.7"/>
<circle cx="331.3" cy="933.5" r="2.2" fill="#f090e8" stroke="#9030a0" stroke-width="0.7" stroke-opacity="0.7"/>
<circle cx="389.0" cy="935.7" r="1.8" fill="#f0a0f0" stroke="#9030a0" stroke-width="0.7" stroke-opacity="0.7"/>
<circle cx="341.3" cy="932.7" r="1.8" fill="#ffc8f0" stroke="#9030a0" stroke-width="0.7" stroke-opacity="0.7"/>
<circle cx="294.0" cy="900.5" r="1.6" fill="#f8e0f8" stroke="#9030a0" stroke-width="0.7" stroke-opacity="0.7"/>
<circle cx="277.3" cy="933.1" r="2.2" fill="#f0a0f0" stroke="#9030a0" stroke-width="0.7" stroke-opacity="0.7"/>
<circle cx="349.5" cy="872.1" r="1.8" fill="#c858d0" stroke="#9030a0" stroke-width="0.7" stroke-opacity="0.7"/>
<circle cx="441.2" cy="837.6" r="1.8" fill="#e070e0" stroke="#9030a0" stroke-width="0.7" stroke-opacity="0.7"/>
<circle cx="471.8" cy="847.9" r="1.7" fill="#f090e8" stroke="#9030a0" stroke-width="0.7" stroke-opacity="0.7"/>
<circle cx="439.6" cy="843.6" r="1.9" fill="#f0a0f0" stroke="#9030a0" stroke-width="0.7" stroke-opacity="0.7"/>
<circle cx="474.5" cy="830.4" r="1.6" fill="#f0a0f0" stroke="#9030a0" stroke-width="0.7" stroke-opacity="0.7"/>
<circle cx="402.5" cy="843.6" r="1.8" fill="#e070e0" stroke="#9030a0" stroke-width="0.7" stroke-opacity="0.7"/>
<circle cx="277.0" cy="860.5" r="1.9" fill="#c858d0" stroke="#9030a0" stroke-width="0.7" stroke-opacity="0.7"/>
<circle cx="396.9" cy="931.0" r="2.1" fill="#f0a0f0" stroke="#9030a0" stroke-width="0.7" stroke-opacity="0.7"/>
<circle cx="390.0" cy="897.9" r="1.7" fill="#f090e8" stroke="#9030a0" stroke-width="0.7" stroke-opacity="0.7"/>
<circle cx="387.1" cy="950.9" r="1.8" fill="#f0a0f0" stroke="#9030a0" stroke-width="0.7" stroke-opacity="0.7"/>
<circle cx="349.7" cy="912.4" r="1.6" fill="#f090e8" stroke="#9030a0" stroke-width="0.7" stroke-opacity="0.7"/>
<circle cx="405.9" cy="857.8" r="1.8" fill="#f8e0f8" stroke="#9030a0" stroke-width="0.7" stroke-opacity="0.7"/>
<circle cx="290.4" cy="925.0" r="2.2" fill="#d060d8" stroke="#9030a0" stroke-width="0.7" stroke-opacity="0.7"/>
<circle cx="444.4" cy="872.1" r="1.7" fill="#f0a0f0" stroke="#9030a0" stroke-width="0.7" stroke-opacity="0.7"/>
<circle cx="433.1" cy="836.4" r="1.8" fill="#d060d8" stroke="#9030a0" stroke-width="0.7" stroke-opacity="0.7"/>
<circle cx="482.6" cy="951.7" r="1.9" fill="#f090e8" stroke="#9030a0" stroke-width="0.7" stroke-opacity="0.7"/>
<circle cx="282.0" cy="873.2" r="1.6" fill="#f090e8" stroke="#9030a0" stroke-width="0.7" stroke-opacity="0.7"/>
<circle cx="445.7" cy="858.0" r="1.5" fill="#f0a0f0" stroke="#9030a0" stroke-width="0.7" stroke-opacity="0.7"/>
<circle cx="472.2" cy="949.8" r="2.1" fill="#e070e0" stroke="#9030a0" stroke-width="0.7" stroke-opacity="0.7"/>
<circle cx="435.3" cy="880.3" r="1.5" fill="#e070e0" stroke="#9030a0" stroke-width="0.7" stroke-opacity="0.7"/>
<circle cx="350.1" cy="934.6" r="1.8" fill="#c858d0" stroke="#9030a0" stroke-width="0.7" stroke-opacity="0.7"/>
<circle cx="322.7" cy="884.8" r="1.5" fill="#f090e8" stroke="#9030a0" stroke-width="0.7" stroke-opacity="0.7"/>
<circle cx="321.9" cy="954.3" r="1.9" fill="#f0a0f0" stroke="#9030a0" stroke-width="0.7" stroke-opacity="0.7"/>
<circle cx="364.7" cy="928.5" r="1.6" fill="#f090e8" stroke="#9030a0" stroke-width="0.7" stroke-opacity="0.7"/>
<circle cx="454.2" cy="927.9" r="2.1" fill="#c858d0" stroke="#9030a0" stroke-width="0.7" stroke-opacity="0.7"/>
<circle cx="267.7" cy="865.6" r="1.6" fill="#e070e0" stroke="#9030a0" stroke-width="0.7" stroke-opacity="0.7"/>
<circle cx="381.2" cy="946.9" r="1.9" fill="#d060d8" stroke="#9030a0" stroke-width="0.7" stroke-opacity="0.7"/>
<circle cx="333.0" cy="871.7" r="1.6" fill="#f8e0f8" stroke="#9030a0" stroke-width="0.7" stroke-opacity="0.7"/>
<circle cx="363.8" cy="959.5" r="1.7" fill="#f0a0f0" stroke="#9030a0" stroke-width="0.7" stroke-opacity="0.7"/>
<circle cx="449.3" cy="875.3" r="1.6" fill="#ffc8f0" stroke="#9030a0" stroke-width="0.7" stroke-opacity="0.7"/>
<circle cx="306.9" cy="953.9" r="1.7" fill="#c858d0" stroke="#9030a0" stroke-width="0.7" stroke-opacity="0.7"/>
<circle cx="442.9" cy="944.5" r="2.1" fill="#f8e0f8" stroke="#9030a0" stroke-width="0.7" stroke-opacity="0.7"/>
<circle cx="412.7" cy="831.0" r="1.4" fill="#f090e8" stroke="#9030a0" stroke-width="0.7" stroke-opacity="0.7"/>
<circle cx="357.6" cy="848.9" r="1.6" fill="#e070e0" stroke="#9030a0" stroke-width="0.7" stroke-opacity="0.7"/>
<circle cx="432.4" cy="861.1" r="1.7" fill="#d060d8" stroke="#9030a0" stroke-width="0.7" stroke-opacity="0.7"/>
<circle cx="268.5" cy="871.6" r="2.1" fill="#c858d0" stroke="#9030a0" stroke-width="0.7" stroke-opacity="0.7"/>
<circle cx="385.9" cy="968.3" r="1.6" fill="#d060d8" stroke="#9030a0" stroke-width="0.7" stroke-opacity="0.7"/>
<circle cx="451.3" cy="835.4" r="1.9" fill="#c858d0" stroke="#9030a0" stroke-width="0.7" stroke-opacity="0.7"/>
<circle cx="367.6" cy="901.5" r="1.4" fill="#f090e8" stroke="#9030a0" stroke-width="0.7" stroke-opacity="0.7"/>
<circle cx="386.4" cy="926.1" r="1.9" fill="#d060d8" stroke="#9030a0" stroke-width="0.7" stroke-opacity="0.7"/>
<circle cx="414.7" cy="850.4" r="1.4" fill="#d060d8" stroke="#9030a0" stroke-width="0.7" stroke-opacity="0.7"/>
<circle cx="463.7" cy="917.0" r="1.7" fill="#f8e0f8" stroke="#9030a0" stroke-width="0.7" stroke-opacity="0.7"/>
<circle cx="379.3" cy="920.0" r="1.8" fill="#f0a0f0" stroke="#9030a0" stroke-width="0.7" stroke-opacity="0.7"/>
<circle cx="370.2" cy="927.5" r="2.1" fill="#f090e8" stroke="#9030a0" stroke-width="0.7" stroke-opacity="0.7"/>
<circle cx="350.5" cy="852.2" r="1.8" fill="#f8e0f8" stroke="#9030a0" stroke-width="0.7" stroke-opacity="0.7"/>
<circle cx="282.3" cy="883.0" r="1.5" fill="#d060d8" stroke="#9030a0" stroke-width="0.7" stroke-opacity="0.7"/>
<circle cx="456.5" cy="868.8" r="1.8" fill="#f8e0f8" stroke="#9030a0" stroke-width="0.7" stroke-opacity="0.7"/>
<circle cx="281.0" cy="910.5" r="1.9" fill="#c858d0" stroke="#9030a0" stroke-width="0.7" stroke-opacity="0.7"/>
<circle cx="278.3" cy="980.5" r="1.6" fill="#e070e0" stroke="#9030a0" stroke-width="0.7" stroke-opacity="0.7"/>
<circle cx="436.6" cy="824.8" r="1.8" fill="#f0a0f0" stroke="#9030a0" stroke-width="0.7" stroke-opacity="0.7"/>
<circle cx="351.1" cy="912.0" r="2.2" fill="#ffc8f0" stroke="#9030a0" stroke-width="0.7" stroke-opacity="0.7"/>
<circle cx="342.4" cy="859.8" r="1.7" fill="#e070e0" stroke="#9030a0" stroke-width="0.7" stroke-opacity="0.7"/>
<circle cx="290.7" cy="917.7" r="1.9" fill="#c858d0" stroke="#9030a0" stroke-width="0.7" stroke-opacity="0.7"/>
<circle cx="473.0" cy="888.8" r="1.8" fill="#f0a0f0" stroke="#9030a0" stroke-width="0.7" stroke-opacity="0.7"/>
<circle cx="455.7" cy="887.3" r="2.2" fill="#c858d0" stroke="#9030a0" stroke-width="0.7" stroke-opacity="0.7"/>
<circle cx="318.9" cy="937.1" r="1.7" fill="#e070e0" stroke="#9030a0" stroke-width="0.7" stroke-opacity="0.7"/>
<circle cx="270.1" cy="923.8" r="1.7" fill="#f090e8" stroke="#9030a0" stroke-width="0.7" stroke-opacity="0.7"/>
<circle cx="332.7" cy="857.6" r="1.9" fill="#f0a0f0" stroke="#9030a0" stroke-width="0.7" stroke-opacity="0.7"/>
<circle cx="368.7" cy="883.8" r="2.1" fill="#d060d8" stroke="#9030a0" stroke-width="0.7" stroke-opacity="0.7"/>
<circle cx="302.0" cy="875.7" r="1.7" fill="#ffc8f0" stroke="#9030a0" stroke-width="0.7" stroke-opacity="0.7"/>
<circle cx="303.4" cy="971.5" r="2.1" fill="#f8e0f8" stroke="#9030a0" stroke-width="0.7" stroke-opacity="0.7"/>
<circle cx="340.5" cy="928.9" r="1.7" fill="#ffc8f0" stroke="#9030a0" stroke-width="0.7" stroke-opacity="0.7"/>
<circle cx="289.2" cy="915.0" r="1.5" fill="#ffc8f0" stroke="#9030a0" stroke-width="0.7" stroke-opacity="0.7"/>
<circle cx="460.6" cy="839.5" r="2.1" fill="#ffc8f0" stroke="#9030a0" stroke-width="0.7" stroke-opacity="0.7"/>
<circle cx="408.2" cy="957.1" r="1.7" fill="#f090e8" stroke="#9030a0" stroke-width="0.7" stroke-opacity="0.7"/>
<circle cx="299.6" cy="858.3" r="1.8" fill="#ffc8f0" stroke="#9030a0" stroke-width="0.7" stroke-opacity="0.7"/>
<circle cx="301.3" cy="925.1" r="1.8" fill="#f8e0f8" stroke="#9030a0" stroke-width="0.7" stroke-opacity="0.7"/>
<circle cx="293.5" cy="884.2" r="1.7" fill="#f8e0f8" stroke="#9030a0" stroke-width="0.7" stroke-opacity="0.7"/>
<circle cx="443.6" cy="936.1" r="2.2" fill="#f8e0f8" stroke="#9030a0" stroke-width="0.7" stroke-opacity="0.7"/>
<circle cx="268.4" cy="918.0" r="1.7" fill="#d060d8" stroke="#9030a0" stroke-width="0.7" stroke-opacity="0.7"/>
<circle cx="284.2" cy="953.9" r="2.1" fill="#c858d0" stroke="#9030a0" stroke-width="0.7" stroke-opacity="0.7"/>
<circle cx="451.9" cy="930.6" r="2.0" fill="#ffc8f0" stroke="#9030a0" stroke-width="0.7" stroke-opacity="0.7"/>
<circle cx="431.1" cy="954.8" r="1.8" fill="#f090e8" stroke="#9030a0" stroke-width="0.7" stroke-opacity="0.7"/>
<circle cx="363.7" cy="943.7" r="1.9" fill="#e070e0" stroke="#9030a0" stroke-width="0.7" stroke-opacity="0.7"/>
<circle cx="367.0" cy="913.6" r="1.7" fill="#d060d8" stroke="#9030a0" stroke-width="0.7" stroke-opacity="0.7"/>
<circle cx="422.9" cy="850.8" r="1.6" fill="#f090e8" stroke="#9030a0" stroke-width="0.7" stroke-opacity="0.7"/>
<circle cx="280.0" cy="924.3" r="1.9" fill="#e070e0" stroke="#9030a0" stroke-width="0.7" stroke-opacity="0.7"/>
<circle cx="475.8" cy="871.3" r="2.0" fill="#f8e0f8" stroke="#9030a0" stroke-width="0.7" stroke-opacity="0.7"/>
<circle cx="349.0" cy="978.2" r="1.5" fill="#c858d0" stroke="#9030a0" stroke-width="0.7" stroke-opacity="0.7"/>
<circle cx="436.9" cy="837.6" r="1.9" fill="#f8e0f8" stroke="#9030a0" stroke-width="0.7" stroke-opacity="0.7"/>
<circle cx="407.5" cy="928.4" r="2.0" fill="#ffc8f0" stroke="#9030a0" stroke-width="0.7" stroke-opacity="0.7"/>
<circle cx="392.6" cy="921.2" r="1.6" fill="#f8e0f8" stroke="#9030a0" stroke-width="0.7" stroke-opacity="0.7"/>
<circle cx="355.2" cy="947.7" r="2.0" fill="#f0a0f0" stroke="#9030a0" stroke-width="0.7" stroke-opacity="0.7"/>
<circle cx="385.8" cy="964.7" r="2.1" fill="#e070e0" stroke="#9030a0" stroke-width="0.7" stroke-opacity="0.7"/>
<circle cx="435.0" cy="955.1" r="1.6" fill="#ffc8f0" stroke="#9030a0" stroke-width="0.7" stroke-opacity="0.7"/>
<circle cx="298.6" cy="891.0" r="1.7" fill="#e070e0" stroke="#9030a0" stroke-width="0.7" stroke-opacity="0.7"/>
<circle cx="402.4" cy="858.3" r="2.0" fill="#ffc8f0" stroke="#9030a0" stroke-width="0.7" stroke-opacity="0.7"/>
<circle cx="412.1" cy="839.7" r="1.7" fill="#f090e8" stroke="#9030a0" stroke-width="0.7" stroke-opacity="0.7"/>
<circle cx="425.5" cy="938.4" r="2.2" fill="#e070e0" stroke="#9030a0" stroke-width="0.7" stroke-opacity="0.7"/>
<circle cx="413.9" cy="924.7" r="1.9" fill="#d060d8" stroke="#9030a0" stroke-width="0.7" stroke-opacity="0.7"/>
<circle cx="442.0" cy="947.6" r="1.6" fill="#f0a0f0" stroke="#9030a0" stroke-width="0.7" stroke-opacity="0.7"/>
<circle cx="280.3" cy="983.5" r="1.6" fill="#c858d0" stroke="#9030a0" stroke-width="0.7" stroke-opacity="0.7"/>
<circle cx="314.7" cy="976.2" r="2.0" fill="#c858d0" stroke="#9030a0" stroke-width="0.7" stroke-opacity="0.7"/>
<circle cx="305.8" cy="911.4" r="1.8" fill="#f8e0f8" stroke="#9030a0" stroke-width="0.7" stroke-opacity="0.7"/>
<circle cx="304.8" cy="967.8" r="1.5" fill="#f090e8" stroke="#9030a0" stroke-width="0.7" stroke-opacity="0.7"/>
<circle cx="395.8" cy="843.2" r="1.6" fill="#c858d0" stroke="#9030a0" stroke-width="0.7" stroke-opacity="0.7"/>
<circle cx="274.1" cy="982.9" r="2.1" fill="#e070e0" stroke="#9030a0" stroke-width="0.7" stroke-opacity="0.7"/>
<circle cx="376.7" cy="957.9" r="1.7" fill="#f090e8" stroke="#9030a0" stroke-width="0.7" stroke-opacity="0.7"/>
<circle cx="382.2" cy="896.8" r="2.0" fill="#d060d8" stroke="#9030a0" stroke-width="0.7" stroke-opacity="0.7"/>
<circle cx="277.0" cy="900.2" r="1.7" fill="#e070e0" stroke="#9030a0" stroke-width="0.7" stroke-opacity="0.7"/>
<circle cx="294.0" cy="900.7" r="2.1" fill="#f0a0f0" stroke="#9030a0" stroke-width="0.7" stroke-opacity="0.7"/>
<circle cx="430.5" cy="859.5" r="1.9" fill="#f8e0f8" stroke="#9030a0" stroke-width="0.7" stroke-opacity="0.7"/>
<circle cx="447.1" cy="940.1" r="2.1" fill="#f8e0f8" stroke="#9030a0" stroke-width="0.7" stroke-opacity="0.7"/>
<circle cx="470.2" cy="938.2" r="2.1" fill="#e070e0" stroke="#9030a0" stroke-width="0.7" stroke-opacity="0.7"/>
<circle cx="359.4" cy="854.2" r="1.8" fill="#d060d8" stroke="#9030a0" stroke-width="0.7" stroke-opacity="0.7"/>
<circle cx="468.8" cy="953.3" r="1.7" fill="#ffc8f0" stroke="#9030a0" stroke-width="0.7" stroke-opacity="0.7"/>
<circle cx="285.6" cy="920.3" r="2.2" fill="#f8e0f8" stroke="#9030a0" stroke-width="0.7" stroke-opacity="0.7"/>
<circle cx="465.8" cy="882.5" r="2.2" fill="#f0a0f0" stroke="#9030a0" stroke-width="0.7" stroke-opacity="0.7"/>
<circle cx="455.6" cy="863.3" r="1.5" fill="#c858d0" stroke="#9030a0" stroke-width="0.7" stroke-opacity="0.7"/>
<circle cx="408.7" cy="902.8" r="1.9" fill="#f8e0f8" stroke="#9030a0" stroke-width="0.7" stroke-opacity="0.7"/>
<circle cx="391.2" cy="852.4" r="1.8" fill="#f8e0f8" stroke="#9030a0" stroke-width="0.7" stroke-opacity="0.7"/>
<circle cx="311.5" cy="920.8" r="2.2" fill="#ffc8f0" stroke="#9030a0" stroke-width="0.7" stroke-opacity="0.7"/>
<circle cx="333.1" cy="922.4" r="1.4" fill="#c858d0" stroke="#9030a0" stroke-width="0.7" stroke-opacity="0.7"/>
<circle cx="404.3" cy="912.8" r="1.5" fill="#f090e8" stroke="#9030a0" stroke-width="0.7" stroke-opacity="0.7"/>
<circle cx="328.1" cy="916.0" r="1.7" fill="#f0a0f0" stroke="#9030a0" stroke-width="0.7" stroke-opacity="0.7"/>
<circle cx="362.5" cy="950.4" r="2.1" fill="#c858d0" stroke="#9030a0" stroke-width="0.7" stroke-opacity="0.7"/>
<circle cx="336.5" cy="911.5" r="2.1" fill="#e070e0" stroke="#9030a0" stroke-width="0.7" stroke-opacity="0.7"/>
<circle cx="362.7" cy="893.1" r="1.5" fill="#c858d0" stroke="#9030a0" stroke-width="0.7" stroke-opacity="0.7"/>
<circle cx="360.0" cy="843.1" r="1.9" fill="#d060d8" stroke="#9030a0" stroke-width="0.7" stroke-opacity="0.7"/>
<circle cx="327.7" cy="915.2" r="2.1" fill="#f090e8" stroke="#9030a0" stroke-width="0.7" stroke-opacity="0.7"/>
<circle cx="429.0" cy="948.7" r="1.9" fill="#c858d0" stroke="#9030a0" stroke-width="0.7" stroke-opacity="0.7"/>
<circle cx="469.5" cy="837.5" r="1.8" fill="#f8e0f8" stroke="#9030a0" stroke-width="0.7" stroke-opacity="0.7"/>
<circle cx="331.4" cy="914.3" r="1.5" fill="#e070e0" stroke="#9030a0" stroke-width="0.7" stroke-opacity="0.7"/>
<circle cx="414.6" cy="916.8" r="1.7" fill="#f090e8" stroke="#9030a0" stroke-width="0.7" stroke-opacity="0.7"/>
<circle cx="436.0" cy="835.7" r="2.0" fill="#f0a0f0" stroke="#9030a0" stroke-width="0.7" stroke-opacity="0.7"/>
<circle cx="379.3" cy="867.7" r="2.0" fill="#f8e0f8" stroke="#9030a0" stroke-width="0.7" stroke-opacity="0.7"/>
<circle cx="293.6" cy="927.3" r="1.4" fill="#d060d8" stroke="#9030a0" stroke-width="0.7" stroke-opacity="0.7"/>
<circle cx="458.3" cy="870.1" r="2.2" fill="#ffc8f0" stroke="#9030a0" stroke-width="0.7" stroke-opacity="0.7"/>
<circle cx="463.7" cy="830.2" r="2.0" fill="#e070e0" stroke="#9030a0" stroke-width="0.7" stroke-opacity="0.7"/>
<circle cx="386.8" cy="970.3" r="1.6" fill="#e070e0" stroke="#9030a0" stroke-width="0.7" stroke-opacity="0.7"/>
<circle cx="359.2" cy="910.7" r="1.4" fill="#f0a0f0" stroke="#9030a0" stroke-width="0.7" stroke-opacity="0.7"/>
<circle cx="293.1" cy="863.4" r="1.7" fill="#e070e0" stroke="#9030a0" stroke-width="0.7" stroke-opacity="0.7"/>
<circle cx="429.2" cy="952.3" r="1.5" fill="#d060d8" stroke="#9030a0" stroke-width="0.7" stroke-opacity="0.7"/>
<circle cx="369.5" cy="877.1" r="2.0" fill="#f8e0f8" stroke="#9030a0" stroke-width="0.7" stroke-opacity="0.7"/>
<circle cx="443.4" cy="911.5" r="1.8" fill="#f0a0f0" stroke="#9030a0" stroke-width="0.7" stroke-opacity="0.7"/>
<circle cx="453.8" cy="957.8" r="1.9" fill="#f090e8" stroke="#9030a0" stroke-width="0.7" stroke-opacity="0.7"/>
<circle cx="297.6" cy="897.3" r="2.1" fill="#f8e0f8" stroke="#9030a0" stroke-width="0.7" stroke-opacity="0.7"/>
<circle cx="416.0" cy="887.0" r="2.0" fill="#f8e0f8" stroke="#9030a0" stroke-width="0.7" stroke-opacity="0.7"/>
<circle cx="382.8" cy="969.0" r="2.0" fill="#ffc8f0" stroke="#9030a0" stroke-width="0.7" stroke-opacity="0.7"/>
<circle cx="479.9" cy="870.7" r="1.7" fill="#f090e8" stroke="#9030a0" stroke-width="0.7" stroke-opacity="0.7"/>
<circle cx="475.1" cy="861.9" r="2.2" fill="#ffc8f0" stroke="#9030a0" stroke-width="0.7" stroke-opacity="0.7"/>
<circle cx="423.3" cy="920.4" r="1.7" fill="#c858d0" stroke="#9030a0" stroke-width="0.7" stroke-opacity="0.7"/>
<circle cx="324.7" cy="909.9" r="1.6" fill="#d060d8" stroke="#9030a0" stroke-width="0.7" stroke-opacity="0.7"/>
<circle cx="440.5" cy="845.6" r="2.2" fill="#f8e0f8" stroke="#9030a0" stroke-width="0.7" stroke-opacity="0.7"/>
<circle cx="391.0" cy="898.3" r="1.4" fill="#e070e0" stroke="#9030a0" stroke-width="0.7" stroke-opacity="0.7"/>
<circle cx="487.4" cy="833.3" r="1.8" fill="#e070e0" stroke="#9030a0" stroke-width="0.7" stroke-opacity="0.7"/>
<circle cx="357.6" cy="970.7" r="2.0" fill="#f0a0f0" stroke="#9030a0" stroke-width="0.7" stroke-opacity="0.7"/>
<circle cx="264.4" cy="885.1" r="2.1" fill="#f090e8" stroke="#9030a0" stroke-width="0.7" stroke-opacity="0.7"/>
<circle cx="367.8" cy="845.3" r="1.6" fill="#f8e0f8" stroke="#9030a0" stroke-width="0.7" stroke-opacity="0.7"/>
<circle cx="296.7" cy="862.6" r="1.9" fill="#f8e0f8" stroke="#9030a0" stroke-width="0.7" stroke-opacity="0.7"/>
<circle cx="411.4" cy="948.4" r="1.6" fill="#c858d0" stroke="#9030a0" stroke-width="0.7" stroke-opacity="0.7"/>
<circle cx="288.3" cy="939.2" r="1.5" fill="#f0a0f0" stroke="#9030a0" stroke-width="0.7" stroke-opacity="0.7"/>
<circle cx="345.2" cy="889.2" r="1.6" fill="#f0a0f0" stroke="#9030a0" stroke-width="0.7" stroke-opacity="0.7"/>
<circle cx="265.9" cy="962.6" r="1.5" fill="#e070e0" stroke="#9030a0" stroke-width="0.7" stroke-opacity="0.7"/>
<circle cx="271.4" cy="880.5" r="1.7" fill="#d060d8" stroke="#9030a0" stroke-width="0.7" stroke-opacity="0.7"/>
<circle cx="387.3" cy="936.4" r="1.6" fill="#c858d0" stroke="#9030a0" stroke-width="0.7" stroke-opacity="0.7"/>
<circle cx="295.0" cy="856.9" r="2.1" fill="#f090e8" stroke="#9030a0" stroke-width="0.7" stroke-opacity="0.7"/>
<circle cx="466.2" cy="843.1" r="2.0" fill="#e070e0" stroke="#9030a0" stroke-width="0.7" stroke-opacity="0.7"/>
<circle cx="381.2" cy="888.5" r="1.7" fill="#c858d0" stroke="#9030a0" stroke-width="0.7" stroke-opacity="0.7"/>
<circle cx="435.3" cy="830.6" r="1.9" fill="#e070e0" stroke="#9030a0" stroke-width="0.7" stroke-opacity="0.7"/>
<circle cx="475.5" cy="858.2" r="1.7" fill="#ffc8f0" stroke="#9030a0" stroke-width="0.7" stroke-opacity="0.7"/>
<circle cx="378.8" cy="915.6" r="2.0" fill="#ffc8f0" stroke="#9030a0" stroke-width="0.7" stroke-opacity="0.7"/>
<circle cx="321.8" cy="974.9" r="1.6" fill="#d060d8" stroke="#9030a0" stroke-width="0.7" stroke-opacity="0.7"/>
<circle cx="401.4" cy="891.5" r="1.7" fill="#c858d0" stroke="#9030a0" stroke-width="0.7" stroke-opacity="0.7"/>
<circle cx="425.8" cy="892.4" r="1.9" fill="#d060d8" stroke="#9030a0" stroke-width="0.7" stroke-opacity="0.7"/>
<circle cx="351.7" cy="882.6" r="1.6" fill="#f0a0f0" stroke="#9030a0" stroke-width="0.7" stroke-opacity="0.7"/>
<circle cx="364.7" cy="910.2" r="1.7" fill="#e070e0" stroke="#9030a0" stroke-width="0.7" stroke-opacity="0.7"/>
<circle cx="373.1" cy="928.1" r="1.8" fill="#e070e0" stroke="#9030a0" stroke-width="0.7" stroke-opacity="0.7"/>
<circle cx="303.3" cy="869.9" r="1.8" fill="#c858d0" stroke="#9030a0" stroke-width="0.7" stroke-opacity="0.7"/>
<circle cx="424.3" cy="878.5" r="2.1" fill="#f090e8" stroke="#9030a0" stroke-width="0.7" stroke-opacity="0.7"/>
</g>
<rect x="495.8" y="793.4" width="225.9" height="214.3" fill="#000"/>
<g clip-path="url(#cM)">
<rect x="495.8" y="793.4" width="225.9" height="214.3" fill="#000" filter="url(#fT)"/>
<circle cx="612.4" cy="878.8" r="1.7" fill="#f8e0f8" stroke="#9030a0" stroke-width="0.7" stroke-opacity="0.7"/>
<circle cx="615.2" cy="958.8" r="1.4" fill="#f8e0f8" stroke="#9030a0" stroke-width="0.7" stroke-opacity="0.7"/>
<circle cx="523.2" cy="877.2" r="1.8" fill="#e070e0" stroke="#9030a0" stroke-width="0.7" stroke-opacity="0.7"/>
<circle cx="681.6" cy="938.0" r="1.6" fill="#e070e0" stroke="#9030a0" stroke-width="0.7" stroke-opacity="0.7"/>
<circle cx="547.6" cy="865.8" r="1.5" fill="#ffc8f0" stroke="#9030a0" stroke-width="0.7" stroke-opacity="0.7"/>
<circle cx="552.0" cy="946.1" r="1.8" fill="#d060d8" stroke="#9030a0" stroke-width="0.7" stroke-opacity="0.7"/>
<circle cx="614.5" cy="846.8" r="2.0" fill="#e070e0" stroke="#9030a0" stroke-width="0.7" stroke-opacity="0.7"/>
<circle cx="684.9" cy="868.9" r="1.9" fill="#f0a0f0" stroke="#9030a0" stroke-width="0.7" stroke-opacity="0.7"/>
<circle cx="646.0" cy="950.0" r="1.9" fill="#f090e8" stroke="#9030a0" stroke-width="0.7" stroke-opacity="0.7"/>
<circle cx="709.7" cy="930.4" r="1.6" fill="#f090e8" stroke="#9030a0" stroke-width="0.7" stroke-opacity="0.7"/>
<circle cx="713.3" cy="927.5" r="2.0" fill="#e070e0" stroke="#9030a0" stroke-width="0.7" stroke-opacity="0.7"/>
<circle cx="552.6" cy="933.3" r="1.4" fill="#f8e0f8" stroke="#9030a0" stroke-width="0.7" stroke-opacity="0.7"/>
<circle cx="580.9" cy="899.4" r="1.8" fill="#ffc8f0" stroke="#9030a0" stroke-width="0.7" stroke-opacity="0.7"/>
<circle cx="537.5" cy="917.2" r="1.5" fill="#f0a0f0" stroke="#9030a0" stroke-width="0.7" stroke-opacity="0.7"/>
<circle cx="529.7" cy="904.1" r="1.9" fill="#ffc8f0" stroke="#9030a0" stroke-width="0.7" stroke-opacity="0.7"/>
<circle cx="590.9" cy="866.3" r="1.8" fill="#c858d0" stroke="#9030a0" stroke-width="0.7" stroke-opacity="0.7"/>
<circle cx="593.6" cy="836.6" r="2.1" fill="#c858d0" stroke="#9030a0" stroke-width="0.7" stroke-opacity="0.7"/>
<circle cx="531.8" cy="861.4" r="1.8" fill="#f0a0f0" stroke="#9030a0" stroke-width="0.7" stroke-opacity="0.7"/>
<circle cx="686.1" cy="931.3" r="1.9" fill="#c858d0" stroke="#9030a0" stroke-width="0.7" stroke-opacity="0.7"/>
<circle cx="556.1" cy="919.0" r="2.0" fill="#f090e8" stroke="#9030a0" stroke-width="0.7" stroke-opacity="0.7"/>
<circle cx="571.3" cy="937.1" r="1.8" fill="#ffc8f0" stroke="#9030a0" stroke-width="0.7" stroke-opacity="0.7"/>
<circle cx="647.8" cy="848.3" r="1.8" fill="#f8e0f8" stroke="#9030a0" stroke-width="0.7" stroke-opacity="0.7"/>
<circle cx="553.7" cy="851.7" r="1.4" fill="#f0a0f0" stroke="#9030a0" stroke-width="0.7" stroke-opacity="0.7"/>
<circle cx="688.8" cy="858.0" r="1.5" fill="#d060d8" stroke="#9030a0" stroke-width="0.7" stroke-opacity="0.7"/>
<circle cx="567.5" cy="827.8" r="2.0" fill="#c858d0" stroke="#9030a0" stroke-width="0.7" stroke-opacity="0.7"/>
<circle cx="643.1" cy="901.4" r="1.7" fill="#f090e8" stroke="#9030a0" stroke-width="0.7" stroke-opacity="0.7"/>
<circle cx="657.1" cy="884.2" r="2.1" fill="#ffc8f0" stroke="#9030a0" stroke-width="0.7" stroke-opacity="0.7"/>
<circle cx="537.6" cy="916.0" r="1.7" fill="#e070e0" stroke="#9030a0" stroke-width="0.7" stroke-opacity="0.7"/>
<circle cx="506.5" cy="844.0" r="2.1" fill="#d060d8" stroke="#9030a0" stroke-width="0.7" stroke-opacity="0.7"/>
<circle cx="655.2" cy="956.6" r="2.0" fill="#f090e8" stroke="#9030a0" stroke-width="0.7" stroke-opacity="0.7"/>
<circle cx="600.5" cy="957.4" r="1.5" fill="#c858d0" stroke="#9030a0" stroke-width="0.7" stroke-opacity="0.7"/>
<circle cx="667.2" cy="890.8" r="2.1" fill="#f8e0f8" stroke="#9030a0" stroke-width="0.7" stroke-opacity="0.7"/>
<circle cx="645.7" cy="940.9" r="2.0" fill="#f090e8" stroke="#9030a0" stroke-width="0.7" stroke-opacity="0.7"/>
<circle cx="598.3" cy="915.4" r="1.7" fill="#e070e0" stroke="#9030a0" stroke-width="0.7" stroke-opacity="0.7"/>
<circle cx="667.3" cy="927.7" r="1.7" fill="#ffc8f0" stroke="#9030a0" stroke-width="0.7" stroke-opacity="0.7"/>
<circle cx="646.4" cy="847.0" r="1.9" fill="#d060d8" stroke="#9030a0" stroke-width="0.7" stroke-opacity="0.7"/>
<circle cx="641.4" cy="927.0" r="1.4" fill="#f8e0f8" stroke="#9030a0" stroke-width="0.7" stroke-opacity="0.7"/>
<circle cx="636.8" cy="927.4" r="1.6" fill="#e070e0" stroke="#9030a0" stroke-width="0.7" stroke-opacity="0.7"/>
<circle cx="704.7" cy="851.3" r="1.9" fill="#ffc8f0" stroke="#9030a0" stroke-width="0.7" stroke-opacity="0.7"/>
<circle cx="565.4" cy="883.9" r="1.7" fill="#f8e0f8" stroke="#9030a0" stroke-width="0.7" stroke-opacity="0.7"/>
<circle cx="537.8" cy="963.8" r="1.8" fill="#f8e0f8" stroke="#9030a0" stroke-width="0.7" stroke-opacity="0.7"/>
<circle cx="595.9" cy="871.3" r="1.7" fill="#f8e0f8" stroke="#9030a0" stroke-width="0.7" stroke-opacity="0.7"/>
<circle cx="569.0" cy="855.8" r="1.8" fill="#f090e8" stroke="#9030a0" stroke-width="0.7" stroke-opacity="0.7"/>
<circle cx="708.5" cy="931.0" r="1.9" fill="#f8e0f8" stroke="#9030a0" stroke-width="0.7" stroke-opacity="0.7"/>
<circle cx="690.5" cy="916.7" r="1.4" fill="#d060d8" stroke="#9030a0" stroke-width="0.7" stroke-opacity="0.7"/>
<circle cx="616.3" cy="929.0" r="1.9" fill="#f0a0f0" stroke="#9030a0" stroke-width="0.7" stroke-opacity="0.7"/>
<circle cx="501.1" cy="982.3" r="2.0" fill="#f8e0f8" stroke="#9030a0" stroke-width="0.7" stroke-opacity="0.7"/>
<circle cx="525.7" cy="902.3" r="1.9" fill="#f090e8" stroke="#9030a0" stroke-width="0.7" stroke-opacity="0.7"/>
<circle cx="503.9" cy="896.1" r="1.5" fill="#f8e0f8" stroke="#9030a0" stroke-width="0.7" stroke-opacity="0.7"/>
<circle cx="655.4" cy="884.1" r="1.9" fill="#e070e0" stroke="#9030a0" stroke-width="0.7" stroke-opacity="0.7"/>
<circle cx="650.3" cy="903.0" r="1.4" fill="#d060d8" stroke="#9030a0" stroke-width="0.7" stroke-opacity="0.7"/>
<circle cx="541.9" cy="854.7" r="1.5" fill="#ffc8f0" stroke="#9030a0" stroke-width="0.7" stroke-opacity="0.7"/>
<circle cx="604.4" cy="920.8" r="1.6" fill="#c858d0" stroke="#9030a0" stroke-width="0.7" stroke-opacity="0.7"/>
<circle cx="692.1" cy="934.8" r="1.6" fill="#d060d8" stroke="#9030a0" stroke-width="0.7" stroke-opacity="0.7"/>
<circle cx="641.7" cy="856.7" r="1.5" fill="#f090e8" stroke="#9030a0" stroke-width="0.7" stroke-opacity="0.7"/>
<circle cx="678.3" cy="913.3" r="2.0" fill="#f8e0f8" stroke="#9030a0" stroke-width="0.7" stroke-opacity="0.7"/>
<circle cx="611.2" cy="929.4" r="1.7" fill="#f0a0f0" stroke="#9030a0" stroke-width="0.7" stroke-opacity="0.7"/>
<circle cx="695.0" cy="954.6" r="1.6" fill="#e070e0" stroke="#9030a0" stroke-width="0.7" stroke-opacity="0.7"/>
<circle cx="515.3" cy="837.3" r="1.8" fill="#f8e0f8" stroke="#9030a0" stroke-width="0.7" stroke-opacity="0.7"/>
<circle cx="699.7" cy="876.3" r="1.8" fill="#ffc8f0" stroke="#9030a0" stroke-width="0.7" stroke-opacity="0.7"/>
<circle cx="673.1" cy="847.1" r="1.7" fill="#f8e0f8" stroke="#9030a0" stroke-width="0.7" stroke-opacity="0.7"/>
<circle cx="575.6" cy="926.6" r="1.7" fill="#f8e0f8" stroke="#9030a0" stroke-width="0.7" stroke-opacity="0.7"/>
<circle cx="662.3" cy="867.4" r="2.2" fill="#f8e0f8" stroke="#9030a0" stroke-width="0.7" stroke-opacity="0.7"/>
<circle cx="584.6" cy="893.9" r="1.5" fill="#f8e0f8" stroke="#9030a0" stroke-width="0.7" stroke-opacity="0.7"/>
<circle cx="579.9" cy="907.1" r="1.6" fill="#f8e0f8" stroke="#9030a0" stroke-width="0.7" stroke-opacity="0.7"/>
<circle cx="496.8" cy="893.3" r="1.5" fill="#c858d0" stroke="#9030a0" stroke-width="0.7" stroke-opacity="0.7"/>
<circle cx="661.3" cy="881.1" r="1.9" fill="#c858d0" stroke="#9030a0" stroke-width="0.7" stroke-opacity="0.7"/>
<circle cx="701.7" cy="927.9" r="1.8" fill="#f090e8" stroke="#9030a0" stroke-width="0.7" stroke-opacity="0.7"/>
<circle cx="602.5" cy="947.5" r="2.1" fill="#f8e0f8" stroke="#9030a0" stroke-width="0.7" stroke-opacity="0.7"/>
<circle cx="644.4" cy="934.6" r="1.5" fill="#d060d8" stroke="#9030a0" stroke-width="0.7" stroke-opacity="0.7"/>
<circle cx="678.2" cy="850.6" r="1.9" fill="#e070e0" stroke="#9030a0" stroke-width="0.7" stroke-opacity="0.7"/>
<circle cx="715.6" cy="888.9" r="2.1" fill="#e070e0" stroke="#9030a0" stroke-width="0.7" stroke-opacity="0.7"/>
<circle cx="678.7" cy="863.9" r="2.2" fill="#e070e0" stroke="#9030a0" stroke-width="0.7" stroke-opacity="0.7"/>
<circle cx="639.5" cy="933.4" r="1.5" fill="#ffc8f0" stroke="#9030a0" stroke-width="0.7" stroke-opacity="0.7"/>
<circle cx="714.1" cy="948.1" r="1.5" fill="#d060d8" stroke="#9030a0" stroke-width="0.7" stroke-opacity="0.7"/>
<circle cx="615.1" cy="949.8" r="1.5" fill="#f0a0f0" stroke="#9030a0" stroke-width="0.7" stroke-opacity="0.7"/>
<circle cx="623.1" cy="942.5" r="1.9" fill="#c858d0" stroke="#9030a0" stroke-width="0.7" stroke-opacity="0.7"/>
<circle cx="517.5" cy="893.2" r="1.5" fill="#f090e8" stroke="#9030a0" stroke-width="0.7" stroke-opacity="0.7"/>
<circle cx="496.0" cy="947.8" r="1.7" fill="#f0a0f0" stroke="#9030a0" stroke-width="0.7" stroke-opacity="0.7"/>
<circle cx="564.6" cy="868.7" r="2.0" fill="#c858d0" stroke="#9030a0" stroke-width="0.7" stroke-opacity="0.7"/>
<circle cx="672.6" cy="850.7" r="1.5" fill="#d060d8" stroke="#9030a0" stroke-width="0.7" stroke-opacity="0.7"/>
<circle cx="680.8" cy="949.0" r="1.8" fill="#e070e0" stroke="#9030a0" stroke-width="0.7" stroke-opacity="0.7"/>
<circle cx="498.3" cy="844.6" r="1.6" fill="#f090e8" stroke="#9030a0" stroke-width="0.7" stroke-opacity="0.7"/>
<circle cx="708.5" cy="939.3" r="1.8" fill="#f8e0f8" stroke="#9030a0" stroke-width="0.7" stroke-opacity="0.7"/>
<circle cx="512.5" cy="855.4" r="1.5" fill="#c858d0" stroke="#9030a0" stroke-width="0.7" stroke-opacity="0.7"/>
<circle cx="535.3" cy="972.7" r="2.2" fill="#d060d8" stroke="#9030a0" stroke-width="0.7" stroke-opacity="0.7"/>
<circle cx="710.0" cy="925.8" r="1.6" fill="#ffc8f0" stroke="#9030a0" stroke-width="0.7" stroke-opacity="0.7"/>
<circle cx="504.9" cy="963.6" r="1.7" fill="#d060d8" stroke="#9030a0" stroke-width="0.7" stroke-opacity="0.7"/>
<circle cx="660.1" cy="940.0" r="1.6" fill="#f090e8" stroke="#9030a0" stroke-width="0.7" stroke-opacity="0.7"/>
<circle cx="623.5" cy="881.7" r="2.0" fill="#c858d0" stroke="#9030a0" stroke-width="0.7" stroke-opacity="0.7"/>
<circle cx="613.4" cy="939.3" r="1.6" fill="#f0a0f0" stroke="#9030a0" stroke-width="0.7" stroke-opacity="0.7"/>
<circle cx="681.3" cy="868.9" r="1.4" fill="#f090e8" stroke="#9030a0" stroke-width="0.7" stroke-opacity="0.7"/>
<circle cx="601.1" cy="842.6" r="1.5" fill="#d060d8" stroke="#9030a0" stroke-width="0.7" stroke-opacity="0.7"/>
<circle cx="611.1" cy="895.7" r="2.2" fill="#f8e0f8" stroke="#9030a0" stroke-width="0.7" stroke-opacity="0.7"/>
<circle cx="531.7" cy="841.4" r="1.5" fill="#f090e8" stroke="#9030a0" stroke-width="0.7" stroke-opacity="0.7"/>
<circle cx="543.7" cy="829.0" r="1.9" fill="#f0a0f0" stroke="#9030a0" stroke-width="0.7" stroke-opacity="0.7"/>
<circle cx="611.5" cy="860.5" r="2.0" fill="#d060d8" stroke="#9030a0" stroke-width="0.7" stroke-opacity="0.7"/>
<circle cx="573.3" cy="935.4" r="2.1" fill="#f0a0f0" stroke="#9030a0" stroke-width="0.7" stroke-opacity="0.7"/>
<circle cx="536.8" cy="840.8" r="2.2" fill="#c858d0" stroke="#9030a0" stroke-width="0.7" stroke-opacity="0.7"/>
<circle cx="532.4" cy="864.6" r="2.1" fill="#f090e8" stroke="#9030a0" stroke-width="0.7" stroke-opacity="0.7"/>
<circle cx="651.5" cy="957.7" r="2.1" fill="#f090e8" stroke="#9030a0" stroke-width="0.7" stroke-opacity="0.7"/>
<circle cx="549.8" cy="916.6" r="2.0" fill="#c858d0" stroke="#9030a0" stroke-width="0.7" stroke-opacity="0.7"/>
<circle cx="605.8" cy="882.3" r="1.8" fill="#f090e8" stroke="#9030a0" stroke-width="0.7" stroke-opacity="0.7"/>
<circle cx="498.0" cy="964.0" r="1.6" fill="#e070e0" stroke="#9030a0" stroke-width="0.7" stroke-opacity="0.7"/>
<circle cx="641.0" cy="924.5" r="2.1" fill="#f0a0f0" stroke="#9030a0" stroke-width="0.7" stroke-opacity="0.7"/>
<circle cx="698.5" cy="856.6" r="1.7" fill="#c858d0" stroke="#9030a0" stroke-width="0.7" stroke-opacity="0.7"/>
<circle cx="537.9" cy="845.0" r="1.5" fill="#f8e0f8" stroke="#9030a0" stroke-width="0.7" stroke-opacity="0.7"/>
<circle cx="580.6" cy="931.3" r="1.7" fill="#c858d0" stroke="#9030a0" stroke-width="0.7" stroke-opacity="0.7"/>
<circle cx="620.3" cy="951.6" r="1.5" fill="#f090e8" stroke="#9030a0" stroke-width="0.7" stroke-opacity="0.7"/>
<circle cx="663.4" cy="930.5" r="2.0" fill="#c858d0" stroke="#9030a0" stroke-width="0.7" stroke-opacity="0.7"/>
<circle cx="657.6" cy="839.9" r="1.5" fill="#f8e0f8" stroke="#9030a0" stroke-width="0.7" stroke-opacity="0.7"/>
<circle cx="675.9" cy="875.8" r="2.2" fill="#d060d8" stroke="#9030a0" stroke-width="0.7" stroke-opacity="0.7"/>
<circle cx="536.7" cy="923.9" r="1.7" fill="#f8e0f8" stroke="#9030a0" stroke-width="0.7" stroke-opacity="0.7"/>
<circle cx="572.9" cy="849.5" r="2.0" fill="#f090e8" stroke="#9030a0" stroke-width="0.7" stroke-opacity="0.7"/>
<circle cx="712.6" cy="921.0" r="1.7" fill="#ffc8f0" stroke="#9030a0" stroke-width="0.7" stroke-opacity="0.7"/>
<circle cx="708.7" cy="895.2" r="1.4" fill="#f0a0f0" stroke="#9030a0" stroke-width="0.7" stroke-opacity="0.7"/>
<circle cx="684.1" cy="864.1" r="1.4" fill="#f090e8" stroke="#9030a0" stroke-width="0.7" stroke-opacity="0.7"/>
<circle cx="568.2" cy="914.3" r="1.8" fill="#e070e0" stroke="#9030a0" stroke-width="0.7" stroke-opacity="0.7"/>
<circle cx="670.9" cy="852.6" r="2.0" fill="#ffc8f0" stroke="#9030a0" stroke-width="0.7" stroke-opacity="0.7"/>
<circle cx="659.7" cy="882.9" r="1.8" fill="#ffc8f0" stroke="#9030a0" stroke-width="0.7" stroke-opacity="0.7"/>
<circle cx="686.1" cy="955.3" r="1.7" fill="#f0a0f0" stroke="#9030a0" stroke-width="0.7" stroke-opacity="0.7"/>
<circle cx="694.7" cy="864.1" r="1.6" fill="#f8e0f8" stroke="#9030a0" stroke-width="0.7" stroke-opacity="0.7"/>
<circle cx="702.6" cy="931.8" r="2.0" fill="#ffc8f0" stroke="#9030a0" stroke-width="0.7" stroke-opacity="0.7"/>
<circle cx="634.7" cy="952.7" r="1.4" fill="#f8e0f8" stroke="#9030a0" stroke-width="0.7" stroke-opacity="0.7"/>
<circle cx="581.8" cy="956.3" r="2.1" fill="#f8e0f8" stroke="#9030a0" stroke-width="0.7" stroke-opacity="0.7"/>
<circle cx="681.1" cy="885.1" r="1.6" fill="#f090e8" stroke="#9030a0" stroke-width="0.7" stroke-opacity="0.7"/>
<circle cx="569.5" cy="887.3" r="1.9" fill="#d060d8" stroke="#9030a0" stroke-width="0.7" stroke-opacity="0.7"/>
<circle cx="602.1" cy="902.0" r="1.6" fill="#f0a0f0" stroke="#9030a0" stroke-width="0.7" stroke-opacity="0.7"/>
<circle cx="633.2" cy="876.5" r="1.9" fill="#c858d0" stroke="#9030a0" stroke-width="0.7" stroke-opacity="0.7"/>
<circle cx="643.6" cy="872.4" r="1.5" fill="#d060d8" stroke="#9030a0" stroke-width="0.7" stroke-opacity="0.7"/>
</g>
<g clip-path="url(#cM)">
<g filter="url(#soft)" opacity="0.55"><ellipse cx="518" cy="915" rx="22" ry="38" fill="#000018"/></g>
<circle cx="518.8" cy="940.2" r="1.0" fill="#000" fill-opacity="0.59"/>
<circle cx="515.9" cy="893.6" r="0.7" fill="#000" fill-opacity="0.90"/>
<circle cx="504.7" cy="913.3" r="0.9" fill="#000" fill-opacity="0.82"/>
<circle cx="519.8" cy="911.6" r="0.9" fill="#000" fill-opacity="0.66"/>
<circle cx="517.4" cy="960.3" r="0.8" fill="#000" fill-opacity="0.52"/>
<circle cx="532.3" cy="903.5" r="0.7" fill="#000" fill-opacity="0.55"/>
<circle cx="524.2" cy="903.6" r="0.6" fill="#000" fill-opacity="0.77"/>
<circle cx="522.6" cy="931.3" r="1.0" fill="#000" fill-opacity="0.61"/>
<circle cx="531.8" cy="918.3" r="0.9" fill="#000" fill-opacity="0.56"/>
<circle cx="509.5" cy="905.9" r="0.5" fill="#000" fill-opacity="0.64"/>
<circle cx="518.3" cy="933.9" r="1.0" fill="#000" fill-opacity="0.51"/>
<circle cx="502.4" cy="903.4" r="0.7" fill="#000" fill-opacity="0.61"/>
<circle cx="505.2" cy="890.1" r="0.5" fill="#000" fill-opacity="0.70"/>
<circle cx="522.4" cy="896.3" r="0.6" fill="#000" fill-opacity="0.56"/>
<circle cx="524.3" cy="886.9" r="0.6" fill="#000" fill-opacity="0.52"/>
<circle cx="529.2" cy="912.3" r="0.7" fill="#000" fill-opacity="0.82"/>
<circle cx="500.1" cy="973.2" r="0.8" fill="#000" fill-opacity="0.62"/>
<circle cx="535.7" cy="923.1" r="0.6" fill="#000" fill-opacity="0.61"/>
<circle cx="502.3" cy="919.6" r="1.1" fill="#000" fill-opacity="0.74"/>
<circle cx="519.0" cy="897.3" r="1.0" fill="#000" fill-opacity="0.80"/>
<circle cx="529.8" cy="934.3" r="0.5" fill="#000" fill-opacity="0.51"/>
<circle cx="510.2" cy="866.8" r="0.8" fill="#000" fill-opacity="0.79"/>
<circle cx="511.2" cy="940.7" r="1.0" fill="#000" fill-opacity="0.73"/>
<circle cx="510.6" cy="878.6" r="0.9" fill="#000" fill-opacity="0.55"/>
<circle cx="504.0" cy="915.4" r="0.7" fill="#000" fill-opacity="0.61"/>
<circle cx="513.6" cy="925.7" r="0.6" fill="#000" fill-opacity="0.61"/>
<circle cx="503.8" cy="926.0" r="0.7" fill="#000" fill-opacity="0.70"/>
<circle cx="519.9" cy="949.6" r="0.6" fill="#000" fill-opacity="0.80"/>
<circle cx="525.9" cy="940.8" r="0.6" fill="#000" fill-opacity="0.76"/>
<circle cx="505.6" cy="893.9" r="0.8" fill="#000" fill-opacity="0.61"/>
<circle cx="515.7" cy="947.9" r="1.0" fill="#000" fill-opacity="0.74"/>
<circle cx="537.7" cy="922.1" r="0.5" fill="#000" fill-opacity="0.55"/>
<circle cx="529.2" cy="905.7" r="0.6" fill="#000" fill-opacity="0.68"/>
<circle cx="500.5" cy="899.3" r="0.6" fill="#000" fill-opacity="0.89"/>
<circle cx="510.7" cy="878.6" r="0.7" fill="#000" fill-opacity="0.81"/>
<circle cx="517.3" cy="876.4" r="0.8" fill="#000" fill-opacity="0.64"/>
<circle cx="514.7" cy="946.5" r="1.0" fill="#000" fill-opacity="0.63"/>
<circle cx="539.0" cy="927.0" r="0.8" fill="#000" fill-opacity="0.78"/>
<circle cx="514.9" cy="952.2" r="0.6" fill="#000" fill-opacity="0.86"/>
<circle cx="492.0" cy="933.0" r="0.6" fill="#000" fill-opacity="0.74"/>
<circle cx="519.8" cy="964.2" r="0.9" fill="#000" fill-opacity="0.74"/>
<circle cx="515.4" cy="910.7" r="0.6" fill="#000" fill-opacity="0.57"/>
<circle cx="507.7" cy="934.0" r="1.0" fill="#000" fill-opacity="0.53"/>
<circle cx="526.9" cy="947.3" r="0.7" fill="#000" fill-opacity="0.74"/>
<circle cx="512.8" cy="917.0" r="0.9" fill="#000" fill-opacity="0.50"/>
<circle cx="504.2" cy="902.5" r="0.9" fill="#000" fill-opacity="0.64"/>
<circle cx="540.9" cy="903.8" r="0.9" fill="#000" fill-opacity="0.79"/>
<circle cx="534.1" cy="892.6" r="0.7" fill="#000" fill-opacity="0.81"/>
<circle cx="521.9" cy="926.9" r="0.6" fill="#000" fill-opacity="0.66"/>
<circle cx="493.8" cy="952.6" r="1.0" fill="#000" fill-opacity="0.55"/>
<circle cx="488.9" cy="954.0" r="0.8" fill="#000" fill-opacity="0.69"/>
<circle cx="523.9" cy="906.2" r="0.7" fill="#000" fill-opacity="0.77"/>
<circle cx="507.1" cy="904.7" r="0.8" fill="#000" fill-opacity="0.85"/>
<circle cx="525.1" cy="908.9" r="0.8" fill="#000" fill-opacity="0.55"/>
<circle cx="489.5" cy="892.9" r="1.1" fill="#000" fill-opacity="0.90"/>
<circle cx="536.3" cy="950.9" r="0.5" fill="#000" fill-opacity="0.57"/>
<circle cx="524.1" cy="922.9" r="1.0" fill="#000" fill-opacity="0.89"/>
<circle cx="521.9" cy="920.5" r="0.6" fill="#000" fill-opacity="0.72"/>
<circle cx="522.1" cy="918.9" r="0.6" fill="#000" fill-opacity="0.62"/>
<circle cx="516.7" cy="926.2" r="0.9" fill="#000" fill-opacity="0.85"/>
<circle cx="520.5" cy="940.4" r="0.6" fill="#000" fill-opacity="0.63"/>
<circle cx="500.6" cy="880.9" r="1.0" fill="#000" fill-opacity="0.55"/>
<circle cx="516.3" cy="941.3" r="0.8" fill="#000" fill-opacity="0.72"/>
<circle cx="526.1" cy="915.4" r="0.7" fill="#000" fill-opacity="0.73"/>
<circle cx="507.9" cy="929.3" r="0.8" fill="#000" fill-opacity="0.80"/>
<circle cx="526.0" cy="895.2" r="1.0" fill="#000" fill-opacity="0.58"/>
<circle cx="513.1" cy="876.7" r="0.6" fill="#000" fill-opacity="0.82"/>
<circle cx="494.3" cy="933.7" r="0.9" fill="#000" fill-opacity="0.90"/>
<circle cx="513.7" cy="864.0" r="0.6" fill="#000" fill-opacity="0.61"/>
<circle cx="512.5" cy="910.8" r="1.0" fill="#000" fill-opacity="0.75"/>
<circle cx="522.4" cy="892.4" r="0.7" fill="#000" fill-opacity="0.65"/>
<circle cx="495.9" cy="920.0" r="0.7" fill="#000" fill-opacity="0.52"/>
<circle cx="523.0" cy="965.4" r="0.5" fill="#000" fill-opacity="0.78"/>
<circle cx="493.7" cy="901.1" r="0.8" fill="#000" fill-opacity="0.57"/>
<circle cx="499.4" cy="943.6" r="1.0" fill="#000" fill-opacity="0.55"/>
<circle cx="497.8" cy="909.0" r="0.9" fill="#000" fill-opacity="0.67"/>
<circle cx="510.8" cy="895.8" r="0.6" fill="#000" fill-opacity="0.74"/>
<circle cx="524.3" cy="923.8" r="1.0" fill="#000" fill-opacity="0.66"/>
<circle cx="526.0" cy="888.0" r="1.1" fill="#000" fill-opacity="0.84"/>
<circle cx="533.5" cy="883.1" r="0.7" fill="#000" fill-opacity="0.67"/>
<circle cx="523.4" cy="869.6" r="0.8" fill="#000" fill-opacity="0.69"/>
<circle cx="546.2" cy="921.8" r="0.6" fill="#000" fill-opacity="0.76"/>
<circle cx="492.8" cy="964.5" r="0.9" fill="#000" fill-opacity="0.61"/>
<circle cx="512.9" cy="927.0" r="0.7" fill="#000" fill-opacity="0.76"/>
<circle cx="531.3" cy="935.0" r="1.1" fill="#000" fill-opacity="0.88"/>
<circle cx="522.6" cy="903.2" r="1.1" fill="#000" fill-opacity="0.85"/>
<circle cx="518.4" cy="904.5" r="1.0" fill="#000" fill-opacity="0.81"/>
<circle cx="532.6" cy="872.4" r="0.8" fill="#000" fill-opacity="0.68"/>
<circle cx="495.5" cy="904.1" r="0.6" fill="#000" fill-opacity="0.79"/>
<circle cx="503.8" cy="915.3" r="1.0" fill="#000" fill-opacity="0.83"/>
<circle cx="520.4" cy="948.6" r="0.6" fill="#000" fill-opacity="0.81"/>
<circle cx="509.6" cy="902.9" r="0.9" fill="#000" fill-opacity="0.73"/>
<circle cx="499.8" cy="913.5" r="0.6" fill="#000" fill-opacity="0.86"/>
<circle cx="495.4" cy="925.8" r="0.8" fill="#000" fill-opacity="0.51"/>
<circle cx="483.6" cy="906.8" r="1.0" fill="#000" fill-opacity="0.63"/>
<circle cx="509.0" cy="872.4" r="0.7" fill="#000" fill-opacity="0.87"/>
<circle cx="520.0" cy="956.1" r="0.7" fill="#000" fill-opacity="0.84"/>
<circle cx="509.8" cy="929.3" r="0.7" fill="#000" fill-opacity="0.86"/>
<circle cx="504.3" cy="941.6" r="0.8" fill="#000" fill-opacity="0.79"/>
<circle cx="516.2" cy="903.7" r="1.1" fill="#000" fill-opacity="0.77"/>
<circle cx="529.0" cy="892.9" r="0.6" fill="#000" fill-opacity="0.54"/>
<circle cx="503.9" cy="875.0" r="0.8" fill="#000" fill-opacity="0.65"/>
<circle cx="515.4" cy="895.2" r="1.0" fill="#000" fill-opacity="0.73"/>
<circle cx="488.8" cy="952.5" r="1.0" fill="#000" fill-opacity="0.83"/>
<circle cx="495.6" cy="908.1" r="0.6" fill="#000" fill-opacity="0.68"/>
<circle cx="526.8" cy="890.9" r="1.0" fill="#000" fill-opacity="0.51"/>
<circle cx="483.2" cy="926.1" r="0.8" fill="#000" fill-opacity="0.85"/>
<circle cx="512.9" cy="919.6" r="1.0" fill="#000" fill-opacity="0.59"/>
<circle cx="516.1" cy="901.7" r="0.7" fill="#000" fill-opacity="0.61"/>
<circle cx="514.6" cy="876.4" r="0.8" fill="#000" fill-opacity="0.67"/>
<circle cx="519.3" cy="917.7" r="0.7" fill="#000" fill-opacity="0.56"/>
<circle cx="497.5" cy="895.2" r="0.5" fill="#000" fill-opacity="0.69"/>
<circle cx="509.8" cy="931.4" r="0.5" fill="#000" fill-opacity="0.77"/>
<circle cx="523.4" cy="933.6" r="0.9" fill="#000" fill-opacity="0.61"/>
<circle cx="535.1" cy="959.9" r="0.7" fill="#000" fill-opacity="0.59"/>
<circle cx="528.6" cy="918.0" r="0.7" fill="#000" fill-opacity="0.66"/>
<circle cx="538.7" cy="935.6" r="1.1" fill="#000" fill-opacity="0.80"/>
<circle cx="514.4" cy="921.9" r="1.1" fill="#000" fill-opacity="0.73"/>
<circle cx="510.3" cy="891.7" r="1.0" fill="#000" fill-opacity="0.71"/>
<circle cx="530.5" cy="950.2" r="0.7" fill="#000" fill-opacity="0.64"/>
<circle cx="534.2" cy="858.0" r="1.0" fill="#000" fill-opacity="0.84"/>
<circle cx="527.3" cy="929.8" r="1.1" fill="#000" fill-opacity="0.70"/>
<circle cx="511.1" cy="934.1" r="0.7" fill="#000" fill-opacity="0.74"/>
<circle cx="505.8" cy="857.8" r="0.6" fill="#000" fill-opacity="0.64"/>
<circle cx="508.5" cy="916.2" r="0.6" fill="#000" fill-opacity="0.66"/>
<circle cx="506.2" cy="913.8" r="1.0" fill="#000" fill-opacity="0.73"/>
<circle cx="524.6" cy="925.5" r="1.0" fill="#000" fill-opacity="0.66"/>
<circle cx="531.5" cy="900.7" r="1.1" fill="#000" fill-opacity="0.80"/>
<circle cx="472.5" cy="892.5" r="0.7" fill="#000" fill-opacity="0.71"/>
<circle cx="492.8" cy="887.5" r="0.8" fill="#000" fill-opacity="0.71"/>
<circle cx="533.1" cy="891.2" r="0.7" fill="#000" fill-opacity="0.72"/>
<circle cx="497.7" cy="888.7" r="0.6" fill="#000" fill-opacity="0.88"/>
<circle cx="510.6" cy="920.3" r="1.0" fill="#000" fill-opacity="0.55"/>
<circle cx="521.0" cy="912.7" r="1.0" fill="#000" fill-opacity="0.68"/>
<circle cx="536.8" cy="956.1" r="0.8" fill="#000" fill-opacity="0.60"/>
<circle cx="511.5" cy="861.9" r="0.7" fill="#000" fill-opacity="0.89"/>
<circle cx="511.8" cy="929.5" r="1.0" fill="#000" fill-opacity="0.62"/>
<circle cx="541.0" cy="950.5" r="1.1" fill="#000" fill-opacity="0.54"/>
<circle cx="512.2" cy="916.6" r="0.9" fill="#000" fill-opacity="0.59"/>
<circle cx="497.0" cy="899.6" r="0.6" fill="#000" fill-opacity="0.53"/>
<circle cx="507.0" cy="945.3" r="0.6" fill="#000" fill-opacity="0.68"/>
<circle cx="485.7" cy="897.1" r="0.7" fill="#000" fill-opacity="0.85"/>
<circle cx="507.1" cy="897.7" r="0.5" fill="#000" fill-opacity="0.80"/>
<circle cx="516.9" cy="842.0" r="1.1" fill="#000" fill-opacity="0.62"/>
<circle cx="513.7" cy="941.5" r="0.8" fill="#000" fill-opacity="0.53"/>
<circle cx="533.2" cy="919.0" r="0.8" fill="#000" fill-opacity="0.68"/>
<circle cx="487.8" cy="894.6" r="0.8" fill="#000" fill-opacity="0.77"/>
<circle cx="518.8" cy="914.3" r="1.0" fill="#000" fill-opacity="0.81"/>
<circle cx="508.5" cy="892.2" r="1.1" fill="#000" fill-opacity="0.78"/>
<circle cx="539.1" cy="907.9" r="0.8" fill="#000" fill-opacity="0.55"/>
<circle cx="496.4" cy="834.9" r="0.7" fill="#000" fill-opacity="0.83"/>
<circle cx="517.6" cy="931.4" r="1.0" fill="#000" fill-opacity="0.75"/>
<circle cx="514.1" cy="916.3" r="0.7" fill="#000" fill-opacity="0.88"/>
<circle cx="513.4" cy="938.4" r="0.8" fill="#000" fill-opacity="0.80"/>
<circle cx="481.6" cy="935.5" r="1.0" fill="#000" fill-opacity="0.53"/>
<circle cx="521.6" cy="914.8" r="0.6" fill="#000" fill-opacity="0.64"/>
<circle cx="515.3" cy="926.4" r="0.8" fill="#000" fill-opacity="0.53"/>
<circle cx="518.2" cy="917.9" r="0.7" fill="#000" fill-opacity="0.61"/>
<circle cx="509.7" cy="912.6" r="0.6" fill="#000" fill-opacity="0.81"/>
<circle cx="508.5" cy="918.3" r="0.9" fill="#000" fill-opacity="0.84"/>
<circle cx="497.0" cy="877.7" r="0.8" fill="#000" fill-opacity="0.62"/>
<circle cx="529.4" cy="966.5" r="0.9" fill="#000" fill-opacity="0.67"/>
<circle cx="534.0" cy="886.8" r="0.8" fill="#000" fill-opacity="0.85"/>
<circle cx="508.6" cy="930.5" r="1.0" fill="#000" fill-opacity="0.50"/>
<circle cx="506.2" cy="895.6" r="1.1" fill="#000" fill-opacity="0.67"/>
<circle cx="500.1" cy="870.8" r="0.8" fill="#000" fill-opacity="0.86"/>
<circle cx="507.1" cy="922.0" r="0.9" fill="#000" fill-opacity="0.79"/>
<circle cx="520.8" cy="892.0" r="1.0" fill="#000" fill-opacity="0.51"/>
<circle cx="500.7" cy="894.8" r="1.1" fill="#000" fill-opacity="0.87"/>
<circle cx="521.6" cy="949.0" r="0.8" fill="#000" fill-opacity="0.51"/>
<circle cx="522.1" cy="930.8" r="0.9" fill="#000" fill-opacity="0.74"/>
<circle cx="515.4" cy="904.9" r="0.6" fill="#000" fill-opacity="0.53"/>
<circle cx="492.0" cy="956.4" r="0.6" fill="#000" fill-opacity="0.52"/>
<circle cx="532.2" cy="891.2" r="0.6" fill="#000" fill-opacity="0.63"/>
<circle cx="521.0" cy="922.8" r="0.6" fill="#000" fill-opacity="0.86"/>
<circle cx="527.9" cy="951.6" r="0.6" fill="#000" fill-opacity="0.57"/>
<circle cx="506.4" cy="927.0" r="0.6" fill="#000" fill-opacity="0.59"/>
<circle cx="545.5" cy="924.5" r="1.1" fill="#000" fill-opacity="0.66"/>
<circle cx="476.4" cy="928.9" r="1.0" fill="#000" fill-opacity="0.64"/>
<circle cx="510.0" cy="909.5" r="1.1" fill="#000" fill-opacity="0.84"/>
<circle cx="528.5" cy="906.4" r="0.5" fill="#000" fill-opacity="0.87"/>
<circle cx="495.0" cy="911.6" r="0.5" fill="#000" fill-opacity="0.90"/>
<circle cx="531.0" cy="913.1" r="1.0" fill="#000" fill-opacity="0.84"/>
<circle cx="535.5" cy="952.5" r="0.7" fill="#000" fill-opacity="0.72"/>
<circle cx="532.6" cy="928.0" r="0.9" fill="#000" fill-opacity="0.74"/>
<circle cx="515.8" cy="891.1" r="1.1" fill="#000" fill-opacity="0.84"/>
<circle cx="503.0" cy="956.5" r="0.7" fill="#000" fill-opacity="0.57"/>
<circle cx="538.2" cy="939.7" r="1.0" fill="#000" fill-opacity="0.75"/>
<circle cx="515.4" cy="922.5" r="0.7" fill="#000" fill-opacity="0.82"/>
<circle cx="503.1" cy="895.4" r="0.7" fill="#000" fill-opacity="0.80"/>
<circle cx="534.4" cy="980.5" r="0.7" fill="#000" fill-opacity="0.57"/>
<circle cx="496.9" cy="914.4" r="0.6" fill="#000" fill-opacity="0.71"/>
<circle cx="509.7" cy="882.1" r="0.9" fill="#000" fill-opacity="0.54"/>
<circle cx="533.2" cy="921.0" r="0.6" fill="#000" fill-opacity="0.71"/>
<circle cx="523.1" cy="889.0" r="0.7" fill="#000" fill-opacity="0.70"/>
<circle cx="529.6" cy="919.6" r="0.7" fill="#000" fill-opacity="0.76"/>
<circle cx="533.5" cy="944.2" r="1.0" fill="#000" fill-opacity="0.79"/>
<circle cx="530.7" cy="947.1" r="0.8" fill="#000" fill-opacity="0.85"/>
<circle cx="508.9" cy="915.5" r="0.9" fill="#000" fill-opacity="0.51"/>
<circle cx="535.9" cy="935.8" r="0.6" fill="#000" fill-opacity="0.58"/>
<circle cx="527.5" cy="905.3" r="0.7" fill="#000" fill-opacity="0.64"/>
<circle cx="516.8" cy="897.1" r="0.9" fill="#000" fill-opacity="0.69"/>
<circle cx="501.1" cy="909.2" r="1.1" fill="#000" fill-opacity="0.69"/>
<circle cx="548.1" cy="952.4" r="0.5" fill="#000" fill-opacity="0.68"/>
<circle cx="504.4" cy="941.0" r="0.8" fill="#000" fill-opacity="0.75"/>
<circle cx="516.6" cy="935.7" r="0.9" fill="#000" fill-opacity="0.52"/>
<circle cx="505.3" cy="939.8" r="0.5" fill="#000" fill-opacity="0.60"/>
<circle cx="515.5" cy="941.6" r="0.8" fill="#000" fill-opacity="0.89"/>
<circle cx="501.9" cy="888.9" r="0.6" fill="#000" fill-opacity="0.87"/>
<circle cx="514.3" cy="915.9" r="0.5" fill="#000" fill-opacity="0.63"/>
<circle cx="518.9" cy="932.0" r="0.9" fill="#000" fill-opacity="0.69"/>
<circle cx="510.6" cy="898.6" r="1.0" fill="#000" fill-opacity="0.64"/>
<circle cx="495.7" cy="924.0" r="0.6" fill="#000" fill-opacity="0.70"/>
<circle cx="550.8" cy="896.4" r="1.1" fill="#000" fill-opacity="0.86"/>
<circle cx="511.5" cy="916.9" r="1.0" fill="#000" fill-opacity="0.81"/>
<circle cx="503.4" cy="884.8" r="0.7" fill="#000" fill-opacity="0.55"/>
<circle cx="495.1" cy="887.7" r="0.9" fill="#000" fill-opacity="0.54"/>
<circle cx="514.7" cy="895.6" r="0.6" fill="#000" fill-opacity="0.68"/>
<circle cx="514.3" cy="886.8" r="0.6" fill="#000" fill-opacity="0.56"/>
<circle cx="504.7" cy="893.2" r="1.0" fill="#000" fill-opacity="0.65"/>
<circle cx="515.7" cy="943.3" r="0.9" fill="#000" fill-opacity="0.69"/>
<circle cx="516.9" cy="950.3" r="1.0" fill="#000" fill-opacity="0.83"/>
<circle cx="524.4" cy="943.3" r="0.8" fill="#000" fill-opacity="0.82"/>
<circle cx="532.3" cy="946.3" r="0.8" fill="#000" fill-opacity="0.71"/>
<circle cx="513.5" cy="948.9" r="1.0" fill="#000" fill-opacity="0.83"/>
<circle cx="523.8" cy="894.3" r="0.9" fill="#000" fill-opacity="0.68"/>
<circle cx="527.2" cy="897.4" r="0.9" fill="#000" fill-opacity="0.68"/>
<circle cx="543.7" cy="931.1" r="0.9" fill="#000" fill-opacity="0.82"/>
<circle cx="512.4" cy="932.7" r="0.9" fill="#000" fill-opacity="0.81"/>
<circle cx="504.5" cy="933.4" r="1.1" fill="#000" fill-opacity="0.67"/>
<circle cx="501.9" cy="918.2" r="0.8" fill="#000" fill-opacity="0.90"/>
<circle cx="504.2" cy="899.3" r="1.1" fill="#000" fill-opacity="0.75"/>
<circle cx="518.3" cy="934.7" r="0.9" fill="#000" fill-opacity="0.78"/>
<circle cx="546.0" cy="897.3" r="0.8" fill="#000" fill-opacity="0.64"/>
<circle cx="533.0" cy="902.2" r="0.9" fill="#000" fill-opacity="0.50"/>
<circle cx="531.7" cy="897.0" r="1.0" fill="#000" fill-opacity="0.82"/>
<circle cx="515.9" cy="937.7" r="0.8" fill="#000" fill-opacity="0.82"/>
<circle cx="511.1" cy="953.0" r="1.1" fill="#000" fill-opacity="0.88"/>
<circle cx="505.3" cy="889.3" r="1.1" fill="#000" fill-opacity="0.54"/>
<circle cx="511.2" cy="913.9" r="1.1" fill="#000" fill-opacity="0.79"/>
<circle cx="520.9" cy="974.5" r="0.7" fill="#000" fill-opacity="0.72"/>
<circle cx="519.7" cy="885.7" r="1.1" fill="#000" fill-opacity="0.69"/>
<circle cx="533.5" cy="904.3" r="0.5" fill="#000" fill-opacity="0.79"/>
<circle cx="491.8" cy="929.5" r="0.8" fill="#000" fill-opacity="0.81"/>
<circle cx="527.4" cy="910.1" r="1.1" fill="#000" fill-opacity="0.65"/>
<circle cx="519.2" cy="951.3" r="0.7" fill="#000" fill-opacity="0.83"/>
<circle cx="529.9" cy="925.3" r="0.9" fill="#000" fill-opacity="0.65"/>
<circle cx="521.3" cy="938.8" r="0.8" fill="#000" fill-opacity="0.58"/>
<circle cx="504.5" cy="892.0" r="0.7" fill="#000" fill-opacity="0.83"/>
<circle cx="501.0" cy="893.6" r="0.6" fill="#000" fill-opacity="0.52"/>
<circle cx="474.9" cy="989.4" r="0.9" fill="#000" fill-opacity="0.56"/>
<circle cx="506.4" cy="920.9" r="1.1" fill="#000" fill-opacity="0.55"/>
<circle cx="492.5" cy="904.5" r="0.7" fill="#000" fill-opacity="0.66"/>
<circle cx="535.3" cy="943.5" r="0.9" fill="#000" fill-opacity="0.63"/>
<circle cx="503.2" cy="867.4" r="0.7" fill="#000" fill-opacity="0.55"/>
<circle cx="516.5" cy="915.0" r="0.9" fill="#000" fill-opacity="0.85"/>
<circle cx="523.5" cy="952.2" r="0.7" fill="#000" fill-opacity="0.74"/>
<circle cx="506.6" cy="896.8" r="0.6" fill="#000" fill-opacity="0.64"/>
<circle cx="509.1" cy="912.4" r="0.6" fill="#000" fill-opacity="0.63"/>
<circle cx="493.6" cy="912.6" r="0.6" fill="#000" fill-opacity="0.59"/>
<circle cx="564.1" cy="871.8" r="0.8" fill="#000" fill-opacity="0.7"/>
<circle cx="566.4" cy="920.5" r="0.8" fill="#000" fill-opacity="0.7"/>
<circle cx="500.0" cy="882.9" r="0.9" fill="#000" fill-opacity="0.7"/>
<circle cx="564.3" cy="950.0" r="0.6" fill="#000" fill-opacity="0.7"/>
<circle cx="664.7" cy="935.1" r="0.6" fill="#000" fill-opacity="0.7"/>
<circle cx="511.6" cy="876.1" r="0.6" fill="#000" fill-opacity="0.7"/>
<circle cx="524.5" cy="832.8" r="0.9" fill="#000" fill-opacity="0.7"/>
<circle cx="587.6" cy="855.2" r="0.6" fill="#000" fill-opacity="0.7"/>
<circle cx="639.8" cy="937.6" r="0.6" fill="#000" fill-opacity="0.7"/>
<circle cx="718.4" cy="907.2" r="0.6" fill="#000" fill-opacity="0.7"/>
<circle cx="633.9" cy="954.2" r="1.0" fill="#000" fill-opacity="0.7"/>
<circle cx="524.3" cy="853.4" r="0.9" fill="#000" fill-opacity="0.7"/>
<circle cx="605.2" cy="896.8" r="0.7" fill="#000" fill-opacity="0.7"/>
<circle cx="709.9" cy="888.5" r="0.6" fill="#000" fill-opacity="0.7"/>
<circle cx="622.6" cy="872.8" r="0.7" fill="#000" fill-opacity="0.7"/>
<circle cx="508.6" cy="822.4" r="0.7" fill="#000" fill-opacity="0.7"/>
<circle cx="514.9" cy="910.4" r="0.5" fill="#000" fill-opacity="0.7"/>
<circle cx="544.0" cy="833.0" r="0.9" fill="#000" fill-opacity="0.7"/>
<circle cx="560.1" cy="861.0" r="0.5" fill="#000" fill-opacity="0.7"/>
<circle cx="630.5" cy="954.5" r="0.9" fill="#000" fill-opacity="0.7"/>
<circle cx="678.5" cy="875.4" r="0.8" fill="#000" fill-opacity="0.7"/>
<circle cx="564.3" cy="881.1" r="0.7" fill="#000" fill-opacity="0.7"/>
<circle cx="577.4" cy="952.7" r="0.8" fill="#000" fill-opacity="0.7"/>
<circle cx="572.3" cy="900.2" r="0.9" fill="#000" fill-opacity="0.7"/>
<circle cx="660.3" cy="913.3" r="0.9" fill="#000" fill-opacity="0.7"/>
<circle cx="583.4" cy="832.5" r="0.8" fill="#000" fill-opacity="0.7"/>
<circle cx="693.3" cy="887.0" r="0.6" fill="#000" fill-opacity="0.7"/>
<circle cx="554.5" cy="833.0" r="0.8" fill="#000" fill-opacity="0.7"/>
<circle cx="538.3" cy="922.2" r="0.8" fill="#000" fill-opacity="0.7"/>
<circle cx="656.0" cy="833.4" r="0.6" fill="#000" fill-opacity="0.7"/>
<circle cx="572.9" cy="918.5" r="0.8" fill="#000" fill-opacity="0.7"/>
<circle cx="515.9" cy="902.4" r="0.8" fill="#000" fill-opacity="0.7"/>
<circle cx="510.6" cy="942.2" r="0.8" fill="#000" fill-opacity="0.7"/>
<circle cx="535.5" cy="839.1" r="0.9" fill="#000" fill-opacity="0.7"/>
<circle cx="677.1" cy="939.4" r="0.6" fill="#000" fill-opacity="0.7"/>
<circle cx="720.6" cy="955.9" r="0.6" fill="#000" fill-opacity="0.7"/>
<circle cx="557.7" cy="951.5" r="0.6" fill="#000" fill-opacity="0.7"/>
<circle cx="699.5" cy="889.9" r="0.7" fill="#000" fill-opacity="0.7"/>
<circle cx="564.8" cy="838.4" r="0.9" fill="#000" fill-opacity="0.7"/>
<circle cx="705.1" cy="860.4" r="0.5" fill="#000" fill-opacity="0.7"/>
<circle cx="698.4" cy="910.2" r="0.7" fill="#000" fill-opacity="0.7"/>
<circle cx="690.8" cy="851.9" r="0.7" fill="#000" fill-opacity="0.7"/>
<circle cx="708.3" cy="848.6" r="0.7" fill="#000" fill-opacity="0.7"/>
<circle cx="642.2" cy="933.2" r="0.8" fill="#000" fill-opacity="0.7"/>
<circle cx="631.5" cy="906.4" r="0.6" fill="#000" fill-opacity="0.7"/>
<circle cx="503.7" cy="845.7" r="0.7" fill="#000" fill-opacity="0.7"/>
<circle cx="595.6" cy="935.9" r="0.8" fill="#000" fill-opacity="0.7"/>
<circle cx="690.1" cy="848.1" r="0.6" fill="#000" fill-opacity="0.7"/>
<circle cx="721.8" cy="846.1" r="0.6" fill="#000" fill-opacity="0.7"/>
<circle cx="524.1" cy="933.5" r="0.8" fill="#000" fill-opacity="0.7"/>
<circle cx="516.2" cy="888.8" r="0.6" fill="#000" fill-opacity="0.7"/>
<circle cx="662.4" cy="939.8" r="0.6" fill="#000" fill-opacity="0.7"/>
<circle cx="611.2" cy="848.5" r="0.9" fill="#000" fill-opacity="0.7"/>
<circle cx="539.1" cy="910.0" r="0.8" fill="#000" fill-opacity="0.7"/>
<circle cx="502.2" cy="872.4" r="0.9" fill="#000" fill-opacity="0.7"/>
<circle cx="706.5" cy="862.8" r="0.5" fill="#000" fill-opacity="0.7"/>
<circle cx="573.0" cy="914.7" r="0.6" fill="#000" fill-opacity="0.7"/>
<circle cx="539.3" cy="919.2" r="0.6" fill="#000" fill-opacity="0.7"/>
<circle cx="522.0" cy="881.3" r="0.8" fill="#000" fill-opacity="0.7"/>
<circle cx="597.3" cy="921.7" r="0.6" fill="#000" fill-opacity="0.7"/>
<circle cx="645.4" cy="861.7" r="0.5" fill="#000" fill-opacity="0.7"/>
<circle cx="704.5" cy="909.4" r="0.8" fill="#000" fill-opacity="0.7"/>
<circle cx="648.1" cy="876.0" r="1.0" fill="#000" fill-opacity="0.7"/>
<circle cx="515.6" cy="954.5" r="0.9" fill="#000" fill-opacity="0.7"/>
<circle cx="515.6" cy="861.7" r="0.9" fill="#000" fill-opacity="0.7"/>
<circle cx="542.8" cy="955.5" r="0.9" fill="#000" fill-opacity="0.7"/>
<circle cx="677.1" cy="940.7" r="0.9" fill="#000" fill-opacity="0.7"/>
<circle cx="713.6" cy="856.7" r="1.0" fill="#000" fill-opacity="0.7"/>
<circle cx="535.3" cy="839.3" r="0.8" fill="#000" fill-opacity="0.7"/>
<circle cx="596.9" cy="854.8" r="0.7" fill="#000" fill-opacity="0.7"/>
<circle cx="590.8" cy="887.3" r="0.5" fill="#000" fill-opacity="0.7"/>
<circle cx="504.9" cy="861.1" r="0.9" fill="#000" fill-opacity="0.7"/>
<circle cx="557.3" cy="941.0" r="0.5" fill="#000" fill-opacity="0.7"/>
<circle cx="663.9" cy="827.8" r="0.6" fill="#000" fill-opacity="0.7"/>
<circle cx="632.1" cy="880.3" r="0.6" fill="#000" fill-opacity="0.7"/>
<circle cx="600.3" cy="953.1" r="0.7" fill="#000" fill-opacity="0.7"/>
<circle cx="503.3" cy="882.8" r="0.6" fill="#000" fill-opacity="0.7"/>
<circle cx="650.7" cy="899.2" r="0.5" fill="#000" fill-opacity="0.7"/>
<circle cx="668.4" cy="908.1" r="0.9" fill="#000" fill-opacity="0.7"/>
<circle cx="647.4" cy="904.8" r="0.7" fill="#000" fill-opacity="0.7"/>
<circle cx="600.4" cy="959.1" r="0.9" fill="#000" fill-opacity="0.7"/>
<circle cx="595.3" cy="821.4" r="0.9" fill="#000" fill-opacity="0.7"/>
<circle cx="567.7" cy="854.8" r="0.6" fill="#000" fill-opacity="0.7"/>
<circle cx="534.4" cy="906.2" r="0.7" fill="#000" fill-opacity="0.7"/>
<circle cx="669.1" cy="913.2" r="0.7" fill="#000" fill-opacity="0.7"/>
<circle cx="507.2" cy="840.7" r="0.6" fill="#000" fill-opacity="0.7"/>
<circle cx="576.5" cy="878.9" r="0.7" fill="#000" fill-opacity="0.7"/>
<circle cx="544.5" cy="827.2" r="0.5" fill="#000" fill-opacity="0.7"/>
<circle cx="678.1" cy="874.3" r="0.8" fill="#000" fill-opacity="0.7"/>
<circle cx="588.5" cy="848.0" r="0.6" fill="#000" fill-opacity="0.7"/>
<circle cx="510.8" cy="833.6" r="1.0" fill="#000" fill-opacity="0.7"/>
<circle cx="611.6" cy="833.2" r="0.5" fill="#000" fill-opacity="0.7"/>
<circle cx="599.2" cy="953.4" r="0.9" fill="#000" fill-opacity="0.7"/>
<circle cx="561.6" cy="902.5" r="0.6" fill="#000" fill-opacity="0.7"/>
<circle cx="687.7" cy="949.2" r="1.0" fill="#000" fill-opacity="0.7"/>
<circle cx="581.0" cy="896.4" r="1.0" fill="#000" fill-opacity="0.7"/>
<circle cx="574.9" cy="831.2" r="0.8" fill="#000" fill-opacity="0.7"/>
<circle cx="708.9" cy="936.7" r="0.6" fill="#000" fill-opacity="0.7"/>
<circle cx="710.7" cy="939.3" r="0.6" fill="#000" fill-opacity="0.7"/>
<circle cx="712.9" cy="875.5" r="0.9" fill="#000" fill-opacity="0.7"/>
<circle cx="625.0" cy="888.6" r="0.7" fill="#000" fill-opacity="0.7"/>
<circle cx="623.5" cy="913.7" r="0.9" fill="#000" fill-opacity="0.7"/>
<circle cx="689.2" cy="940.6" r="0.8" fill="#000" fill-opacity="0.7"/>
<circle cx="642.1" cy="885.0" r="0.7" fill="#000" fill-opacity="0.7"/>
<circle cx="720.0" cy="890.1" r="0.6" fill="#000" fill-opacity="0.7"/>
<circle cx="680.3" cy="909.6" r="0.9" fill="#000" fill-opacity="0.7"/>
<circle cx="667.9" cy="832.2" r="0.9" fill="#000" fill-opacity="0.7"/>
<circle cx="708.0" cy="828.2" r="0.6" fill="#000" fill-opacity="0.7"/>
<circle cx="657.7" cy="918.8" r="1.0" fill="#000" fill-opacity="0.7"/>
<circle cx="566.1" cy="896.5" r="0.9" fill="#000" fill-opacity="0.7"/>
<circle cx="709.3" cy="866.3" r="0.8" fill="#000" fill-opacity="0.7"/>
<circle cx="713.0" cy="872.4" r="1.0" fill="#000" fill-opacity="0.7"/>
<circle cx="505.0" cy="905.5" r="0.6" fill="#000" fill-opacity="0.7"/>
<circle cx="500.9" cy="917.5" r="0.8" fill="#000" fill-opacity="0.7"/>
<circle cx="583.6" cy="824.1" r="0.8" fill="#000" fill-opacity="0.7"/>
<circle cx="618.2" cy="875.9" r="1.0" fill="#000" fill-opacity="0.7"/>
<circle cx="534.3" cy="923.4" r="0.7" fill="#000" fill-opacity="0.7"/>
<circle cx="584.5" cy="830.5" r="0.9" fill="#000" fill-opacity="0.7"/>
<circle cx="680.5" cy="954.1" r="0.7" fill="#000" fill-opacity="0.7"/>
<circle cx="566.0" cy="902.5" r="0.8" fill="#000" fill-opacity="0.7"/>
</g>
<ellipse cx="286.0" cy="803.0" rx="3.0" ry="2.0" fill="#1a34e0"/>
<ellipse cx="367.0" cy="806.0" rx="6.0" ry="2.5" fill="#1a34e0"/>
<ellipse cx="372.0" cy="808.0" rx="3.0" ry="2.0" fill="#1a34e0"/>
<ellipse cx="300.0" cy="830.0" rx="2.0" ry="2.0" fill="#1a34e0"/>
<circle cx="545.6" cy="979.0" r="0.9" fill="#102080" fill-opacity="0.6"/>
<circle cx="689.9" cy="999.6" r="0.8" fill="#102080" fill-opacity="0.6"/>
<circle cx="598.1" cy="997.0" r="0.7" fill="#102080" fill-opacity="0.6"/>
<circle cx="563.9" cy="1003.9" r="0.7" fill="#102080" fill-opacity="0.6"/>
<circle cx="555.5" cy="999.0" r="1.1" fill="#102080" fill-opacity="0.6"/>
<circle cx="721.0" cy="998.1" r="1.0" fill="#102080" fill-opacity="0.6"/>
<circle cx="625.4" cy="986.4" r="1.0" fill="#102080" fill-opacity="0.6"/>
<circle cx="540.5" cy="978.9" r="0.9" fill="#102080" fill-opacity="0.6"/>
<circle cx="698.3" cy="975.6" r="1.0" fill="#102080" fill-opacity="0.6"/>
<circle cx="694.9" cy="1000.8" r="1.1" fill="#102080" fill-opacity="0.6"/>
<circle cx="600.3" cy="1004.2" r="1.1" fill="#102080" fill-opacity="0.6"/>
<circle cx="544.0" cy="985.1" r="1.1" fill="#102080" fill-opacity="0.6"/>
<circle cx="586.9" cy="975.9" r="1.1" fill="#102080" fill-opacity="0.6"/>
<circle cx="623.7" cy="995.1" r="0.5" fill="#102080" fill-opacity="0.6"/>
<circle cx="641.9" cy="990.3" r="0.7" fill="#102080" fill-opacity="0.6"/>
<circle cx="569.7" cy="999.5" r="1.2" fill="#102080" fill-opacity="0.6"/>
<circle cx="541.5" cy="990.9" r="1.0" fill="#102080" fill-opacity="0.6"/>
<circle cx="632.4" cy="977.8" r="0.7" fill="#102080" fill-opacity="0.6"/>
<circle cx="628.8" cy="979.7" r="0.6" fill="#102080" fill-opacity="0.6"/>
<circle cx="635.9" cy="1000.5" r="1.0" fill="#102080" fill-opacity="0.6"/>
<circle cx="570.5" cy="983.7" r="0.9" fill="#102080" fill-opacity="0.6"/>
<circle cx="613.2" cy="997.1" r="0.6" fill="#102080" fill-opacity="0.6"/>
<circle cx="575.1" cy="988.5" r="1.2" fill="#102080" fill-opacity="0.6"/>
<circle cx="688.9" cy="991.6" r="0.8" fill="#102080" fill-opacity="0.6"/>
<circle cx="642.9" cy="995.6" r="0.6" fill="#102080" fill-opacity="0.6"/>
<circle cx="660.9" cy="985.9" r="0.6" fill="#102080" fill-opacity="0.6"/>
<circle cx="670.1" cy="991.1" r="0.6" fill="#102080" fill-opacity="0.6"/>
<circle cx="603.4" cy="978.7" r="1.1" fill="#102080" fill-opacity="0.6"/>
<circle cx="708.4" cy="980.0" r="1.0" fill="#102080" fill-opacity="0.6"/>
<circle cx="584.8" cy="981.7" r="0.6" fill="#102080" fill-opacity="0.6"/>
<circle cx="559.2" cy="997.6" r="0.5" fill="#102080" fill-opacity="0.6"/>
<circle cx="704.3" cy="976.4" r="0.9" fill="#102080" fill-opacity="0.6"/>
<circle cx="636.1" cy="1005.0" r="1.1" fill="#102080" fill-opacity="0.6"/>
<circle cx="669.3" cy="1002.6" r="0.6" fill="#102080" fill-opacity="0.6"/>
<circle cx="698.5" cy="981.7" r="0.6" fill="#102080" fill-opacity="0.6"/>
<circle cx="681.9" cy="996.1" r="0.6" fill="#102080" fill-opacity="0.6"/>
<circle cx="708.7" cy="985.4" r="0.9" fill="#102080" fill-opacity="0.6"/>
<circle cx="632.7" cy="991.8" r="0.5" fill="#102080" fill-opacity="0.6"/>
<circle cx="553.4" cy="985.3" r="0.6" fill="#102080" fill-opacity="0.6"/>
<circle cx="682.0" cy="998.4" r="0.5" fill="#102080" fill-opacity="0.6"/>
<circle cx="683.3" cy="980.6" r="0.9" fill="#102080" fill-opacity="0.6"/>
<circle cx="721.3" cy="994.7" r="0.8" fill="#102080" fill-opacity="0.6"/>
<circle cx="596.0" cy="983.2" r="0.8" fill="#102080" fill-opacity="0.6"/>
<circle cx="546.8" cy="992.5" r="0.6" fill="#102080" fill-opacity="0.6"/>
<circle cx="631.0" cy="987.5" r="0.8" fill="#102080" fill-opacity="0.6"/>
<circle cx="708.0" cy="975.7" r="1.2" fill="#102080" fill-opacity="0.6"/>
<circle cx="645.2" cy="986.5" r="0.9" fill="#102080" fill-opacity="0.6"/>
<circle cx="639.3" cy="995.1" r="0.6" fill="#102080" fill-opacity="0.6"/>
<circle cx="625.5" cy="996.6" r="1.0" fill="#102080" fill-opacity="0.6"/>
<circle cx="713.0" cy="1004.2" r="1.0" fill="#102080" fill-opacity="0.6"/>
<circle cx="691.9" cy="995.9" r="0.7" fill="#102080" fill-opacity="0.6"/>
<circle cx="591.5" cy="1002.6" r="0.5" fill="#102080" fill-opacity="0.6"/>
<circle cx="624.5" cy="980.6" r="0.7" fill="#102080" fill-opacity="0.6"/>
<circle cx="556.2" cy="997.8" r="0.5" fill="#102080" fill-opacity="0.6"/>
<circle cx="628.3" cy="1004.6" r="0.5" fill="#102080" fill-opacity="0.6"/>
<circle cx="710.5" cy="980.0" r="0.8" fill="#102080" fill-opacity="0.6"/>
<circle cx="599.2" cy="1003.5" r="1.1" fill="#102080" fill-opacity="0.6"/>
<circle cx="556.8" cy="1004.1" r="0.7" fill="#102080" fill-opacity="0.6"/>
<circle cx="618.4" cy="1005.9" r="0.7" fill="#102080" fill-opacity="0.6"/>
<circle cx="566.6" cy="980.8" r="1.0" fill="#102080" fill-opacity="0.6"/>
<circle cx="648.1" cy="977.6" r="1.0" fill="#102080" fill-opacity="0.6"/>
<circle cx="713.9" cy="976.7" r="1.1" fill="#102080" fill-opacity="0.6"/>
<circle cx="610.7" cy="1000.2" r="1.0" fill="#102080" fill-opacity="0.6"/>
<circle cx="650.1" cy="975.2" r="0.7" fill="#102080" fill-opacity="0.6"/>
<circle cx="616.6" cy="975.9" r="0.7" fill="#102080" fill-opacity="0.6"/>
<circle cx="560.0" cy="977.3" r="0.9" fill="#102080" fill-opacity="0.6"/>
<circle cx="611.2" cy="976.9" r="1.0" fill="#102080" fill-opacity="0.6"/>
<circle cx="635.3" cy="986.5" r="0.5" fill="#102080" fill-opacity="0.6"/>
<circle cx="641.4" cy="995.0" r="0.9" fill="#102080" fill-opacity="0.6"/>
<circle cx="564.2" cy="997.3" r="0.6" fill="#102080" fill-opacity="0.6"/>
<circle cx="654.3" cy="979.8" r="1.2" fill="#102080" fill-opacity="0.6"/>
<circle cx="574.6" cy="993.2" r="0.9" fill="#102080" fill-opacity="0.6"/>
<circle cx="646.0" cy="977.6" r="1.0" fill="#102080" fill-opacity="0.6"/>
<circle cx="704.3" cy="1003.1" r="0.9" fill="#102080" fill-opacity="0.6"/>
<circle cx="621.9" cy="1001.3" r="1.2" fill="#102080" fill-opacity="0.6"/>
<circle cx="655.5" cy="976.7" r="1.0" fill="#102080" fill-opacity="0.6"/>
<circle cx="548.3" cy="989.1" r="0.8" fill="#102080" fill-opacity="0.6"/>
<circle cx="591.5" cy="996.5" r="0.7" fill="#102080" fill-opacity="0.6"/>
<circle cx="615.9" cy="992.0" r="1.1" fill="#102080" fill-opacity="0.6"/>
<circle cx="670.6" cy="975.8" r="0.5" fill="#102080" fill-opacity="0.6"/>
<circle cx="561.5" cy="980.5" r="0.6" fill="#102080" fill-opacity="0.6"/>
<circle cx="648.7" cy="991.1" r="1.0" fill="#102080" fill-opacity="0.6"/>
<circle cx="659.3" cy="1002.1" r="1.2" fill="#102080" fill-opacity="0.6"/>
<circle cx="679.2" cy="998.4" r="0.5" fill="#102080" fill-opacity="0.6"/>
<circle cx="685.8" cy="987.7" r="1.0" fill="#102080" fill-opacity="0.6"/>
<circle cx="556.5" cy="983.9" r="0.7" fill="#102080" fill-opacity="0.6"/>
<circle cx="692.1" cy="1004.9" r="1.0" fill="#102080" fill-opacity="0.6"/>
<circle cx="673.1" cy="981.9" r="1.1" fill="#102080" fill-opacity="0.6"/>
<circle cx="597.2" cy="979.2" r="1.1" fill="#102080" fill-opacity="0.6"/>
<circle cx="581.3" cy="981.4" r="0.6" fill="#102080" fill-opacity="0.6"/>
<text x="31.5" y="817.1" font-size="26.00" font-weight="bold" fill="#fff">K</text>
<text x="264.0" y="817.3" font-size="26.00" font-weight="bold" fill="#fff">L</text>
<text x="499.0" y="816.6" font-size="26.00" font-weight="bold" fill="#fff">M</text>
<rect x="207.3" y="992.3" width="38.0" height="2.8" fill="#fff"/>
<rect x="440.3" y="993.3" width="38.7" height="2.8" fill="#fff"/>
<rect x="669.7" y="993.3" width="38.7" height="2.8" fill="#fff"/>
<text transform="translate(34.4 989.3) scale(0.900 1)" font-size="15.60" font-weight="bold" fill="#ff2020" stroke="#ff2020" stroke-width="0.5">CD41</text>
<text transform="translate(75.5 989.3) scale(0.900 1)" font-size="15.60" font-weight="bold" fill="#30e030" stroke="#30e030" stroke-width="0.5">CD42</text>
<text transform="translate(122.3 989.3) scale(0.900 1)" font-size="15.60" font-weight="bold" fill="#2a90f0" stroke="#2a90f0" stroke-width="0.5">DAPI</text>
<text x="141.5" y="783.9" font-size="17.60" text-anchor="middle" fill="#1c1c1c" stroke="#1c1c1c" stroke-width="0.30">WT</text>
<text x="375.3" y="783.9" font-size="17.60" text-anchor="middle" fill="#1c1c1c" stroke="#1c1c1c" stroke-width="0.30">β<tspan font-size="72%" dy="2.6">2</tspan><tspan dy="-2.6">-AR KO</tspan></text>
<text x="609.2" y="783.9" font-size="17.60" text-anchor="middle" fill="#1c1c1c" stroke="#1c1c1c" stroke-width="0.30">IL6 KO</text>
<!--END-->
</svg>
</body></html>
